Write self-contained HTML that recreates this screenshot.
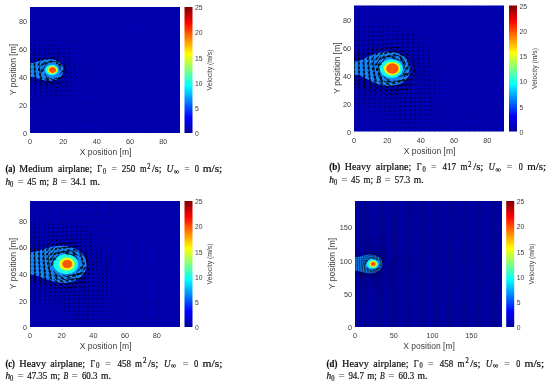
<!DOCTYPE html>
<html><head><meta charset="utf-8"><title>Figure</title>
<style>
html,body{margin:0;padding:0;background:#fff}
svg{display:block;font-family:"Liberation Sans",sans-serif}
.cap text{font-family:"Liberation Serif",serif}
.cap .b{font-weight:bold}
.cap .i{font-style:italic}
.cap .eq{fill:#444;stroke:none}
.cap .sub,.cap .sup{font-size:7.4px}
</style></head><body>
<svg width="550" height="385" viewBox="0 0 550 385">
<rect width="550" height="385" fill="#fff"/>
<defs><linearGradient id="jet" x1="0" y1="1" x2="0" y2="0">
<stop offset="0" stop-color="#00009c"/>
<stop offset="0.125" stop-color="#0000ff"/>
<stop offset="0.25" stop-color="#0080ff"/>
<stop offset="0.375" stop-color="#00ffff"/>
<stop offset="0.5" stop-color="#80ff80"/>
<stop offset="0.625" stop-color="#ffff00"/>
<stop offset="0.75" stop-color="#ff8000"/>
<stop offset="0.875" stop-color="#ff0000"/>
<stop offset="1" stop-color="#800000"/>
</linearGradient>
<clipPath id="cpa"><rect x="30" y="7" width="150" height="126"/></clipPath>
<clipPath id="cpb"><rect x="354" y="5.5" width="150" height="126"/></clipPath>
<clipPath id="cpc"><rect x="30" y="201" width="150" height="126"/></clipPath>
<clipPath id="cpd"><rect x="355" y="201" width="147" height="126"/></clipPath>
</defs>
<g clip-path="url(#cpa)"><g>
<rect x="25" y="2" width="160" height="136" fill="#0000b0"/>
<path d="M45.4 80.5L45.8 80.6L46.2 80.6L46.7 80.7L47.1 80.7L47.5 80.7L47.9 80.8L48.3 80.8L48.8 80.8L49.2 80.8L49.6 80.8L50 80.8L50.4 80.8L50.8 80.8L51.2 80.7L51.7 80.7L52.1 80.6L52.5 80.6L52.9 80.5L53.3 80.4L53.8 80.3L54.2 80.2L54.5 80.2L55 80L55.4 79.9L55.8 79.7L56.2 79.6L56.5 79.5L57.1 79.2L57.5 79L57.9 78.8L58.3 78.5L58.8 78.3L59.1 78.1L59.5 77.7L60 77.3L60.4 77L60.7 76.7L61.1 76.3L61.2 76.1L61.6 75.6L61.9 75.2L62.1 75L62.3 74.6L62.5 74.2L62.7 73.8L62.9 73.5L63 73.2L63.1 72.8L63.2 72.5L63.3 72.1L63.4 71.8L63.4 71.4L63.5 71.1L63.5 70.7L63.5 70.3L63.5 70L63.5 69.7L63.5 69.3L63.5 69L63.4 68.6L63.3 68.3L63.2 67.9L63.1 67.5L63 67.2L62.9 66.9L62.7 66.5L62.6 66.2L62.4 65.8L62.2 65.5L62 65.1L61.7 64.8L61.5 64.4L61.2 64.2L60.8 63.7L60.5 63.4L60.1 63L59.7 62.7L59.3 62.3L58.8 62L58.3 61.7L57.9 61.4L57.6 61.2L57.1 61L56.7 60.8L56.2 60.6L55.8 60.4L55.4 60.3L55 60.1L54.6 60L54.2 59.9L53.8 59.8L53.3 59.7L52.9 59.6L52.5 59.5L52.1 59.5L51.7 59.4L51.2 59.4L50.8 59.3L50.4 59.3L50 59.3L49.6 59.2L49.2 59.2L48.8 59.2L48.3 59.3L47.9 59.3L47.5 59.3L47.1 59.3L46.7 59.4L46.2 59.4L45.8 59.5L45.5 59.5L45 59.6L44.6 59.6L44.2 59.7L43.8 59.8L43.3 59.9L42.9 60L42.5 60.1L42.1 60.2L41.7 60.3L41.2 60.4L40.8 60.5L40.4 60.6L40 60.8L39.6 60.9L39.2 61L38.8 61.2L38.4 61.2L37.9 61.4L37.5 61.6L37.1 61.7L36.7 61.8L36.2 61.9L35.8 62.1L35.4 62.2L35 62.3L34.6 62.4L34.2 62.5L33.8 62.6L33.3 62.7L32.9 62.8L32.5 62.9L32.1 62.9L31.7 63L31.2 63L30.8 63L30.4 63L30 63L30 63.4L30 64.1L30 64.8L30 65.1L30 65.8L30 66.5L30 66.9L30 67.5L30 67.9L30 68.6L30 69.3L30 70L30 70.7L30 71.1L30 71.8L30 72.5L30 72.8L30 73.5L30 74.2L30 74.6L30 75.2L30 76L30 76.3L30 76.9L30.4 76.8L30.8 76.8L31.2 76.9L31.7 76.9L32.1 76.9L32.5 77L32.9 77.1L33.3 77.1L33.8 77.2L34.2 77.3L34.6 77.4L35 77.6L35.4 77.7L35.8 77.8L36.2 77.9L36.6 78.1L37.1 78.2L37.5 78.3L37.9 78.5L38.3 78.6L38.7 78.8L39.2 78.9L39.6 79L40 79.2L40.4 79.3L40.8 79.4L41.2 79.5L41.7 79.7L42.1 79.8L42.5 79.9L42.9 80L43.3 80.1L43.6 80.2L44.2 80.3L44.6 80.4L45 80.4L45.4 80.5Z" fill="#1484fa" fill-rule="evenodd"/>
<path d="M50.7 75.2L51.2 75.3L51.7 75.4L52.1 75.4L52.5 75.3L52.9 75.3L53.3 75.2L53.8 75.2L54.2 75.1L54.6 74.9L55 74.8L55.4 74.6L55.8 74.4L56.1 74.2L56.6 73.8L57 73.5L57.3 73.2L57.5 72.9L57.8 72.5L58 72.1L58.2 71.8L58.3 71.4L58.4 71.1L58.5 70.7L58.5 70.3L58.5 70L58.5 69.7L58.5 69.3L58.4 69L58.3 68.6L58.2 68.2L58 67.9L57.8 67.6L57.6 67.2L57.3 66.9L57.1 66.7L56.7 66.3L56.2 66L56 65.8L55.4 65.5L55 65.3L54.6 65.1L54.2 65L53.8 64.9L53.3 64.8L52.9 64.7L52.5 64.7L52.1 64.7L51.7 64.7L51.2 64.7L50.9 64.8L50.4 64.8L50 64.9L49.6 65L49.2 65.2L48.8 65.3L48.5 65.5L47.9 65.8L47.5 66L47.1 66.4L46.7 66.7L46.3 67.2L46 67.5L45.8 67.8L45.6 68.2L45.5 68.6L45.4 69L45.3 69.3L45.2 69.7L45.2 70L45.2 70.3L45.3 70.7L45.4 71.1L45.5 71.4L45.6 71.8L45.8 72.1L46 72.5L46.2 72.8L46.5 73.2L46.9 73.5L47.1 73.7L47.3 73.8L47.8 74.2L48.3 74.5L48.8 74.7L49.2 74.9L49.6 75L50 75.1L50.4 75.2Z" fill="#14faeb" fill-rule="evenodd"/>
<path d="M50.9 73.8L51.2 73.9L51.7 74L52.1 74L52.5 74L52.9 74L53.3 74L53.8 73.9L54.2 73.8L54.6 73.6L55 73.4L55.4 73.2L55.8 72.8L56.2 72.5L56.5 72.1L56.8 71.8L56.9 71.4L57.1 71.1L57.2 70.7L57.2 70.3L57.2 70L57.2 69.7L57.2 69.3L57.1 69L56.9 68.6L56.7 68.2L56.5 67.9L56.2 67.6L55.8 67.2L55.4 66.9L55 66.6L54.7 66.5L54.2 66.3L53.8 66.2L53.3 66.1L52.9 66L52.5 66L52.1 66L51.7 66L51.2 66.1L50.9 66.2L50.4 66.3L50 66.5L49.6 66.7L49.3 66.9L48.8 67.2L48.4 67.5L48.1 67.9L47.9 68.2L47.7 68.6L47.6 69L47.5 69.3L47.4 69.7L47.4 70L47.4 70.3L47.5 70.7L47.6 71.1L47.7 71.4L47.9 71.8L48.1 72.1L48.3 72.4L48.8 72.8L49.2 73.1L49.6 73.4L49.9 73.5L50.4 73.7L50.8 73.8Z" fill="#ebfa14" fill-rule="evenodd"/>
<path d="M51.7 72.8L52.1 72.9L52.5 72.9L52.9 72.9L53.3 72.8L53.8 72.7L54.2 72.6L54.4 72.5L55 72.1L55.3 71.8L55.6 71.4L55.8 71.1L56 70.7L56 70.3L56.1 70L56 69.7L55.9 69.3L55.8 69L55.6 68.6L55.4 68.4L55 67.9L54.6 67.6L54.2 67.4L53.8 67.3L53.4 67.2L52.9 67.1L52.5 67.1L52.1 67.1L51.8 67.2L51.2 67.3L50.8 67.5L50.4 67.7L50.2 67.9L50 68.1L49.8 68.2L49.6 68.5L49.3 69L49.2 69.3L49.1 69.7L49.1 70L49.1 70.3L49.2 70.7L49.3 71.1L49.5 71.4L49.8 71.8L50 71.9L50.4 72.3L50.7 72.5L51.2 72.7L51.7 72.8Z" fill="#ff5500" fill-rule="evenodd"/>
<path d="M30 133l-.01 0M35 133l.1 0M40 133l.2 0M45 133l.3 0M50 133l.38 0M55 133l.45 0M60 133l.51 0M65 133l.55 0M70 133l.57 0M75 133l.59 0M80 133l.59 0M85 133l.58 0M90 133l.56 0M95 133l.54 0M100 133l.51 0M105 133l.48 0M110 133l.45 0M115 133l.43 0M120 133l.4 0M125 133l.37 0M130 133l.34 0M135 133l.32 0M140 133l.29 0M145 133l.27 0M150 133l.25 0M155 133l.23 0M160 133l.21 0M165 133l.2 0M170 133l.18 0M175 133l.17 0M180 133l.16 0M30 128.8l-.01 .09M35 128.8l.1 .09M40 128.8l.21 .09M45 128.8l.3 .08M50 128.8l.39 .07M55 128.8l.46 .05M60 128.8l.52 .04M65 128.8l.56 .03M70 128.8l.58 .02M75 128.8l.59 0M80 128.8l.59 0M85 128.8l.58 -.01M90 128.8l.56 -.02M95 128.8l.54 -.02M100 128.8l.51 -.02M105 128.8l.48 -.02M110 128.8l.46 -.02M115 128.8l.43 -.02M120 128.8l.4 -.02M125 128.8l.37 -.02M130 128.8l.34 -.02M135 128.8l.32 -.02M140 128.8l.29 -.02M145 128.8l.27 -.02M150 128.8l.25 -.02M155 128.8l.23 -.02M160 128.8l.21 -.01M165 128.8l.2 -.01M170 128.8l.18 -.01M175 128.8l.17 -.01M180 128.8l.16 -.01M30 124.6l-.01 .19M35 124.6l.11 .18M40 124.6l.22 .17M45 124.6l.32 .16M50 124.6l.41 .13M55 124.6l.48 .11M60 124.6l.54 .08M65 124.6l.58 .05M70 124.6l.6 .03M75 124.6l.61 .01M80 124.6l.61 -.01M85 124.6l.59 -.02M90 124.6l.57 -.04M95 124.6l.55 -.04M100 124.6l.52 -.05M105 124.6l.49 -.05M110 124.6l.46 -.05M115 124.6l.42 -.05M120 124.6l.39 -.05M125 124.6l.37 -.05M130 124.6l.34 -.04M135 124.6l.31 -.04M140 124.6l.29 -.04M145 124.6l.27 -.04M150 124.6l.25 -.03M155 124.6l.23 -.03M160 124.6l.21 -.03M165 124.6l.2 -.03M170 124.6l.18 -.02M175 124.6l.17 -.02M180 124.6l.16 -.02M30 120.4l-.01 .29M35 120.4l.12 .29M40 120.4l.24 .27M45 120.4l.35 .24M50 120.4l.45 .2M55 120.4l.53 .16M60 120.4l.58 .12M65 120.4l.62 .08M70 120.4l.64 .04M75 120.4l.64 .01M80 120.4l.63 -.02M85 120.4l.61 -.04M90 120.4l.58 -.06M95 120.4l.55 -.07M100 120.4l.52 -.07M105 120.4l.49 -.08M110 120.4l.45 -.08M115 120.4l.42 -.08M120 120.4l.39 -.07M125 120.4l.36 -.07M130 120.4l.33 -.07M135 120.4l.31 -.06M140 120.4l.29 -.06M145 120.4l.26 -.05M150 120.4l.24 -.05M155 120.4l.23 -.04M160 120.4l.21 -.04M165 120.4l.19 -.04M170 120.4l.18 -.03M175 120.4l.17 -.03M180 120.4l.15 -.03M30 116.2l-.01 .41M35 116.2l.13 .4M40 116.2l.27 .37M45 116.2l.4 .33M50 116.2l.51 .28M55 116.2l.59 .22M60 116.2l.64 .16M65 116.2l.68 .1M70 116.2l.69 .05M75 116.2l.68 0M80 116.2l.66 -.04M85 116.2l.64 -.06M90 116.2l.6 -.08M95 116.2l.57 -.1M100 116.2l.53 -.1M105 116.2l.49 -.11M110 116.2l.45 -.11M115 116.2l.42 -.1M120 116.2l.39 -.1M125 116.2l.36 -.09M130 116.2l.33 -.09M135 116.2l.3 -.08M140 116.2l.28 -.08M145 116.2l.26 -.07M150 116.2l.24 -.06M155 116.2l.22 -.06M160 116.2l.2 -.05M165 116.2l.19 -.05M170 116.2l.17 -.05M175 116.2l.16 -.04M180 116.2l.15 -.04M30 112l-.02 .54M35 112l.16 .53M40 112l.32 .5M45 112l.47 .44M50 112l.59 .36M55 112l.67 .28M60 112l.73 .19M65 112l.76 .11M70 112l.76 .04M75 112l.74 -.02M80 112l.71 -.06M85 112l.67 -.1M90 112l.62 -.12M95 112l.58 -.13M100 112l.53 -.14M105 112l.49 -.14M110 112l.45 -.14M115 112l.41 -.13M120 112l.38 -.13M125 112l.35 -.12M130 112l.32 -.11M135 112l.29 -.1M140 112l.27 -.1M145 112l.25 -.09M150 112l.23 -.08M155 112l.21 -.07M160 112l.2 -.07M165 112l.18 -.06M170 112l.17 -.06M175 112l.16 -.05M180 112l.15 -.05M30 107.8l-.02 .71M35 107.8l.19 .69M40 107.8l.39 .64M45 107.8l.56 .56M50 107.8l.7 .46M55 107.8l.79 .34M60 107.8l.85 .23M65 107.8l.86 .12M70 107.8l.85 .03M75 107.8l.81 -.05M80 107.8l.76 -.1M85 107.8l.7 -.14M90 107.8l.64 -.16M95 107.8l.59 -.17M100 107.8l.54 -.18M105 107.8l.49 -.18M110 107.8l.44 -.17M115 107.8l.4 -.16M120 107.8l.37 -.15M125 107.8l.34 -.14M130 107.8l.31 -.13M135 107.8l.28 -.12M140 107.8l.26 -.11M145 107.8l.24 -.1M150 107.8l.22 -.1M155 107.8l.2 -.09M160 107.8l.19 -.08M165 107.8l.18 -.07M170 107.8l.16 -.07M175 107.8l.15 -.06M180 107.8l.14 -.06M30 103.6l-.03 .91M35 103.6l.24 .88M40 103.6l.48 .82M45 103.6l.69 .7M50 103.6l.86 .56M55 103.6l.96 .4M60 103.6l1 .25M65 103.6l1 .11M70 103.6l.95 -.01M75 103.6l.89 -.09M80 103.6l.81 -.16M85 103.6l.74 -.19M90 103.6l.66 -.21M95 103.6l.59 -.22M100 103.6l.53 -.22M105 103.6l.48 -.22M110 103.6l.43 -.21M115 103.6l.39 -.19M120 103.6l.36 -.18M125 103.6l.32 -.17M130 103.6l.3 -.16M135 103.6l.27 -.14M140 103.6l.25 -.13M145 103.6l.23 -.12M150 103.6l.21 -.11M155 103.6l.19 -.1M160 103.6l.18 -.09M165 103.6l.17 -.08M170 103.6l.16 -.08M175 103.6l.14 -.07M180 103.6l.13 -.06M30 99.4l-.03 1.16M35 99.4l.3 1.13M40 99.4l.61 1.03M45 99.4l.88 .88M50 99.4l1.07 .68M55 99.4l1.18 .46M60 99.4l1.21 .25M65 99.4l1.17 .07M70 99.4l1.08 -.07M75 99.4l.98 -.17M80 99.4l.87 -.23M85 99.4l.77 -.27M90 99.4l.67 -.28M95 99.4l.59 -.28M100 99.4l.53 -.27M105 99.4l.47 -.26M110 99.4l.42 -.24M115 99.4l.37 -.23M120 99.4l.34 -.21M125 99.4l.31 -.19M130 99.4l.28 -.18M135 99.4l.26 -.16M140 99.4l.23 -.15M145 99.4l.22 -.14M150 99.4l.2 -.12M155 99.4l.18 -.11M160 99.4l.17 -.1M165 99.4l.16 -.09M170 99.4l.15 -.09M175 99.4l.14 -.08M180 99.4l.13 -.07M30 95.2l-.04 1.48M35 95.2l.38 1.44M65 95.2l1.39 -.01M70 95.2l1.24 -.18M75 95.2l1.07 -.28M80 95.2l.92 -.34M85 95.2l.79 -.36M90 95.2l.68 -.36M95 95.2l.58 -.35M100 95.2l.51 -.33M105 95.2l.45 -.31M110 95.2l.39 -.28M115 95.2l.35 -.26M120 95.2l.32 -.24M125 95.2l.28 -.22M130 95.2l.26 -.2M135 95.2l.24 -.18M140 95.2l.22 -.16M145 95.2l.2 -.15M150 95.2l.18 -.14M155 95.2l.17 -.12M160 95.2l.16 -.11M165 95.2l.15 -.1M170 95.2l.14 -.09M175 95.2l.13 -.09M180 95.2l.12 -.08M70 91l1.4 -.35M75 91l1.16 -.44M80 91l.95 -.48M85 91l.79 -.47M90 91l.66 -.45M95 91l.55 -.42M100 91l.47 -.39M105 91l.41 -.35M110 91l.36 -.32M115 91l.32 -.29M120 91l.29 -.27M125 91l.26 -.24M130 91l.24 -.22M135 91l.21 -.2M140 91l.2 -.18M145 91l.18 -.16M150 91l.17 -.15M155 91l.16 -.13M160 91l.15 -.12M165 91l.14 -.11M170 91l.13 -.1M175 91l.12 -.09M180 91l.11 -.09M75 86.8l1.2 -.66M80 86.8l.94 -.65M85 86.8l.75 -.6M90 86.8l.61 -.55M95 86.8l.5 -.5M100 86.8l.43 -.45M105 86.8l.37 -.4M110 86.8l.32 -.36M115 86.8l.28 -.32M120 86.8l.25 -.29M125 86.8l.23 -.26M130 86.8l.21 -.24M135 86.8l.19 -.21M140 86.8l.18 -.19M145 86.8l.16 -.17M150 86.8l.15 -.16M155 86.8l.14 -.14M160 86.8l.13 -.13M165 86.8l.12 -.12M170 86.8l.11 -.11M175 86.8l.11 -.1M180 86.8l.1 -.09M75 82.6l1.15 -.94M80 82.6l.86 -.84M85 82.6l.66 -.74M90 82.6l.52 -.65M95 82.6l.43 -.57M100 82.6l.36 -.5M105 82.6l.31 -.44M110 82.6l.27 -.39M115 82.6l.24 -.35M120 82.6l.21 -.31M125 82.6l.19 -.28M130 82.6l.18 -.25M135 82.6l.16 -.22M140 82.6l.15 -.2M145 82.6l.14 -.18M150 82.6l.13 -.17M155 82.6l.12 -.15M160 82.6l.12 -.14M165 82.6l.11 -.13M170 82.6l.1 -.11M175 82.6l.1 -.1M180 82.6l.09 -.1M80 78.4l.68 -1.04M85 78.4l.51 -.87M90 78.4l.4 -.73M95 78.4l.33 -.63M100 78.4l.28 -.54M105 78.4l.24 -.47M110 78.4l.21 -.42M115 78.4l.19 -.37M120 78.4l.17 -.33M125 78.4l.16 -.29M130 78.4l.15 -.26M135 78.4l.14 -.23M140 78.4l.13 -.21M145 78.4l.12 -.19M150 78.4l.11 -.17M155 78.4l.11 -.16M160 78.4l.1 -.14M165 78.4l.1 -.13M170 78.4l.09 -.12M175 78.4l.09 -.11M180 78.4l.08 -.1M80 74.2l.41 -1.19M85 74.2l.31 -.96M90 74.2l.25 -.79M95 74.2l.21 -.67M100 74.2l.18 -.57M105 74.2l.16 -.49M110 74.2l.15 -.43M115 74.2l.13 -.38M120 74.2l.12 -.34M125 74.2l.12 -.3M130 74.2l.11 -.27M135 74.2l.11 -.24M140 74.2l.1 -.22M145 74.2l.1 -.2M150 74.2l.09 -.18M155 74.2l.09 -.16M160 74.2l.08 -.15M165 74.2l.08 -.13M170 74.2l.08 -.12M175 74.2l.07 -.11M180 74.2l.07 -.1M80 70l.06 -1.24M85 70l.07 -.99M90 70l.07 -.81M95 70l.07 -.68M100 70l.07 -.58M105 70l.08 -.5M110 70l.08 -.44M115 70l.08 -.38M120 70l.08 -.34M125 70l.08 -.3M130 70l.08 -.27M135 70l.08 -.24M140 70l.07 -.22M145 70l.07 -.2M150 70l.07 -.18M155 70l.07 -.16M160 70l.07 -.15M165 70l.07 -.14M170 70l.06 -.12M175 70l.06 -.11M180 70l.06 -.11M80 65.8l-.28 -1.18M85 65.8l-.17 -.95M90 65.8l-.11 -.79M95 65.8l-.06 -.66M100 65.8l-.03 -.57M105 65.8l-.01 -.49M110 65.8l.01 -.43M115 65.8l.02 -.38M120 65.8l.03 -.34M125 65.8l.04 -.3M130 65.8l.04 -.27M135 65.8l.05 -.24M140 65.8l.05 -.22M145 65.8l.05 -.2M150 65.8l.05 -.18M155 65.8l.05 -.16M160 65.8l.05 -.15M165 65.8l.05 -.14M170 65.8l.05 -.13M175 65.8l.05 -.12M180 65.8l.05 -.11M75 61.6l-.84 -1.24M80 61.6l-.56 -1.02M85 61.6l-.38 -.86M90 61.6l-.26 -.72M95 61.6l-.18 -.62M100 61.6l-.13 -.54M105 61.6l-.09 -.47M110 61.6l-.06 -.41M115 61.6l-.03 -.37M120 61.6l-.02 -.33M125 61.6l0 -.29M130 61.6l.01 -.26M135 61.6l.02 -.24M140 61.6l.02 -.22M145 61.6l.03 -.2M150 61.6l.03 -.18M155 61.6l.03 -.16M160 61.6l.04 -.15M165 61.6l.04 -.14M170 61.6l.04 -.13M175 61.6l.04 -.12M180 61.6l.04 -.11M75 57.4l-1.03 -.92M80 57.4l-.73 -.82M85 57.4l-.52 -.72M90 57.4l-.38 -.63M95 57.4l-.28 -.56M100 57.4l-.21 -.49M105 57.4l-.15 -.43M110 57.4l-.11 -.39M115 57.4l-.08 -.35M120 57.4l-.06 -.31M125 57.4l-.04 -.28M130 57.4l-.02 -.25M135 57.4l-.01 -.23M140 57.4l0 -.21M145 57.4l.01 -.19M150 57.4l.01 -.17M155 57.4l.02 -.16M160 57.4l.02 -.15M165 57.4l.02 -.14M170 57.4l.03 -.12M175 57.4l.03 -.11M180 57.4l.03 -.11M75 53.2l-1.07 -.63M80 53.2l-.8 -.62M85 53.2l-.61 -.58M90 53.2l-.46 -.53M95 53.2l-.35 -.48M100 53.2l-.27 -.43M105 53.2l-.21 -.39M110 53.2l-.16 -.35M115 53.2l-.12 -.32M120 53.2l-.09 -.29M125 53.2l-.07 -.26M130 53.2l-.05 -.24M135 53.2l-.04 -.22M140 53.2l-.02 -.2M145 53.2l-.01 -.18M150 53.2l-.01 -.17M155 53.2l0 -.16M160 53.2l.01 -.14M165 53.2l.01 -.13M170 53.2l.01 -.12M175 53.2l.02 -.11M180 53.2l.02 -.1M70 49l-1.27 -.31M75 49l-1.02 -.4M80 49l-.81 -.44M85 49l-.64 -.44M90 49l-.5 -.43M95 49l-.4 -.4M100 49l-.31 -.37M105 49l-.25 -.35M110 49l-.2 -.32M115 49l-.16 -.29M120 49l-.12 -.27M125 49l-.1 -.25M130 49l-.08 -.23M135 49l-.06 -.21M140 49l-.04 -.19M145 49l-.03 -.18M150 49l-.02 -.16M155 49l-.01 -.15M160 49l-.01 -.14M165 49l0 -.13M170 49l0 -.12M175 49l.01 -.11M180 49l.01 -.1M60 44.8l-1.38 .29M65 44.8l-1.27 .05M70 44.8l-1.11 -.13M75 44.8l-.93 -.24M80 44.8l-.77 -.3M85 44.8l-.63 -.33M90 44.8l-.51 -.33M95 44.8l-.42 -.33M100 44.8l-.34 -.31M105 44.8l-.28 -.3M110 44.8l-.22 -.28M115 44.8l-.18 -.26M120 44.8l-.15 -.24M125 44.8l-.12 -.22M130 44.8l-.1 -.21M135 44.8l-.08 -.19M140 44.8l-.06 -.18M145 44.8l-.05 -.17M150 44.8l-.04 -.15M155 44.8l-.03 -.14M160 44.8l-.02 -.13M165 44.8l-.01 -.12M170 44.8l-.01 -.12M175 44.8l0 -.11M180 44.8l0 -.1M30 40.6l.03 1.26M35 40.6l-.28 1.23M40 40.6l-.57 1.13M45 40.6l-.82 .97M50 40.6l-.99 .77M55 40.6l-1.09 .55M60 40.6l-1.1 .33M65 40.6l-1.04 .14M70 40.6l-.95 -.01M75 40.6l-.83 -.12M80 40.6l-.71 -.19M85 40.6l-.6 -.23M90 40.6l-.51 -.25M95 40.6l-.42 -.26M100 40.6l-.35 -.26M105 40.6l-.29 -.25M110 40.6l-.24 -.24M115 40.6l-.2 -.23M120 40.6l-.17 -.22M125 40.6l-.14 -.2M130 40.6l-.11 -.19M135 40.6l-.09 -.18M140 40.6l-.08 -.17M145 40.6l-.06 -.16M150 40.6l-.05 -.15M155 40.6l-.04 -.14M160 40.6l-.03 -.13M165 40.6l-.02 -.12M170 40.6l-.02 -.11M175 40.6l-.01 -.1M180 40.6l-.01 -.1M30 36.4l.02 1.02M35 36.4l-.22 1M40 36.4l-.44 .93M45 36.4l-.63 .82M50 36.4l-.77 .67M55 36.4l-.86 .5M60 36.4l-.88 .34M65 36.4l-.86 .19M70 36.4l-.81 .06M75 36.4l-.73 -.03M80 36.4l-.65 -.1M85 36.4l-.56 -.15M90 36.4l-.48 -.18M95 36.4l-.41 -.2M100 36.4l-.35 -.2M105 36.4l-.3 -.21M110 36.4l-.25 -.2M115 36.4l-.21 -.2M120 36.4l-.18 -.19M125 36.4l-.15 -.18M130 36.4l-.13 -.17M135 36.4l-.11 -.16M140 36.4l-.09 -.15M145 36.4l-.07 -.14M150 36.4l-.06 -.14M155 36.4l-.05 -.13M160 36.4l-.04 -.12M165 36.4l-.03 -.11M170 36.4l-.02 -.11M175 36.4l-.02 -.1M180 36.4l-.01 -.09M30 32.2l.02 .84M35 32.2l-.17 .83M40 32.2l-.34 .78M45 32.2l-.49 .69M50 32.2l-.61 .58M55 32.2l-.68 .46M60 32.2l-.72 .33M65 32.2l-.71 .21M70 32.2l-.69 .11M75 32.2l-.64 .02M80 32.2l-.58 -.04M85 32.2l-.52 -.09M90 32.2l-.45 -.12M95 32.2l-.4 -.15M100 32.2l-.34 -.16M105 32.2l-.3 -.17M110 32.2l-.25 -.17M115 32.2l-.22 -.17M120 32.2l-.19 -.16M125 32.2l-.16 -.16M130 32.2l-.14 -.15M135 32.2l-.11 -.15M140 32.2l-.1 -.14M145 32.2l-.08 -.13M150 32.2l-.07 -.13M155 32.2l-.06 -.12M160 32.2l-.05 -.11M165 32.2l-.04 -.11M170 32.2l-.03 -.1M175 32.2l-.03 -.09M180 32.2l-.02 -.09M30 28l.01 .7M35 28l-.13 .69M40 28l-.27 .65M45 28l-.39 .59M50 28l-.48 .51M55 28l-.55 .41M60 28l-.59 .31M65 28l-.6 .22M70 28l-.58 .14M75 28l-.55 .06M80 28l-.51 0M85 28l-.47 -.04M90 28l-.42 -.08M95 28l-.37 -.1M100 28l-.33 -.12M105 28l-.29 -.13M110 28l-.25 -.14M115 28l-.22 -.14M120 28l-.19 -.14M125 28l-.16 -.14M130 28l-.14 -.13M135 28l-.12 -.13M140 28l-.1 -.13M145 28l-.09 -.12M150 28l-.08 -.12M155 28l-.06 -.11M160 28l-.06 -.1M165 28l-.05 -.1M170 28l-.04 -.09M175 28l-.03 -.09M180 28l-.03 -.08M30 23.8l.01 .59M35 23.8l-.1 .58M40 23.8l-.21 .55M45 23.8l-.31 .51M50 23.8l-.39 .44M55 23.8l-.45 .37M60 23.8l-.48 .29M65 23.8l-.5 .22M70 23.8l-.5 .15M75 23.8l-.48 .09M80 23.8l-.45 .03M85 23.8l-.42 -.01M90 23.8l-.38 -.04M95 23.8l-.35 -.07M100 23.8l-.31 -.09M105 23.8l-.28 -.1M110 23.8l-.24 -.11M115 23.8l-.22 -.12M120 23.8l-.19 -.12M125 23.8l-.17 -.12M130 23.8l-.14 -.12M135 23.8l-.13 -.12M140 23.8l-.11 -.11M145 23.8l-.09 -.11M150 23.8l-.08 -.11M155 23.8l-.07 -.1M160 23.8l-.06 -.1M165 23.8l-.05 -.09M170 23.8l-.04 -.09M175 23.8l-.04 -.08M180 23.8l-.03 -.08M30 19.6l.01 .5M35 19.6l-.08 .5M40 19.6l-.17 .48M45 19.6l-.25 .44M50 19.6l-.32 .39M55 19.6l-.37 .33M60 19.6l-.4 .27M65 19.6l-.42 .21M70 19.6l-.42 .15M75 19.6l-.42 .1M80 19.6l-.4 .06M85 19.6l-.38 .02M90 19.6l-.35 -.02M95 19.6l-.32 -.04M100 19.6l-.29 -.06M105 19.6l-.26 -.08M110 19.6l-.23 -.09M115 19.6l-.21 -.09M120 19.6l-.19 -.1M125 19.6l-.16 -.1M130 19.6l-.15 -.1M135 19.6l-.13 -.1M140 19.6l-.11 -.1M145 19.6l-.1 -.1M150 19.6l-.09 -.1M155 19.6l-.08 -.09M160 19.6l-.07 -.09M165 19.6l-.06 -.09M170 19.6l-.05 -.08M175 19.6l-.04 -.08M180 19.6l-.04 -.07M30 15.4l.01 .43M35 15.4l-.07 .43M40 15.4l-.14 .41M45 15.4l-.21 .38M50 15.4l-.26 .34M55 15.4l-.31 .3M60 15.4l-.34 .25M65 15.4l-.36 .2M70 15.4l-.36 .15M75 15.4l-.36 .11M80 15.4l-.35 .07M85 15.4l-.34 .03M90 15.4l-.32 0M95 15.4l-.29 -.02M100 15.4l-.27 -.04M105 15.4l-.25 -.05M110 15.4l-.22 -.07M115 15.4l-.2 -.07M120 15.4l-.18 -.08M125 15.4l-.16 -.08M130 15.4l-.14 -.09M135 15.4l-.13 -.09M140 15.4l-.11 -.09M145 15.4l-.1 -.09M150 15.4l-.09 -.09M155 15.4l-.08 -.08M160 15.4l-.07 -.08M165 15.4l-.06 -.08M170 15.4l-.05 -.08M175 15.4l-.05 -.07M180 15.4l-.04 -.07M30 11.2l.01 .38M35 11.2l-.06 .37M40 11.2l-.12 .36M45 11.2l-.17 .33M50 11.2l-.22 .3M55 11.2l-.26 .27M60 11.2l-.28 .23M65 11.2l-.3 .19M70 11.2l-.31 .15M75 11.2l-.31 .11M80 11.2l-.31 .08M85 11.2l-.3 .05M90 11.2l-.28 .02M95 11.2l-.27 0M100 11.2l-.25 -.02M105 11.2l-.23 -.04M110 11.2l-.21 -.05M115 11.2l-.19 -.06M120 11.2l-.17 -.07M125 11.2l-.16 -.07M130 11.2l-.14 -.07M135 11.2l-.13 -.08M140 11.2l-.11 -.08M145 11.2l-.1 -.08M150 11.2l-.09 -.08M155 11.2l-.08 -.08M160 11.2l-.07 -.07M165 11.2l-.06 -.07M170 11.2l-.06 -.07M175 11.2l-.05 -.07M180 11.2l-.04 -.07M30 7l.01 .33M35 7l-.05 .32M40 7l-.1 .31M45 7l-.14 .3M50 7l-.18 .27M55 7l-.22 .24M60 7l-.24 .21M65 7l-.26 .18M70 7l-.27 .15M75 7l-.27 .11M80 7l-.27 .08M85 7l-.27 .06M90 7l-.26 .03M95 7l-.24 .01M100 7l-.23 -.01M105 7l-.21 -.02M110 7l-.2 -.03M115 7l-.18 -.04M120 7l-.17 -.05M125 7l-.15 -.06M130 7l-.14 -.06M135 7l-.12 -.06M140 7l-.11 -.07M145 7l-.1 -.07M150 7l-.09 -.07M155 7l-.08 -.07M160 7l-.07 -.07M165 7l-.06 -.07M170 7l-.06 -.06M175 7l-.05 -.06M180 7l-.05 -.06" fill="none" stroke="#000" stroke-opacity="0.8" stroke-width="0.4" stroke-linecap="round"/>
<path d="M40 95.2L40.8 96.5L40.3 96.2M40.8 96.5L40.7 95.9M45 95.2L46.1 96.3L45.6 96.1M46.1 96.3L45.9 95.7M50 95.2L51.4 96L50.8 96M51.4 96L51 95.5M55 95.2L56.5 95.7L55.9 95.8M56.5 95.7L56.1 95.3M60 95.2L61.5 95.4L60.9 95.6M61.5 95.4L61 95.1M30 91L29.9 92.9L29.7 92.2M29.9 92.9L30.3 92.2M35 91L35.5 92.8L35 92.3M35.5 92.8L35.6 92.1M40 91L41 92.7L40.4 92.3M41 92.7L40.9 91.9M45 91L46.5 92.4L45.7 92.1M46.5 92.4L46.2 91.7M50 91L51.8 92L51 91.9M51.8 92L51.3 91.4M55 91L56.9 91.5L56.2 91.7M56.9 91.5L56.3 91M60 91L61.9 91.1L61.2 91.4M61.9 91.1L61.2 90.8M65 91L66.6 90.8L66.1 91.2M66.6 90.8L66 90.6M30 86.8L29.9 89.2L29.6 88.4M29.9 89.2L30.3 88.4M35 86.8L35.6 89.2L35 88.4M35.6 89.2L35.8 88.2M40 86.8L41.3 89L40.5 88.4M41.3 89L41.2 88M45 86.8L47 88.6L46 88.3M47 88.6L46.6 87.7M50 86.8L52.5 88L51.4 88M52.5 88L51.8 87.2M55 86.8L57.6 87.3L56.6 87.6M57.6 87.3L56.8 86.7M60 86.8L62.4 86.7L61.5 87.1M62.4 86.7L61.5 86.4M65 86.8L67 86.4L66.3 86.8M67 86.4L66.2 86.2M70 86.8L71.5 86.2L71.1 86.6M71.5 86.2L70.9 86.2M30 82.6L29.9 85.6L29.5 84.6M29.9 85.6L30.4 84.6M35 82.6L35.7 85.6L35 84.7M35.7 85.6L36 84.4M60 82.6L63 82.1L62.1 82.7M63 82.1L61.9 81.8M65 82.6L67.2 81.7L66.6 82.4M67.2 81.7L66.3 81.6M70 82.6L71.6 81.6L71.2 82.2M71.6 81.6L70.9 81.7M65 78.4L67.3 76.7L66.8 77.6M67.3 76.7L66.2 76.9M70 78.4L71.4 76.9L71.2 77.7M71.4 76.9L70.7 77.2M75 78.4L76 77.1L75.8 77.7M76 77.1L75.4 77.4M70 74.2L70.9 72.2L70.9 73M70.9 72.2L70.3 72.7M75 74.2L75.6 72.7L75.6 73.3M75.6 72.7L75.1 73.1M70 70L70.1 67.8L70.4 68.6M70.1 67.8L69.7 68.5M75 70L75.1 68.4L75.3 69M75.1 68.4L74.8 68.9M70 65.8L69.2 63.8L69.8 64.4M69.2 63.8L69.1 64.6M75 65.8L74.5 64.3L74.9 64.7M74.5 64.3L74.5 64.9M65 61.6L62.8 59.9L63.8 60.1M62.8 59.9L63.3 60.8M70 61.6L68.7 60.1L69.4 60.4M68.7 60.1L68.9 60.8M30 57.4L30.1 60.5L29.6 59.4M30.1 60.5L30.5 59.4M35 57.4L34.3 60.4L34.1 59.3M34.3 60.4L35 59.5M60 57.4L57 56.9L58.2 56.6M57 56.9L58 57.6M65 57.4L62.9 56.5L63.8 56.5M62.9 56.5L63.5 57.2M70 57.4L68.5 56.4L69.2 56.5M68.5 56.4L68.9 57M30 53.2L30.1 55.7L29.6 54.8M30.1 55.7L30.4 54.8M35 53.2L34.4 55.6L34.2 54.7M34.4 55.6L35 54.9M40 53.2L38.7 55.4L38.8 54.4M38.7 55.4L39.5 54.9M45 53.2L43.1 55.1L43.4 54.1M43.1 55.1L44 54.7M50 53.2L47.6 54.5L48.2 53.6M47.6 54.5L48.6 54.4M55 53.2L52.5 53.8L53.3 53.2M52.5 53.8L53.5 54M60 53.2L57.7 53.2L58.5 52.8M57.7 53.2L58.5 53.5M65 53.2L63.2 52.8L63.9 52.6M63.2 52.8L63.7 53.2M70 53.2L68.6 52.6L69.2 52.6M68.6 52.6L69 53.1M30 49L30.1 51L29.7 50.3M30.1 51L30.3 50.3M35 49L34.5 50.9L34.4 50.2M34.5 50.9L35 50.3M40 49L39 50.7L39.1 50M39 50.7L39.6 50.3M45 49L43.6 50.5L43.8 49.7M43.6 50.5L44.3 50.2M50 49L48.3 50.1L48.7 49.4M48.3 50.1L49 50M55 49L53.1 49.6L53.7 49.1M53.1 49.6L53.9 49.7M60 49L58.2 49.2L58.8 48.8M58.2 49.2L58.9 49.4M65 49L63.5 48.9L64 48.7M63.5 48.9L64 49.2M30 44.8L30 46.4L29.8 45.8M30 46.4L30.3 45.8M35 44.8L34.6 46.3L34.5 45.7M34.6 46.3L35 45.8M40 44.8L39.2 46.2L39.3 45.6M39.2 46.2L39.7 45.8M45 44.8L43.9 46L44.1 45.4M43.9 46L44.5 45.7M50 44.8L48.7 45.7L49 45.2M48.7 45.7L49.3 45.6M55 44.8L53.6 45.4L54 45M53.6 45.4L54.2 45.4" fill="none" stroke="#000" stroke-opacity="0.85" stroke-width="0.45" stroke-linecap="round"/>
<path d="M40 82.6L41.6 85.5L40.6 84.7M41.6 85.5L41.5 84.2M45 82.6L47.6 85.1L46.3 84.6M47.6 85.1L47.1 83.8M50 82.6L53.5 84.2L52 84.2M53.5 84.2L52.5 83.1M55 82.6L58.6 83L57.3 83.4M58.6 83L57.4 82.3M30 78.4L29.9 82.1L29.4 80.8M29.9 82.1L30.5 80.8M35 78.4L35.7 82.1L34.9 80.9M35.7 82.1L36.1 80.7M40 78.4L41.8 82.2L40.5 81.2M41.8 82.2L41.8 80.6M45 78.4L48.4 82.1L46.6 81.3M48.4 82.1L47.8 80.2M50 78.4L55.3 80.8L53.1 80.8M55.3 80.8L53.9 79.1M55 78.4L60.6 78.3L58.6 79.2M60.6 78.3L58.6 77.4M60 78.4L63.8 76.8L62.7 78M63.8 76.8L62.2 76.8M30 74.2L29.9 78.5L29.3 77M29.9 78.5L30.6 77M35 74.2L35.5 78.6L34.6 77.1M35.5 78.6L36 77M40 74.2L41.3 79.1L40.1 77.6M41.3 79.1L41.7 77.2M45 74.2L48.3 80.1L46.2 78.6M48.3 80.1L48.1 77.5M60 74.2L63.9 70.3L63.2 72.3M63.9 70.3L61.9 71M65 74.2L66.7 71.4L66.6 72.7M66.7 71.4L65.7 72.1M30 70L30 74.5L29.3 72.9M30 74.5L30.7 72.9M35 70L35 74.7L34.3 73M35 74.7L35.8 73M40 70L40 75.5L39.1 73.6M40 75.5L40.9 73.6M60 70L60 63.8L61 66M60 63.8L59 66M65 70L65 66.6L65.6 67.8M65 66.6L64.5 67.8M30 65.8L30 70.1L29.3 68.6M30 70.1L30.7 68.6M35 65.8L34.5 70.2L34 68.6M34.5 70.2L35.4 68.7M40 65.8L38.7 70.7L38.4 68.8M38.7 70.7L39.9 69.2M45 65.8L41.7 71.7L41.9 69.1M41.7 71.7L43.8 70.2M60 65.8L56.2 61.9L58.1 62.7M56.2 61.9L56.9 63.9M65 65.8L63.4 63L64.4 63.7M63.4 63L63.5 64.3M30 61.6L30.1 65.3L29.5 64M30.1 65.3L30.6 64M35 61.6L34.3 65.4L33.9 63.9M34.3 65.4L35.1 64.2M40 61.6L38.3 65.5L38.3 63.8M38.3 65.5L39.5 64.4M45 61.6L41.7 65.3L42.2 63.5M41.7 65.3L43.4 64.5M50 61.6L44.7 64L46.2 62.3M44.7 64L47 64M55 61.6L49.5 61.5L51.4 60.7M49.5 61.5L51.4 62.4M60 61.6L56.2 60.1L57.8 60M56.2 60.1L57.3 61.2M40 57.4L38.4 60.3L38.5 59M38.4 60.3L39.4 59.5M45 57.4L42.4 59.9L42.9 58.6M42.4 59.9L43.7 59.4M50 57.4L46.6 59L47.5 57.9M46.6 59L48 59M55 57.4L51.4 57.8L52.6 57.1M51.4 57.8L52.8 58.2" fill="none" stroke="#000" stroke-opacity="1" stroke-width="0.85" stroke-linecap="round"/>
</g></g>
<rect x="184.5" y="7" width="8" height="126" fill="url(#jet)"/>
<g font-size="6.8" fill="#3c3c3c">
<text x="195.1" y="136.2">0</text>
<text x="195.1" y="111">5</text>
<text x="195.1" y="85.8">10</text>
<text x="195.1" y="60.6">15</text>
<text x="195.1" y="35.4">20</text>
<text x="195.1" y="10.2">25</text>
<text transform="translate(212 70) rotate(-90)" text-anchor="middle">Velocity (m/s)</text>
</g>
<g font-size="7.3" fill="#3c3c3c">
<text x="30" y="144.1" text-anchor="middle">0</text>
<text x="27" y="136.2" text-anchor="end">0</text>
<text x="63.3" y="144.1" text-anchor="middle">20</text>
<text x="27" y="108.2" text-anchor="end">20</text>
<text x="96.7" y="144.1" text-anchor="middle">40</text>
<text x="27" y="80.2" text-anchor="end">40</text>
<text x="130" y="144.1" text-anchor="middle">60</text>
<text x="27" y="52.2" text-anchor="end">60</text>
<text x="163.3" y="144.1" text-anchor="middle">80</text>
<text x="27" y="24.2" text-anchor="end">80</text>
</g>
<g font-size="8.5" fill="#3c3c3c" text-anchor="middle">
<text x="105.6" y="155.3">X position [m]</text>
<text transform="translate(15.5 69.5) rotate(-90)">Y position [m]</text>
</g>
<g clip-path="url(#cpb)"><g>
<rect x="349" y="0.5" width="160" height="136" fill="#0000b0"/>
<path d="M388.5 86L389 86L389.4 86L389.8 86L390.2 86L390.7 86L391.1 86L391.5 85.9L391.9 85.9L392.3 85.9L392.8 85.8L393.2 85.8L393.6 85.7L393.9 85.7L394.4 85.6L394.8 85.5L395.2 85.4L395.7 85.3L396.1 85.2L396.5 85.1L396.9 85L397.3 84.9L397.8 84.7L398.1 84.6L398.6 84.4L399 84.3L399.4 84.1L399.8 83.9L400.2 83.7L400.6 83.6L401.1 83.3L401.3 83.2L401.9 82.9L402.3 82.6L402.8 82.4L403.1 82.2L403.6 81.8L404 81.5L404.4 81.2L404.8 80.8L405.2 80.4L405.7 80.1L406 79.7L406.4 79.3L406.7 79L406.9 78.7L407.2 78.3L407.5 78L407.8 77.6L408 77.2L408.2 77L408.4 76.6L408.6 76.3L408.8 75.8L409 75.5L409.2 75.2L409.3 74.8L409.5 74.5L409.6 74.1L409.7 73.8L409.8 73.4L409.9 73.1L410 72.7L410.1 72.3L410.2 72L410.3 71.7L410.3 71.3L410.4 71L410.4 70.6L410.4 70.2L410.5 69.9L410.5 69.6L410.5 69.2L410.5 68.8L410.5 68.5L410.4 68.2L410.4 67.8L410.4 67.5L410.3 67.1L410.3 66.8L410.2 66.4L410.1 66L410 65.7L409.9 65.4L409.8 65L409.7 64.7L409.6 64.3L409.5 64L409.3 63.6L409.2 63.2L409 62.9L408.8 62.6L408.7 62.2L408.5 61.9L408.2 61.5L408 61.2L407.8 60.8L407.5 60.5L407.3 60.2L407 59.8L406.7 59.4L406.5 59.2L406.1 58.7L405.8 58.4L405.4 58L405 57.7L404.6 57.3L404.4 57.1L404.2 57L404 56.8L403.8 56.6L403.3 56.2L402.8 55.9L402.3 55.6L401.9 55.3L401.7 55.2L401.1 54.9L400.7 54.6L400.4 54.5L399.8 54.2L399.4 54L399 53.8L398.6 53.7L398.2 53.5L397.8 53.3L397.3 53.2L397.1 53.1L396.5 52.9L396.1 52.8L395.7 52.7L395.2 52.6L394.8 52.5L394.4 52.4L394 52.3L393.6 52.2L393.2 52.1L392.8 52.1L392.3 52L391.9 51.9L391.5 51.9L391.1 51.8L390.7 51.8L390.2 51.7L389.9 51.7L389.4 51.7L389 51.7L388.6 51.6L388.2 51.6L387.8 51.6L387.3 51.6L386.9 51.6L386.5 51.6L386.1 51.7L385.7 51.7L385.2 51.7L384.8 51.7L384.4 51.8L384 51.8L383.6 51.9L383.2 51.9L382.8 52L382.3 52L381.9 52.1L381.5 52.2L381.1 52.2L380.7 52.3L380.3 52.4L379.8 52.5L379.4 52.6L379 52.7L378.6 52.8L378.2 52.9L377.8 53L377.4 53.1L376.9 53.2L376.5 53.4L376.2 53.5L375.7 53.6L375.2 53.8L374.8 53.9L374.4 54L374.1 54.2L373.6 54.3L373.2 54.5L372.8 54.7L372.3 54.8L371.9 55L371.5 55.2L371.1 55.3L370.7 55.5L370.2 55.7L369.8 55.9L369.4 56.1L369 56.2L368.6 56.5L368.3 56.6L367.8 56.8L367.3 57L366.9 57.2L366.5 57.4L366.1 57.6L365.7 57.8L365.3 58L364.8 58.3L364.4 58.5L364 58.7L363.6 58.9L363.2 59.1L362.8 59.2L362.4 59.4L361.9 59.6L361.6 59.8L361.1 60L360.8 60.1L360.2 60.3L359.9 60.5L359.4 60.6L359 60.8L358.6 60.9L358.2 61L357.8 61.1L357.3 61.2L356.9 61.3L356.5 61.3L356.1 61.4L355.7 61.4L355.2 61.4L354.8 61.4L354.4 61.4L354 61.3L354 61.9L354 62.6L354 63.2L354 63.6L354 64.3L354 65L354 65.4L354 66L354 66.4L354 67.1L354 67.8L354 68.5L354 69.2L354 69.6L354 70.2L354 71L354 71.3L354 72L354 72.7L354 73.1L354 73.8L354 74.5L354.4 74.7L354.8 74.7L355.2 74.7L355.7 74.7L356.1 74.7L356.5 74.7L356.9 74.8L357.3 74.9L357.8 75L358.2 75.1L358.6 75.2L359 75.3L359.4 75.5L359.8 75.6L360.2 75.8L360.7 76L361.1 76.2L361.5 76.3L361.9 76.5L362.3 76.7L362.6 76.9L363.2 77.2L363.6 77.4L364 77.6L364.4 77.8L364.7 78L365.2 78.3L365.7 78.5L366 78.7L366.5 78.9L366.9 79.1L367.3 79.3L367.8 79.6L368.2 79.8L368.6 80L369 80.2L369.3 80.4L369.8 80.7L370.2 80.9L370.7 81.1L371.1 81.3L371.5 81.5L371.9 81.7L372.2 81.8L372.8 82L373 82.2L373.6 82.4L374 82.6L374.4 82.8L374.8 82.9L375.2 83.1L375.5 83.2L376.1 83.4L376.5 83.6L376.9 83.7L377.3 83.9L377.8 84L378.2 84.1L378.5 84.2L379 84.4L379.4 84.5L379.7 84.6L380.2 84.8L380.7 84.9L381 85L381.5 85.1L381.9 85.2L382.3 85.3L382.8 85.3L383.2 85.4L383.6 85.5L384 85.6L384.4 85.6L384.8 85.7L385.2 85.7L385.7 85.8L386.1 85.8L386.5 85.9L386.9 85.9L387.3 85.9L387.8 86L388.2 86L388.5 86Z" fill="#1484fa" fill-rule="evenodd"/>
<path d="M389.4 77.6L389.8 77.7L390.2 77.7L390.7 77.7L391.1 77.8L391.5 77.8L391.9 77.8L392.3 77.8L392.8 77.7L393.2 77.7L393.6 77.6L394 77.6L394.4 77.5L394.8 77.4L395.2 77.3L395.7 77.2L396.1 77L396.4 76.9L396.9 76.7L397.2 76.6L397.8 76.3L398.2 76L398.4 75.8L399 75.5L399.4 75.2L399.8 74.8L400.2 74.4L400.5 74.1L400.8 73.8L401.1 73.4L401.3 73.1L401.5 72.8L401.8 72.3L401.9 72L402.1 71.7L402.2 71.3L402.3 71L402.4 70.6L402.5 70.2L402.6 69.9L402.6 69.6L402.7 69.2L402.7 68.8L402.7 68.5L402.7 68.2L402.6 67.8L402.6 67.5L402.5 67.1L402.4 66.8L402.3 66.4L402.2 66L402.1 65.7L401.9 65.4L401.8 65L401.6 64.7L401.3 64.3L401.1 64L400.8 63.6L400.7 63.4L400.2 62.9L399.8 62.6L399.4 62.2L399 61.9L398.6 61.6L398.2 61.3L397.9 61.2L397.3 60.8L396.9 60.6L396.5 60.5L396.1 60.3L395.7 60.1L395.2 60L394.8 59.9L394.4 59.8L394 59.7L393.6 59.6L393.2 59.6L392.8 59.5L392.3 59.5L391.9 59.5L391.5 59.5L391.1 59.5L390.7 59.5L390.2 59.5L389.8 59.6L389.4 59.6L389 59.7L388.6 59.8L388.2 59.8L387.8 60L387.3 60.1L386.9 60.2L386.5 60.4L386.1 60.5L385.7 60.7L385.2 60.9L384.8 61.1L384.4 61.4L384 61.7L383.7 61.9L383.3 62.2L382.8 62.6L382.5 62.9L382.1 63.2L381.9 63.5L381.6 64L381.3 64.3L381.1 64.6L380.9 65L380.7 65.4L380.5 65.7L380.4 66L380.3 66.4L380.2 66.8L380.1 67.1L380 67.5L380 67.8L380 68.2L380 68.5L380 68.8L380 69.2L380 69.6L380.1 69.9L380.2 70.2L380.2 70.6L380.4 71L380.5 71.3L380.7 71.7L380.8 72L381 72.3L381.2 72.7L381.5 73.1L381.7 73.4L381.9 73.6L382.3 74.1L382.7 74.5L383.1 74.8L383.5 75.2L384 75.5L384.4 75.8L384.8 76L385.2 76.2L385.7 76.4L386.1 76.6L386.5 76.8L386.9 77L387.3 77.1L387.8 77.2L388.2 77.4L388.6 77.5L389 77.5L389.4 77.6Z" fill="#14faeb" fill-rule="evenodd"/>
<path d="M390.5 75.2L391.1 75.2L391.5 75.3L391.9 75.3L392.3 75.3L392.8 75.3L393.2 75.2L393.6 75.2L394 75.1L394.4 75L394.8 74.9L395.1 74.8L395.7 74.6L396 74.5L396.5 74.2L396.9 74L397.3 73.8L397.7 73.4L398.1 73.1L398.5 72.7L398.8 72.3L399 72.1L399.3 71.7L399.5 71.3L399.7 71L399.8 70.6L399.9 70.2L400 69.9L400.1 69.6L400.2 69.2L400.2 68.8L400.2 68.5L400.2 68.2L400.1 67.8L400.1 67.5L400 67.1L399.9 66.8L399.8 66.4L399.6 66L399.4 65.7L399.2 65.4L399 65.1L398.7 64.7L398.3 64.3L398 64L397.8 63.8L397.5 63.6L397 63.2L396.5 62.9L396.1 62.7L395.7 62.6L395.2 62.4L394.8 62.3L394.4 62.1L394 62L393.6 62L393.2 61.9L392.8 61.9L392.3 61.9L391.9 61.9L391.5 61.9L391.1 61.9L390.7 61.9L390.2 62L389.8 62.1L389.4 62.2L389 62.3L388.6 62.5L388.2 62.7L387.8 62.9L387.3 63.1L387 63.2L386.5 63.6L386.1 64L385.7 64.3L385.4 64.7L385.1 65L384.9 65.4L384.6 65.7L384.5 66L384.3 66.4L384.2 66.8L384.1 67.1L384 67.5L383.9 67.8L383.9 68.2L383.9 68.5L383.9 68.8L383.9 69.2L384 69.6L384 69.9L384.1 70.2L384.3 70.6L384.4 71L384.6 71.3L384.8 71.7L385 72L385.2 72.3L385.6 72.7L386 73.1L386.4 73.4L386.9 73.8L387.3 74L387.8 74.3L388.2 74.5L388.6 74.6L389 74.8L389.4 74.9L389.8 75L390.2 75.1Z" fill="#ebfa14" fill-rule="evenodd"/>
<path d="M390.3 73.4L390.7 73.5L391.1 73.6L391.5 73.6L391.9 73.7L392.3 73.7L392.8 73.7L393.2 73.7L393.6 73.6L394 73.5L394.4 73.4L394.8 73.3L395.2 73.1L395.7 72.9L396 72.7L396.5 72.4L396.9 72L397.3 71.7L397.6 71.3L397.8 71.1L398 70.6L398.2 70.3L398.3 69.9L398.4 69.6L398.5 69.2L398.5 68.8L398.5 68.5L398.5 68.2L398.5 67.8L398.4 67.5L398.3 67.1L398.2 66.8L398 66.4L397.8 66L397.5 65.7L397.3 65.5L396.9 65.1L396.5 64.7L396.1 64.4L395.7 64.2L395.2 64L394.8 63.8L394.4 63.7L394.1 63.6L393.6 63.5L393.2 63.4L392.8 63.4L392.3 63.4L391.9 63.4L391.5 63.4L391.1 63.5L390.7 63.6L390.2 63.7L389.8 63.8L389.5 64L389 64.2L388.6 64.4L388.3 64.7L387.8 65L387.5 65.4L387.1 65.7L386.9 66L386.7 66.4L386.5 66.8L386.4 67.1L386.3 67.5L386.2 67.8L386.1 68.2L386.1 68.5L386.1 68.8L386.2 69.2L386.2 69.6L386.3 69.9L386.5 70.2L386.6 70.6L386.9 71L387.1 71.3L387.3 71.6L387.8 72L388.2 72.3L388.6 72.6L389 72.9L389.4 73.1L389.8 73.3L390.2 73.4Z" fill="#ff5500" fill-rule="evenodd"/>
<path d="M354 131.5l-.06 0M359 131.5l.17 0M364 131.5l.4 0M369 131.5l.61 0M374 131.5l.81 0M379 131.5l.99 0M384 131.5l1.15 0M389 131.5l1.28 0M394 131.5l1.37 0M399 131.5l1.44 0M404 131.5l1.48 0M409 131.5l1.49 0M414 131.5l1.48 0M419 131.5l1.45 0M424 131.5l1.4 0M429 131.5l1.35 0M434 131.5l1.28 0M439 131.5l1.21 0M444 131.5l1.14 0M449 131.5l1.06 0M454 131.5l.99 0M459 131.5l.92 0M464 131.5l.86 0M469 131.5l.8 0M474 131.5l.74 0M479 131.5l.68 0M484 131.5l.63 0M489 131.5l.59 0M494 131.5l.54 0M499 131.5l.5 0M504 131.5l.47 0M354 127.3l-.06 .19M359 127.3l.17 .19M364 127.3l.4 .19M369 127.3l.62 .18M374 127.3l.82 .16M379 127.3l1.01 .14M384 127.3l1.16 .12M389 127.3l1.29 .09M394 127.3l1.39 .07M399 127.3l1.46 .04M404 127.3l1.49 .02M414 127.3l1.49 -.02M419 127.3l1.46 -.03M424 127.3l1.41 -.04M429 127.3l1.35 -.05M434 127.3l1.28 -.06M439 127.3l1.21 -.06M444 127.3l1.14 -.06M449 127.3l1.06 -.06M454 127.3l.99 -.06M459 127.3l.92 -.06M464 127.3l.86 -.05M469 127.3l.79 -.05M474 127.3l.74 -.05M479 127.3l.68 -.04M484 127.3l.63 -.04M489 127.3l.58 -.04M494 127.3l.54 -.03M499 127.3l.5 -.03M504 127.3l.47 -.03M354 123.1l-.06 .39M359 123.1l.18 .39M364 123.1l.42 .38M369 123.1l.65 .36M374 123.1l.86 .33M379 123.1l1.04 .29M384 123.1l1.21 .24M389 123.1l1.34 .19M394 123.1l1.43 .14M419 123.1l1.48 -.07M424 123.1l1.43 -.09M429 123.1l1.36 -.11M434 123.1l1.29 -.12M439 123.1l1.21 -.12M444 123.1l1.14 -.12M449 123.1l1.06 -.12M454 123.1l.99 -.12M459 123.1l.92 -.11M464 123.1l.85 -.11M469 123.1l.79 -.1M474 123.1l.73 -.09M479 123.1l.68 -.09M484 123.1l.63 -.08M489 123.1l.58 -.07M494 123.1l.54 -.07M499 123.1l.5 -.06M504 123.1l.46 -.06M354 118.9l-.06 .6M359 118.9l.19 .6M364 118.9l.45 .58M369 118.9l.69 .55M374 118.9l.91 .5M379 118.9l1.11 .44M384 118.9l1.28 .37M389 118.9l1.41 .29M424 118.9l1.46 -.15M429 118.9l1.38 -.17M434 118.9l1.3 -.18M439 118.9l1.22 -.19M444 118.9l1.14 -.19M449 118.9l1.06 -.19M454 118.9l.98 -.18M459 118.9l.91 -.17M464 118.9l.84 -.16M469 118.9l.78 -.15M474 118.9l.72 -.14M479 118.9l.67 -.13M484 118.9l.62 -.12M489 118.9l.57 -.11M494 118.9l.53 -.1M499 118.9l.49 -.09M504 118.9l.45 -.09M354 114.7l-.07 .83M359 114.7l.21 .82M364 114.7l.48 .8M369 114.7l.74 .75M374 114.7l.99 .68M379 114.7l1.2 .6M384 114.7l1.39 .5M429 114.7l1.4 -.24M434 114.7l1.31 -.26M439 114.7l1.22 -.26M444 114.7l1.13 -.26M449 114.7l1.05 -.25M454 114.7l.97 -.24M459 114.7l.9 -.23M464 114.7l.83 -.22M469 114.7l.76 -.2M474 114.7l.7 -.19M479 114.7l.65 -.17M484 114.7l.6 -.16M489 114.7l.56 -.15M494 114.7l.52 -.14M499 114.7l.48 -.13M504 114.7l.44 -.11M354 110.5l-.08 1.07M359 110.5l.23 1.07M364 110.5l.53 1.03M369 110.5l.82 .97M374 110.5l1.09 .89M429 110.5l1.43 -.32M434 110.5l1.33 -.34M439 110.5l1.22 -.34M444 110.5l1.13 -.34M449 110.5l1.04 -.33M454 110.5l.95 -.31M459 110.5l.88 -.29M464 110.5l.81 -.27M469 110.5l.74 -.25M474 110.5l.68 -.24M479 110.5l.63 -.22M484 110.5l.58 -.2M489 110.5l.54 -.18M494 110.5l.5 -.17M499 110.5l.46 -.15M504 110.5l.43 -.14M354 106.3l-.09 1.35M359 106.3l.26 1.34M364 106.3l.59 1.3M434 106.3l1.33 -.43M439 106.3l1.22 -.43M444 106.3l1.11 -.42M449 106.3l1.02 -.4M454 106.3l.93 -.38M459 106.3l.85 -.35M464 106.3l.78 -.33M469 106.3l.72 -.31M474 106.3l.66 -.28M479 106.3l.61 -.26M484 106.3l.56 -.24M489 106.3l.52 -.22M494 106.3l.48 -.2M499 106.3l.45 -.18M504 106.3l.41 -.17M434 102.1l1.33 -.54M439 102.1l1.2 -.53M444 102.1l1.09 -.51M449 102.1l.99 -.48M454 102.1l.9 -.45M459 102.1l.82 -.42M464 102.1l.75 -.39M469 102.1l.69 -.36M474 102.1l.63 -.33M479 102.1l.58 -.3M484 102.1l.54 -.27M489 102.1l.5 -.25M494 102.1l.46 -.23M499 102.1l.43 -.21M504 102.1l.4 -.19M434 97.9l1.32 -.66M439 97.9l1.17 -.64M444 97.9l1.05 -.6M449 97.9l.94 -.56M454 97.9l.85 -.52M459 97.9l.78 -.48M464 97.9l.71 -.44M469 97.9l.65 -.4M474 97.9l.59 -.37M479 97.9l.55 -.34M484 97.9l.5 -.31M489 97.9l.47 -.28M494 97.9l.43 -.26M499 97.9l.4 -.24M504 97.9l.37 -.22M439 93.7l1.12 -.75M444 93.7l1 -.7M449 93.7l.89 -.64M454 93.7l.8 -.59M459 93.7l.72 -.54M464 93.7l.66 -.49M469 93.7l.6 -.45M474 93.7l.55 -.41M479 93.7l.51 -.37M484 93.7l.47 -.34M489 93.7l.43 -.31M494 93.7l.4 -.28M499 93.7l.38 -.26M504 93.7l.35 -.24M439 89.5l1.05 -.87M444 89.5l.92 -.79M449 89.5l.82 -.72M454 89.5l.73 -.66M459 89.5l.66 -.6M464 89.5l.6 -.54M469 89.5l.55 -.49M474 89.5l.5 -.45M479 89.5l.46 -.41M484 89.5l.43 -.37M489 89.5l.4 -.34M494 89.5l.37 -.31M499 89.5l.35 -.28M504 89.5l.32 -.26M439 85.3l.94 -.99M444 85.3l.82 -.89M449 85.3l.72 -.8M454 85.3l.65 -.72M459 85.3l.59 -.65M464 85.3l.53 -.59M469 85.3l.49 -.53M474 85.3l.45 -.48M479 85.3l.42 -.44M484 85.3l.39 -.4M489 85.3l.36 -.36M494 85.3l.34 -.33M499 85.3l.32 -.3M504 85.3l.3 -.27M439 81.1l.8 -1.09M444 81.1l.7 -.97M449 81.1l.62 -.86M454 81.1l.55 -.77M459 81.1l.5 -.69M464 81.1l.46 -.62M469 81.1l.42 -.56M474 81.1l.39 -.51M479 81.1l.36 -.46M484 81.1l.34 -.42M489 81.1l.32 -.38M494 81.1l.3 -.35M499 81.1l.28 -.31M504 81.1l.27 -.29M439 76.9l.62 -1.18M444 76.9l.55 -1.04M449 76.9l.49 -.92M454 76.9l.44 -.81M459 76.9l.41 -.73M464 76.9l.38 -.65M469 76.9l.35 -.59M474 76.9l.33 -.53M479 76.9l.31 -.48M484 76.9l.29 -.43M489 76.9l.28 -.39M494 76.9l.26 -.36M499 76.9l.25 -.33M504 76.9l.23 -.3M439 72.7l.42 -1.24M444 72.7l.38 -1.08M449 72.7l.35 -.95M454 72.7l.33 -.84M459 72.7l.31 -.75M464 72.7l.29 -.67M469 72.7l.28 -.6M474 72.7l.26 -.54M479 72.7l.25 -.49M484 72.7l.24 -.44M489 72.7l.23 -.4M494 72.7l.22 -.37M499 72.7l.21 -.34M504 72.7l.2 -.31M434 68.5l.21 -1.46M439 68.5l.21 -1.26M444 68.5l.21 -1.09M449 68.5l.21 -.96M454 68.5l.21 -.85M459 68.5l.21 -.76M464 68.5l.21 -.68M469 68.5l.2 -.61M474 68.5l.2 -.55M479 68.5l.19 -.5M484 68.5l.19 -.45M489 68.5l.19 -.41M494 68.5l.18 -.37M499 68.5l.18 -.34M504 68.5l.17 -.31M434 64.3l-.06 -1.43M439 64.3l-.01 -1.24M444 64.3l.04 -1.08M449 64.3l.07 -.95M454 64.3l.09 -.84M459 64.3l.11 -.75M464 64.3l.12 -.67M469 64.3l.13 -.61M474 64.3l.13 -.55M479 64.3l.14 -.5M484 64.3l.14 -.45M489 64.3l.14 -.41M494 64.3l.14 -.38M499 64.3l.14 -.35M504 64.3l.14 -.32M434 60.1l-.31 -1.35M439 60.1l-.2 -1.18M444 60.1l-.12 -1.03M449 60.1l-.07 -.92M454 60.1l-.02 -.82M459 60.1l.01 -.73M464 60.1l.03 -.66M469 60.1l.05 -.6M474 60.1l.07 -.54M479 60.1l.08 -.49M484 60.1l.09 -.45M489 60.1l.1 -.41M494 60.1l.1 -.38M499 60.1l.1 -.34M504 60.1l.11 -.32M434 55.9l-.51 -1.22M439 55.9l-.37 -1.09M444 55.9l-.27 -.97M449 55.9l-.19 -.87M454 55.9l-.13 -.78M459 55.9l-.08 -.7M464 55.9l-.04 -.64M469 55.9l-.01 -.58M474 55.9l.01 -.53M479 55.9l.03 -.48M484 55.9l.04 -.44M489 55.9l.05 -.4M494 55.9l.06 -.37M499 55.9l.07 -.34M504 55.9l.08 -.31M429 51.7l-.87 -1.19M434 51.7l-.66 -1.08M439 51.7l-.5 -.98M444 51.7l-.38 -.89M449 51.7l-.29 -.8M454 51.7l-.22 -.73M459 51.7l-.16 -.66M464 51.7l-.11 -.61M469 51.7l-.08 -.55M474 51.7l-.05 -.51M479 51.7l-.02 -.46M484 51.7l0 -.43M489 51.7l.01 -.39M494 51.7l.03 -.36M499 51.7l.04 -.33M504 51.7l.05 -.31M429 47.5l-.97 -.99M434 47.5l-.76 -.93M439 47.5l-.6 -.86M444 47.5l-.47 -.79M449 47.5l-.37 -.73M454 47.5l-.29 -.67M459 47.5l-.23 -.62M464 47.5l-.17 -.57M469 47.5l-.13 -.52M474 47.5l-.1 -.48M479 47.5l-.07 -.44M484 47.5l-.04 -.41M489 47.5l-.02 -.38M494 47.5l-.01 -.35M499 47.5l.01 -.33M504 47.5l.02 -.3M424 43.3l-1.24 -.8M429 43.3l-1.01 -.8M434 43.3l-.82 -.78M439 43.3l-.67 -.74M444 43.3l-.54 -.7M449 43.3l-.44 -.65M454 43.3l-.35 -.61M459 43.3l-.28 -.57M464 43.3l-.22 -.53M469 43.3l-.18 -.49M474 43.3l-.14 -.45M479 43.3l-.11 -.42M484 43.3l-.08 -.39M489 43.3l-.06 -.36M494 43.3l-.04 -.34M499 43.3l-.02 -.31M504 43.3l-.01 -.29M424 39.1l-1.21 -.61M429 39.1l-1.01 -.64M434 39.1l-.84 -.64M439 39.1l-.7 -.63M444 39.1l-.58 -.6M449 39.1l-.48 -.57M454 39.1l-.4 -.54M459 39.1l-.33 -.51M464 39.1l-.27 -.48M469 39.1l-.22 -.45M474 39.1l-.18 -.42M479 39.1l-.14 -.4M484 39.1l-.11 -.37M489 39.1l-.09 -.35M494 39.1l-.06 -.32M499 39.1l-.05 -.3M504 39.1l-.03 -.28M419 34.9l-1.32 -.37M424 34.9l-1.15 -.45M429 34.9l-.98 -.49M434 34.9l-.84 -.52M439 34.9l-.71 -.52M444 34.9l-.6 -.51M449 34.9l-.51 -.5M454 34.9l-.43 -.48M459 34.9l-.36 -.46M464 34.9l-.3 -.44M469 34.9l-.25 -.41M474 34.9l-.21 -.39M479 34.9l-.17 -.37M484 34.9l-.14 -.35M489 34.9l-.11 -.33M494 34.9l-.09 -.31M499 34.9l-.07 -.29M504 34.9l-.05 -.27M409 30.7l-1.46 .01M414 30.7l-1.34 -.13M419 30.7l-1.21 -.24M424 30.7l-1.07 -.32M429 30.7l-.94 -.38M434 30.7l-.82 -.41M439 30.7l-.71 -.43M444 30.7l-.61 -.43M449 30.7l-.52 -.43M454 30.7l-.44 -.42M459 30.7l-.38 -.41M464 30.7l-.32 -.39M469 30.7l-.27 -.37M474 30.7l-.23 -.36M479 30.7l-.19 -.34M484 30.7l-.16 -.32M489 30.7l-.13 -.3M494 30.7l-.11 -.29M499 30.7l-.09 -.27M504 30.7l-.07 -.26M354 26.5l.06 1.48M359 26.5l-.18 1.47M364 26.5l-.42 1.43M394 26.5l-1.35 .6M399 26.5l-1.37 .42M404 26.5l-1.34 .24M409 26.5l-1.28 .09M414 26.5l-1.2 -.04M419 26.5l-1.1 -.14M424 26.5l-.99 -.22M429 26.5l-.88 -.28M434 26.5l-.78 -.32M439 26.5l-.69 -.34M444 26.5l-.6 -.36M449 26.5l-.52 -.36M454 26.5l-.45 -.36M459 26.5l-.39 -.36M464 26.5l-.34 -.35M469 26.5l-.29 -.34M474 26.5l-.25 -.32M479 26.5l-.21 -.31M484 26.5l-.18 -.3M489 26.5l-.15 -.28M494 26.5l-.13 -.27M499 26.5l-.11 -.26M504 26.5l-.09 -.24M354 22.3l.05 1.29M359 22.3l-.15 1.29M364 22.3l-.35 1.25M369 22.3l-.54 1.19M374 22.3l-.72 1.1M379 22.3l-.87 .99M384 22.3l-1 .86M389 22.3l-1.09 .72M394 22.3l-1.15 .57M399 22.3l-1.17 .42M404 22.3l-1.16 .27M409 22.3l-1.13 .14M414 22.3l-1.07 .03M419 22.3l-.99 -.07M424 22.3l-.91 -.14M429 22.3l-.83 -.2M434 22.3l-.74 -.24M439 22.3l-.66 -.27M444 22.3l-.59 -.29M449 22.3l-.52 -.3M454 22.3l-.45 -.31M459 22.3l-.4 -.31M464 22.3l-.35 -.31M469 22.3l-.3 -.3M474 22.3l-.26 -.29M479 22.3l-.23 -.28M484 22.3l-.19 -.27M489 22.3l-.17 -.26M494 22.3l-.14 -.25M499 22.3l-.12 -.24M504 22.3l-.1 -.23M354 18.1l.04 1.13M359 18.1l-.13 1.13M364 18.1l-.3 1.1M369 18.1l-.46 1.05M374 18.1l-.61 .98M379 18.1l-.74 .88M384 18.1l-.85 .78M389 18.1l-.93 .66M394 18.1l-.99 .53M399 18.1l-1.01 .41M404 18.1l-1.01 .29M409 18.1l-.99 .18M414 18.1l-.95 .08M419 18.1l-.9 -.01M424 18.1l-.83 -.08M429 18.1l-.77 -.13M434 18.1l-.7 -.18M439 18.1l-.63 -.21M444 18.1l-.56 -.24M449 18.1l-.5 -.25M454 18.1l-.45 -.26M459 18.1l-.4 -.27M464 18.1l-.35 -.27M469 18.1l-.31 -.27M474 18.1l-.27 -.26M479 18.1l-.24 -.25M484 18.1l-.21 -.25M489 18.1l-.18 -.24M494 18.1l-.16 -.23M499 18.1l-.13 -.22M504 18.1l-.12 -.21M354 13.9l.04 1M359 13.9l-.11 .99M364 13.9l-.26 .97M369 13.9l-.39 .93M374 13.9l-.52 .87M379 13.9l-.63 .79M384 13.9l-.73 .7M389 13.9l-.8 .6M394 13.9l-.85 .5M399 13.9l-.88 .39M404 13.9l-.89 .29M409 13.9l-.87 .2M414 13.9l-.85 .11M419 13.9l-.81 .04M424 13.9l-.76 -.03M429 13.9l-.71 -.08M434 13.9l-.65 -.13M439 13.9l-.59 -.16M444 13.9l-.54 -.19M449 13.9l-.49 -.21M454 13.9l-.44 -.22M459 13.9l-.39 -.23M464 13.9l-.35 -.23M469 13.9l-.31 -.23M474 13.9l-.27 -.23M479 13.9l-.24 -.23M484 13.9l-.21 -.22M489 13.9l-.19 -.22M494 13.9l-.16 -.21M499 13.9l-.14 -.2M504 13.9l-.13 -.2M354 9.7l.03 .88M359 9.7l-.1 .88M364 9.7l-.22 .86M369 9.7l-.34 .82M374 9.7l-.45 .77M379 9.7l-.54 .71M384 9.7l-.62 .63M389 9.7l-.69 .55M394 9.7l-.74 .47M399 9.7l-.77 .38M404 9.7l-.78 .29M409 9.7l-.77 .21M414 9.7l-.76 .14M419 9.7l-.73 .07M424 9.7l-.69 .01M429 9.7l-.65 -.04M434 9.7l-.6 -.08M439 9.7l-.56 -.12M444 9.7l-.51 -.15M449 9.7l-.47 -.17M454 9.7l-.42 -.18M459 9.7l-.38 -.19M464 9.7l-.34 -.2M469 9.7l-.31 -.2M474 9.7l-.28 -.2M479 9.7l-.25 -.2M484 9.7l-.22 -.2M489 9.7l-.19 -.2M494 9.7l-.17 -.19M499 9.7l-.15 -.19M504 9.7l-.13 -.18M354 5.5l.03 .79M359 5.5l-.08 .78M364 5.5l-.19 .76M369 5.5l-.29 .73M374 5.5l-.38 .69M379 5.5l-.47 .64M384 5.5l-.54 .58M389 5.5l-.6 .51M394 5.5l-.64 .44M399 5.5l-.67 .36M404 5.5l-.68 .29M409 5.5l-.68 .22M414 5.5l-.68 .15M419 5.5l-.66 .09M424 5.5l-.63 .04M429 5.5l-.6 -.01M434 5.5l-.56 -.05M439 5.5l-.52 -.08M444 5.5l-.48 -.11M449 5.5l-.44 -.13M454 5.5l-.41 -.15M459 5.5l-.37 -.16M464 5.5l-.34 -.17M469 5.5l-.3 -.18M474 5.5l-.27 -.18M479 5.5l-.25 -.18M484 5.5l-.22 -.18M489 5.5l-.2 -.18M494 5.5l-.18 -.18M499 5.5l-.16 -.17M504 5.5l-.14 -.17" fill="none" stroke="#000" stroke-opacity="0.8" stroke-width="0.4" stroke-linecap="round"/>
<path d="M409 127.3L410.5 127.3L410 127.5M410.5 127.3L410 127.1M399 123.1L400.5 123.2L400 123.4M400.5 123.2L400 122.9M404 123.1L405.5 123.1L405 123.4M405.5 123.1L405 122.9M409 123.1L410.5 123.1L410 123.3M410.5 123.1L410 122.9M414 123.1L415.5 123.1L415 123.3M415.5 123.1L415 122.8M394 118.9L395.5 119.1L395 119.3M395.5 119.1L395 118.8M399 118.9L400.6 119L400 119.2M400.6 119L400 118.7M404 118.9L405.6 119L405 119.2M405.6 119L405.1 118.7M409 118.9L410.6 118.9L410 119.1M410.6 118.9L410 118.6M414 118.9L415.6 118.8L415 119.1M415.6 118.8L415 118.6M419 118.9L420.5 118.8L420 119.1M420.5 118.8L420 118.6M389 114.7L390.5 115.1L389.9 115.2M390.5 115.1L390.1 114.7M394 114.7L395.6 115L395 115.1M395.6 115L395.1 114.6M399 114.7L400.7 114.9L400.1 115.1M400.7 114.9L400.1 114.5M404 114.7L405.7 114.8L405.1 115M405.7 114.8L405.1 114.5M409 114.7L410.7 114.7L410.1 114.9M410.7 114.7L410.1 114.4M414 114.7L415.6 114.6L415.1 114.9M415.6 114.6L415 114.4M419 114.7L420.6 114.5L420 114.8M420.6 114.5L420 114.3M424 114.7L425.5 114.5L425 114.8M425.5 114.5L424.9 114.3M379 110.5L380.3 111.3L379.7 111.2M380.3 111.3L380 110.8M384 110.5L385.5 111.1L384.9 111.2M385.5 111.1L385.1 110.7M389 110.5L390.7 111L390 111.1M390.7 111L390.2 110.6M394 110.5L395.8 110.8L395.1 111M395.8 110.8L395.2 110.4M399 110.5L400.8 110.7L400.2 110.9M400.8 110.7L400.2 110.3M404 110.5L405.8 110.5L405.2 110.8M405.8 110.5L405.2 110.2M409 110.5L410.8 110.4L410.2 110.7M410.8 110.4L410.2 110.2M414 110.5L415.7 110.3L415.2 110.7M415.7 110.3L415.1 110.1M419 110.5L420.6 110.3L420.1 110.6M420.6 110.3L420 110.1M424 110.5L425.5 110.2L425 110.6M425.5 110.2L425 110.1M369 106.3L369.9 107.5L369.4 107.2M369.9 107.5L369.8 106.9M374 106.3L375.2 107.4L374.6 107.2M375.2 107.4L375 106.8M379 106.3L380.5 107.3L379.8 107.2M380.5 107.3L380.1 106.7M384 106.3L385.7 107.1L385 107.1M385.7 107.1L385.3 106.5M389 106.3L390.9 106.9L390.1 107M390.9 106.9L390.3 106.4M394 106.3L396 106.7L395.2 106.9M396 106.7L395.4 106.2M399 106.3L401 106.5L400.3 106.8M401 106.5L400.4 106.1M404 106.3L406 106.3L405.3 106.6M406 106.3L405.3 106M409 106.3L410.9 106.2L410.3 106.5M410.9 106.2L410.2 105.9M414 106.3L415.8 106L415.2 106.4M415.8 106L415.2 105.8M419 106.3L420.7 106L420.2 106.4M420.7 106L420.1 105.8M424 106.3L425.6 105.9L425.1 106.3M425.6 105.9L425 105.8M429 106.3L430.5 105.9L430 106.3M430.5 105.9L429.9 105.8M354 102.1L353.9 103.8L353.7 103.2M353.9 103.8L354.2 103.2M359 102.1L359.3 103.7L358.9 103.2M359.3 103.7L359.4 103.1M364 102.1L364.7 103.7L364.2 103.2M364.7 103.7L364.7 103M369 102.1L370 103.6L369.4 103.2M370 103.6L369.9 102.9M374 102.1L375.4 103.5L374.7 103.2M375.4 103.5L375.1 102.8M379 102.1L380.7 103.3L379.9 103.2M380.7 103.3L380.3 102.6M384 102.1L386 103.1L385.1 103.1M386 103.1L385.4 102.4M389 102.1L391.2 102.8L390.3 102.9M391.2 102.8L390.5 102.2M394 102.1L396.3 102.6L395.4 102.8M396.3 102.6L395.6 102M399 102.1L401.3 102.3L400.5 102.6M401.3 102.3L400.5 101.9M404 102.1L406.2 102.1L405.5 102.4M406.2 102.1L405.5 101.7M409 102.1L411.1 101.9L410.4 102.3M411.1 101.9L410.3 101.6M414 102.1L416 101.7L415.3 102.2M416 101.7L415.2 101.5M419 102.1L420.8 101.6L420.2 102.1M420.8 101.6L420.1 101.5M424 102.1L425.6 101.6L425.1 102M425.6 101.6L425 101.5M429 102.1L430.5 101.6L430 102M430.5 101.6L429.9 101.5M354 97.9L353.9 99.9L353.6 99.2M353.9 99.9L354.2 99.2M359 97.9L359.3 99.9L358.9 99.2M359.3 99.9L359.5 99.1M364 97.9L364.7 99.8L364.2 99.3M364.7 99.8L364.8 99M369 97.9L370.2 99.7L369.5 99.3M370.2 99.7L370.1 98.9M374 97.9L375.6 99.6L374.8 99.3M375.6 99.6L375.3 98.7M379 97.9L381 99.4L380 99.2M381 99.4L380.5 98.5M384 97.9L386.3 99.1L385.3 99.1M386.3 99.1L385.7 98.3M389 97.9L391.5 98.8L390.5 98.9M391.5 98.8L390.8 98.1M394 97.9L396.7 98.4L395.6 98.7M396.7 98.4L395.8 97.8M399 97.9L401.6 98.1L400.7 98.4M401.6 98.1L400.7 97.6M404 97.9L406.5 97.8L405.7 98.2M406.5 97.8L405.6 97.4M409 97.9L411.3 97.5L410.6 98M411.3 97.5L410.5 97.3M414 97.9L416.1 97.4L415.5 97.9M416.1 97.4L415.3 97.2M419 97.9L420.9 97.3L420.3 97.8M420.9 97.3L420.1 97.2M424 97.9L425.7 97.2L425.2 97.7M425.7 97.2L425 97.2M429 97.9L430.5 97.2L430.1 97.7M430.5 97.2L429.9 97.2M354 93.7L353.9 96.1L353.5 95.2M353.9 96.1L354.3 95.3M359 93.7L359.3 96.1L358.9 95.3M359.3 96.1L359.6 95.2M364 93.7L364.8 96L364.2 95.3M364.8 96L364.9 95.1M369 93.7L370.3 95.9L369.5 95.4M370.3 95.9L370.2 94.9M374 93.7L375.8 95.8L374.8 95.3M375.8 95.8L375.5 94.8M379 93.7L381.3 95.5L380.2 95.3M381.3 95.5L380.8 94.5M384 93.7L386.7 95.2L385.5 95.1M386.7 95.2L386 94.2M399 93.7L402.1 93.8L401 94.2M402.1 93.8L401 93.2M404 93.7L406.9 93.4L405.9 94M406.9 93.4L405.8 93M409 93.7L411.6 93.1L410.8 93.7M411.6 93.1L410.6 92.9M414 93.7L416.3 92.9L415.6 93.6M416.3 92.9L415.3 92.8M419 93.7L421 92.9L420.4 93.5M421 92.9L420.1 92.8M424 93.7L425.7 92.8L425.2 93.4M425.7 92.8L425 92.9M429 93.7L430.5 92.9L430.1 93.4M430.5 92.9L429.8 92.9M434 93.7L435.3 92.9L435 93.4M435.3 92.9L434.7 93M354 89.5L353.9 92.3L353.5 91.3M353.9 92.3L354.4 91.3M359 89.5L359.4 92.3L358.8 91.4M359.4 92.3L359.7 91.2M364 89.5L364.9 92.2L364.1 91.4M364.9 92.2L365 91.1M369 89.5L370.4 92.2L369.5 91.5M370.4 92.2L370.4 91M409 89.5L411.8 88.6L411 89.4M411.8 88.6L410.7 88.4M414 89.5L416.4 88.4L415.7 89.2M416.4 88.4L415.4 88.4M419 89.5L421 88.4L420.5 89.1M421 88.4L420.1 88.5M424 89.5L425.7 88.4L425.3 89.1M425.7 88.4L424.9 88.5M429 89.5L430.4 88.5L430.1 89.1M430.4 88.5L429.8 88.6M434 89.5L435.2 88.6L434.9 89.1M435.2 88.6L434.6 88.7M354 85.3L353.9 88.5L353.4 87.4M353.9 88.5L354.4 87.4M414 85.3L416.4 83.8L415.8 84.7M416.4 83.8L415.3 83.9M419 85.3L420.9 83.9L420.5 84.7M420.9 83.9L420 84.1M424 85.3L425.6 84L425.2 84.7M425.6 84L424.8 84.2M429 85.3L430.3 84.1L430 84.7M430.3 84.1L429.6 84.3M434 85.3L435.1 84.2L434.9 84.8M435.1 84.2L434.5 84.4M414 81.1L416.3 79.1L415.8 80.2M416.3 79.1L415.2 79.4M419 81.1L420.8 79.3L420.4 80.2M420.8 79.3L419.9 79.6M424 81.1L425.4 79.5L425.2 80.3M425.4 79.5L424.6 79.8M429 81.1L430.1 79.7L430 80.4M430.1 79.7L429.5 80M434 81.1L434.9 79.9L434.8 80.4M434.9 79.9L434.4 80.1M419 76.9L420.4 74.7L420.3 75.7M420.4 74.7L419.6 75.3M424 76.9L425.1 75.1L425 75.9M425.1 75.1L424.4 75.5M429 76.9L429.9 75.3L429.8 76M429.9 75.3L429.3 75.7M434 76.9L434.7 75.5L434.7 76.1M434.7 75.5L434.3 75.9M419 72.7L419.9 70.2L420 71.2M419.9 70.2L419.2 71M424 72.7L424.7 70.7L424.8 71.5M424.7 70.7L424.1 71.3M429 72.7L429.6 71L429.6 71.7M429.6 71L429.1 71.5M434 72.7L434.5 71.3L434.5 71.8M434.5 71.3L434.1 71.7M419 68.5L419.2 65.9L419.5 66.9M419.2 65.9L418.7 66.8M424 68.5L424.2 66.4L424.5 67.2M424.2 66.4L423.8 67.1M429 68.5L429.2 66.8L429.4 67.4M429.2 66.8L428.9 67.3M419 64.3L418.5 61.8L419.1 62.6M418.5 61.8L418.3 62.8M424 64.3L423.7 62.3L424.1 63M423.7 62.3L423.5 63M429 64.3L428.9 62.6L429.2 63.2M428.9 62.6L428.6 63.2M414 60.1L412.4 57.5L413.4 58.2M412.4 57.5L412.6 58.7M419 60.1L418 57.9L418.7 58.5M418 57.9L418 58.9M424 60.1L423.3 58.3L423.8 58.8M423.3 58.3L423.3 59M429 60.1L428.5 58.5L429 59M428.5 58.5L428.5 59.2M414 55.9L412.1 53.9L413.1 54.3M412.1 53.9L412.4 54.9M419 55.9L417.6 54.1L418.4 54.5M417.6 54.1L417.8 55M424 55.9L423 54.3L423.6 54.7M423 54.3L423.1 55M429 55.9L428.3 54.5L428.8 54.9M428.3 54.5L428.3 55.1M409 51.7L406.3 50.3L407.5 50.4M406.3 50.3L407 51.3M414 51.7L412 50.3L412.9 50.4M412 50.3L412.4 51.1M419 51.7L417.5 50.3L418.2 50.6M417.5 50.3L417.8 51M424 51.7L422.8 50.4L423.5 50.7M422.8 50.4L423 51M354 47.5L354.1 50.4L353.6 49.4M354.1 50.4L354.5 49.4M359 47.5L358.7 50.4L358.3 49.4M358.7 50.4L359.3 49.5M364 47.5L363.2 50.4L363 49.3M363.2 50.4L363.9 49.5M369 47.5L367.7 50.3L367.7 49.1M367.7 50.3L368.6 49.6M404 47.5L401.1 47L402.2 46.7M401.1 47L402 47.6M409 47.5L406.6 46.7L407.5 46.6M406.6 46.7L407.3 47.3M414 47.5L412 46.5L412.9 46.5M412 46.5L412.6 47.2M419 47.5L417.4 46.5L418.2 46.6M417.4 46.5L417.8 47.1M424 47.5L422.8 46.5L423.4 46.6M422.8 46.5L423 47M354 43.3L354.1 45.9L353.7 45M354.1 45.9L354.5 45M359 43.3L358.7 45.9L358.4 44.9M358.7 45.9L359.2 45M364 43.3L363.3 45.8L363.1 44.8M363.3 45.8L363.9 45.1M369 43.3L367.8 45.7L367.8 44.7M367.8 45.7L368.6 45.1M374 43.3L372.4 45.6L372.6 44.5M372.4 45.6L373.3 45M379 43.3L376.9 45.3L377.3 44.3M376.9 45.3L378 44.9M384 43.3L381.5 45L382.1 44M381.5 45L382.7 44.8M389 43.3L386.3 44.5L387 43.6M386.3 44.5L387.4 44.5M394 43.3L391.2 44L392 43.3M391.2 44L392.3 44.2M399 43.3L396.3 43.5L397.2 43M396.3 43.5L397.3 43.9M404 43.3L401.5 43.1L402.4 42.8M401.5 43.1L402.3 43.6M409 43.3L406.8 42.8L407.7 42.6M406.8 42.8L407.5 43.3M414 43.3L412.2 42.6L412.9 42.6M412.2 42.6L412.7 43.2M419 43.3L417.5 42.5L418.1 42.6M417.5 42.5L417.9 43M354 39.1L354.1 41.3L353.7 40.6M354.1 41.3L354.4 40.5M359 39.1L358.7 41.3L358.5 40.5M358.7 41.3L359.2 40.6M364 39.1L363.3 41.3L363.2 40.4M363.3 41.3L363.9 40.6M369 39.1L368 41.2L368 40.3M368 41.2L368.7 40.6M374 39.1L372.6 41L372.8 40.1M372.6 41L373.4 40.6M379 39.1L377.3 40.8L377.6 39.9M377.3 40.8L378.1 40.5M384 39.1L382 40.5L382.5 39.7M382 40.5L382.9 40.3M389 39.1L386.8 40.2L387.4 39.4M386.8 40.2L387.7 40.1M394 39.1L391.7 39.8L392.4 39.2M391.7 39.8L392.6 39.9M399 39.1L396.7 39.4L397.5 38.9M396.7 39.4L397.6 39.7M404 39.1L401.9 39.1L402.6 38.8M401.9 39.1L402.6 39.4M409 39.1L407.1 38.8L407.8 38.6M407.1 38.8L407.7 39.2M414 39.1L412.3 38.7L413 38.6M412.3 38.7L412.8 39.1M419 39.1L417.6 38.6L418.2 38.5M417.6 38.6L418 39M354 34.9L354.1 36.9L353.7 36.2M354.1 36.9L354.4 36.2M359 34.9L358.8 36.8L358.5 36.1M358.8 36.8L359.2 36.2M364 34.9L363.4 36.8L363.3 36M363.4 36.8L363.9 36.2M369 34.9L368.1 36.7L368.1 35.9M368.1 36.7L368.7 36.2M374 34.9L372.8 36.6L373 35.8M372.8 36.6L373.5 36.2M379 34.9L377.5 36.4L377.8 35.6M377.5 36.4L378.3 36.1M384 34.9L382.3 36.1L382.7 35.4M382.3 36.1L383.1 36M389 34.9L387.2 35.9L387.7 35.2M387.2 35.9L388 35.8M394 34.9L392.1 35.6L392.7 35M392.1 35.6L392.9 35.6M399 34.9L397.1 35.3L397.7 34.8M397.1 35.3L397.8 35.4M404 34.9L402.2 35L402.8 34.7M402.2 35L402.8 35.3M409 34.9L407.3 34.8L407.9 34.6M407.3 34.8L407.9 35.1M414 34.9L412.5 34.6L413.1 34.5M412.5 34.6L413 35M354 30.7L354.1 32.4L353.8 31.8M354.1 32.4L354.3 31.8M359 30.7L358.8 32.4L358.6 31.8M358.8 32.4L359.1 31.8M364 30.7L363.5 32.3L363.4 31.7M363.5 32.3L363.9 31.8M369 30.7L368.2 32.3L368.3 31.6M368.2 32.3L368.8 31.8M374 30.7L373 32.1L373.1 31.5M373 32.1L373.6 31.8M379 30.7L377.8 32L378 31.3M377.8 32L378.4 31.7M384 30.7L382.6 31.8L382.9 31.2M382.6 31.8L383.3 31.6M389 30.7L387.5 31.6L387.9 31M387.5 31.6L388.1 31.5M394 30.7L392.4 31.3L392.9 30.9M392.4 31.3L393.1 31.4M399 30.7L397.4 31.1L397.9 30.7M397.4 31.1L398 31.2M404 30.7L402.4 30.9L403 30.6M402.4 30.9L403 31.1M369 26.5L368.4 27.9L368.4 27.3M368.4 27.9L368.8 27.5M374 26.5L373.1 27.8L373.2 27.2M373.1 27.8L373.6 27.5M379 26.5L378 27.6L378.1 27.1M378 27.6L378.5 27.4M384 26.5L382.8 27.5L383.1 26.9M382.8 27.5L383.4 27.3M389 26.5L387.7 27.3L388 26.8M387.7 27.3L388.3 27.2" fill="none" stroke="#000" stroke-opacity="0.85" stroke-width="0.45" stroke-linecap="round"/>
<path d="M389 93.7L392 94.7L390.8 94.9M392 94.7L391.1 93.9M394 93.7L397.2 94.2L396 94.6M397.2 94.2L396.1 93.5M374 89.5L376 92L374.9 91.5M376 92L375.7 90.8M379 89.5L381.7 91.8L380.4 91.4M381.7 91.8L381.1 90.6M384 89.5L387.3 91.4L385.8 91.2M387.3 91.4L386.4 90.2M389 89.5L392.7 90.8L391.2 90.9M392.7 90.8L391.6 89.7M394 89.5L397.9 90L396.4 90.5M397.9 90L396.6 89.2M399 89.5L402.7 89.4L401.4 90M402.7 89.4L401.4 88.8M404 89.5L407.3 88.9L406.3 89.6M407.3 88.9L406.1 88.6M359 85.3L359.4 88.5L358.7 87.4M359.4 88.5L359.8 87.3M364 85.3L364.9 88.5L364.1 87.5M364.9 88.5L365.1 87.2M369 85.3L370.5 88.5L369.5 87.6M370.5 88.5L370.5 87.1M374 85.3L376.2 88.4L375 87.7M376.2 88.4L376 87M379 85.3L382.1 88.2L380.5 87.7M382.1 88.2L381.5 86.7M384 85.3L388 87.7L386.2 87.5M388 87.7L387 86.2M389 85.3L393.7 86.9L391.8 87.1M393.7 86.9L392.3 85.6M394 85.3L398.9 85.8L397.1 86.4M398.9 85.8L397.3 84.8M399 85.3L403.5 84.8L402 85.7M403.5 84.8L401.9 84.3M404 85.3L407.8 84.2L406.7 85.2M407.8 84.2L406.3 84M409 85.3L412.1 83.9L411.2 84.9M412.1 83.9L410.8 83.9M354 81.1L353.9 84.7L353.4 83.4M353.9 84.7L354.5 83.5M359 81.1L359.3 84.7L358.6 83.5M359.3 84.7L359.8 83.4M364 81.1L364.8 84.8L364 83.6M364.8 84.8L365.1 83.4M369 81.1L370.5 84.9L369.3 83.8M370.5 84.9L370.6 83.3M374 81.1L376.3 85L374.9 84M376.3 85L376.1 83.3M379 81.1L382.4 84.9L380.6 84.1M382.4 84.9L381.8 83M384 81.1L388.9 84.5L386.6 84.1M388.9 84.5L387.7 82.5M389 81.1L395.2 83.3L392.7 83.5M395.2 83.3L393.4 81.5M394 81.1L400.6 81.4L398.3 82.4M400.6 81.4L398.4 80.3M399 81.1L404.7 79.8L402.9 81.2M404.7 79.8L402.5 79.4M404 81.1L408.3 79.1L407.1 80.5M408.3 79.1L406.5 79.1M409 81.1L412.2 79L411.4 80.2M412.2 79L410.7 79.2M354 76.9L353.9 80.8L353.3 79.4M353.9 80.8L354.6 79.5M359 76.9L359.3 80.9L358.5 79.5M359.3 80.9L359.8 79.4M364 76.9L364.7 81L363.8 79.7M364.7 81L365.1 79.5M369 76.9L370.2 81.3L369.1 79.9M370.2 81.3L370.5 79.5M374 76.9L376 81.6L374.6 80.3M376 81.6L376.1 79.6M379 76.9L382.4 82L380.4 80.8M382.4 82L382 79.7M384 76.9L389.6 82.1L386.8 81.2M389.6 82.1L388.5 79.4M399 76.9L406.3 73.9L404.2 76.1M406.3 73.9L403.3 73.8M404 76.9L408.5 73.4L407.5 75.4M408.5 73.4L406.4 73.9M409 76.9L411.9 73.8L411.4 75.4M411.9 73.8L410.4 74.4M414 76.9L415.9 74.3L415.7 75.5M415.9 74.3L414.8 74.9M354 72.7L353.9 76.9L353.3 75.4M353.9 76.9L354.6 75.4M359 72.7L359.2 76.9L358.4 75.5M359.2 76.9L359.8 75.4M364 72.7L364.4 77.1L363.6 75.6M364.4 77.1L365 75.5M369 72.7L369.7 77.5L368.7 75.9M369.7 77.5L370.2 75.7M374 72.7L375.3 78.2L373.9 76.5M375.3 78.2L375.7 76.1M379 72.7L381.3 79.3L379.5 77.4M381.3 79.3L381.6 76.6M404 72.7L407.5 67.1L407.1 69.6M407.5 67.1L405.4 68.5M409 72.7L410.9 68.6L410.9 70.4M410.9 68.6L409.6 69.8M414 72.7L415.2 69.6L415.3 70.9M415.2 69.6L414.3 70.5M354 68.5L354 72.8L353.3 71.3M354 72.8L354.7 71.3M359 68.5L359 72.8L358.3 71.3M359 72.8L359.7 71.3M364 68.5L364 73L363.3 71.5M364 73L364.7 71.4M369 68.5L369.1 73.5L368.2 71.7M369.1 73.5L369.8 71.7M374 68.5L374.1 74.3L373.1 72.3M374.1 74.3L375 72.3M379 68.5L379.1 75.8L377.9 73.3M379.1 75.8L380.2 73.3M404 68.5L404.2 61.7L405.2 64.1M404.2 61.7L403 64.1M409 68.5L409.2 64L409.8 65.6M409.2 64L408.4 65.5M414 68.5L414.2 65.2L414.6 66.4M414.2 65.2L413.6 66.3M354 64.3L354 68.5L353.4 67M354 68.5L354.7 67M359 64.3L358.9 68.6L358.2 67M358.9 68.6L359.6 67.1M364 64.3L363.7 68.7L363.1 67.1M363.7 68.7L364.5 67.2M369 64.3L368.4 69.1L367.8 67.3M368.4 69.1L369.4 67.5M374 64.3L372.9 69.8L372.4 67.7M372.9 69.8L374.2 68.1M379 64.3L376.8 70.9L376.5 68.3M376.8 70.9L378.7 68.9M404 64.3L400.9 58.8L402.9 60.2M400.9 58.8L401.1 61.2M409 64.3L407.5 60.3L408.7 61.4M407.5 60.3L407.4 61.9M414 64.3L413.2 61.2L413.9 62.2M413.2 61.2L413 62.4M354 60.1L354.1 64.1L353.4 62.7M354.1 64.1L354.7 62.7M359 60.1L358.8 64.1L358.2 62.7M358.8 64.1L359.5 62.8M364 60.1L363.4 64.3L362.9 62.7M363.4 64.3L364.3 62.9M369 60.1L367.9 64.5L367.6 62.8M367.9 64.5L369 63.1M374 60.1L372.1 64.9L372 62.9M372.1 64.9L373.5 63.5M379 60.1L375.8 65.3L376.1 63M375.8 65.3L377.8 64M384 60.1L378.6 65.4L379.6 62.7M378.6 65.4L381.3 64.4M399 60.1L392 57.1L394.9 57M392 57.1L394 59.3M404 60.1L399.8 56.7L401.8 57.2M399.8 56.7L400.7 58.5M409 60.1L406.5 57L407.9 57.7M406.5 57L406.9 58.5M354 55.9L354.1 59.6L353.5 58.3M354.1 59.6L354.7 58.3M359 55.9L358.7 59.6L358.2 58.3M358.7 59.6L359.4 58.4M364 55.9L363.2 59.7L362.9 58.2M363.2 59.7L364.1 58.5M369 55.9L367.6 59.8L367.5 58.2M367.6 59.8L368.7 58.6M374 55.9L371.9 59.9L372 58.1M371.9 59.9L373.2 58.8M379 55.9L375.8 59.8L376.3 57.9M375.8 59.8L377.5 59M384 55.9L379.4 59.4L380.4 57.4M379.4 59.4L381.5 58.9M389 55.9L383 58.2L384.7 56.4M383 58.2L385.5 58.3M394 55.9L387.6 56.3L389.8 55.2M387.6 56.3L389.9 57.2M399 55.9L393.6 54.7L395.7 54.3M393.6 54.7L395.3 56M404 55.9L400 54L401.7 54M400 54L401.1 55.3M409 55.9L406.2 53.8L407.5 54.1M406.2 53.8L406.8 55M354 51.7L354.1 55L353.5 53.9M354.1 55L354.6 53.8M359 51.7L358.7 55L358.2 53.8M358.7 55L359.3 53.9M364 51.7L363.2 55L362.9 53.7M363.2 55L364 54M369 51.7L367.6 55L367.6 53.6M367.6 55L368.6 54.1M374 51.7L371.9 55L372.1 53.5M371.9 55L373.2 54.2M379 51.7L376.1 54.7L376.6 53.2M376.1 54.7L377.6 54.1M384 51.7L380.2 54.2L381.2 52.8M380.2 54.2L382 54M389 51.7L384.6 53.4L385.8 52.1M384.6 53.4L386.4 53.5M394 51.7L389.4 52.3L390.9 51.3M389.4 52.3L391.1 52.8M399 51.7L394.8 51.3L396.3 50.8M394.8 51.3L396.2 52.1M404 51.7L400.5 50.6L401.9 50.5M400.5 50.6L401.6 51.6M374 47.5L372.1 50.2L372.3 49M372.1 50.2L373.2 49.6M379 47.5L376.5 49.9L377 48.7M376.5 49.9L377.8 49.5M384 47.5L381 49.5L381.7 48.3M381 49.5L382.3 49.3M389 47.5L385.6 48.9L386.5 47.8M385.6 48.9L387 48.9M394 47.5L390.4 48.2L391.6 47.4M390.4 48.2L391.8 48.5M399 47.5L395.6 47.5L396.8 47M395.6 47.5L396.8 48" fill="none" stroke="#000" stroke-opacity="1" stroke-width="0.85" stroke-linecap="round"/>
</g></g>
<rect x="509" y="5.5" width="8" height="126" fill="url(#jet)"/>
<g font-size="6.8" fill="#3c3c3c">
<text x="519.6" y="134.7">0</text>
<text x="519.6" y="109.5">5</text>
<text x="519.6" y="84.3">10</text>
<text x="519.6" y="59.1">15</text>
<text x="519.6" y="33.9">20</text>
<text x="519.6" y="8.7">25</text>
<text transform="translate(536.5 68.5) rotate(-90)" text-anchor="middle">Velocity (m/s)</text>
</g>
<g font-size="7.3" fill="#3c3c3c">
<text x="354" y="142.6" text-anchor="middle">0</text>
<text x="351" y="134.7" text-anchor="end">0</text>
<text x="387.3" y="142.6" text-anchor="middle">20</text>
<text x="351" y="106.7" text-anchor="end">20</text>
<text x="420.7" y="142.6" text-anchor="middle">40</text>
<text x="351" y="78.7" text-anchor="end">40</text>
<text x="454" y="142.6" text-anchor="middle">60</text>
<text x="351" y="50.7" text-anchor="end">60</text>
<text x="487.3" y="142.6" text-anchor="middle">80</text>
<text x="351" y="22.7" text-anchor="end">80</text>
</g>
<g font-size="8.5" fill="#3c3c3c" text-anchor="middle">
<text x="429.6" y="153.8">X position [m]</text>
<text transform="translate(339.5 68) rotate(-90)">Y position [m]</text>
</g>
<g clip-path="url(#cpc)"><g>
<rect x="25" y="196" width="160" height="136" fill="#0000b0"/>
<path d="M59.5 282.7L60.2 282.7L60.6 282.8L61 282.8L61.3 282.8L61.7 282.9L62.1 282.9L62.5 282.9L62.9 282.9L63.3 282.9L63.7 282.9L64.1 282.9L64.5 282.9L64.9 282.9L65.3 282.9L65.7 282.9L66.1 282.8L66.5 282.8L66.9 282.8L67.3 282.7L67.7 282.7L68.1 282.6L68.5 282.6L68.9 282.5L69.3 282.4L69.7 282.4L70.1 282.3L70.5 282.2L70.9 282.1L71.3 282L71.7 281.9L72.1 281.8L72.5 281.7L72.9 281.5L73.3 281.4L73.7 281.3L74 281.1L74.3 281L74.8 280.8L75.1 280.7L75.6 280.4L76 280.2L76.4 280L76.8 279.8L77.1 279.7L77.6 279.4L78 279.1L78.2 279L78.7 278.7L79.2 278.3L79.6 278L80 277.7L80.4 277.4L80.8 277.1L81.2 276.7L81.6 276.3L81.9 276L82.2 275.7L82.4 275.5L82.8 275L83 274.7L83.3 274.3L83.5 274L83.8 273.7L84 273.4L84.2 273L84.4 272.7L84.6 272.3L84.8 272L84.9 271.7L85.1 271.3L85.2 271L85.4 270.7L85.5 270.3L85.6 270L85.8 269.7L85.9 269.3L86 269L86.1 268.7L86.1 268.3L86.2 268L86.3 267.7L86.3 267.3L86.4 267L86.4 266.7L86.5 266.3L86.5 266L86.5 265.7L86.5 265L86.5 264.3L86.5 263.7L86.5 263.3L86.4 263L86.4 262.7L86.3 262.3L86.3 262L86.2 261.7L86.1 261.3L86 261L86 260.7L85.9 260.3L85.8 260L85.6 259.7L85.5 259.3L85.4 259L85.2 258.7L85.1 258.3L84.9 258L84.8 257.7L84.6 257.3L84.4 257L84.2 256.7L84 256.3L83.8 256L83.6 255.7L83.3 255.3L83.2 255.1L82.8 254.7L82.5 254.3L82.4 254.1L82 253.7L81.6 253.3L81.3 253L81 252.7L80.6 252.3L80.4 252.1L80 251.8L79.6 251.5L79.2 251.2L79 251L78.5 250.7L78 250.3L77.6 250.1L77.2 249.8L77 249.7L76.4 249.4L76 249.1L75.8 249L75.2 248.7L74.8 248.6L74.4 248.4L74 248.2L73.7 248L73.3 247.9L72.9 247.7L72.5 247.6L72.1 247.4L71.8 247.3L71.3 247.2L70.9 247.1L70.5 246.9L70.1 246.8L69.7 246.7L69.4 246.7L68.9 246.5L68.5 246.5L68.1 246.4L67.7 246.3L67.3 246.2L66.9 246.2L66.5 246.1L66.1 246.1L65.7 246L65.3 246L64.9 245.9L64.5 245.9L64.1 245.9L63.7 245.8L63.3 245.8L62.9 245.8L62.5 245.8L62.1 245.8L61.7 245.8L61.3 245.8L61 245.8L60.6 245.8L60.2 245.8L59.8 245.8L59.4 245.8L59 245.8L58.6 245.9L58.2 245.9L57.8 245.9L57.4 246L57.1 246L56.6 246.1L56.2 246.1L55.8 246.2L55.4 246.2L55 246.3L54.6 246.3L54.2 246.4L53.8 246.5L53.4 246.5L53 246.6L52.6 246.7L52.2 246.8L51.8 246.9L51.4 246.9L51 247L50.6 247.1L50.2 247.2L49.8 247.3L49.4 247.4L49 247.5L48.7 247.6L48.3 247.7L47.9 247.9L47.5 248L47.1 248.1L46.7 248.2L46.3 248.3L45.9 248.4L45.5 248.6L45.2 248.7L44.7 248.8L44.3 248.9L43.9 249.1L43.5 249.2L43.1 249.3L42.7 249.5L42.3 249.6L41.9 249.7L41.5 249.8L41.1 250L40.7 250.1L40.3 250.2L40 250.3L39.5 250.5L39.1 250.6L38.7 250.7L38.3 250.8L37.9 251L37.5 251.1L37.1 251.2L36.7 251.3L36.3 251.4L36 251.5L35.6 251.6L35.2 251.7L34.8 251.8L34.4 251.8L34 251.9L33.6 252L33.2 252L32.8 252.1L32.4 252.1L32 252.2L31.6 252.2L31.2 252.2L30.8 252.2L30.4 252.3L30 252.3L30 252.7L30 253.3L30 254L30 254.7L30 255.3L30 256L30 256.7L30 257.3L30 258L30 258.7L30 259.3L30 260L30 260.7L30 261.3L30 262L30 262.7L30 263.3L30 264L30 264.7L30 265.3L30 266L30 266.7L30 267.3L30 268L30 268.7L30 269.3L30 270L30 270.7L30 271.3L30 272L30 272.7L30 273.3L30 274L30 274.6L30.4 274.6L30.8 274.6L31.2 274.7L31.6 274.7L32 274.7L32.4 274.8L32.8 274.8L33.2 274.9L33.6 275L34 275L34.4 275.1L34.8 275.2L35.2 275.3L35.6 275.4L36 275.5L36.3 275.6L36.7 275.7L37.1 275.9L37.5 276L37.9 276.1L38.3 276.2L38.7 276.4L39.1 276.5L39.5 276.7L39.9 276.8L40.3 277L40.7 277.1L41.1 277.3L41.5 277.4L41.9 277.6L42.2 277.7L42.7 277.9L43.1 278L43.5 278.2L43.9 278.3L44.3 278.5L44.7 278.6L45.1 278.8L45.5 278.9L45.9 279.1L46.3 279.2L46.6 279.3L47.1 279.5L47.5 279.7L47.9 279.8L48.3 279.9L48.7 280.1L49 280.2L49.4 280.3L49.8 280.5L50.2 280.6L50.6 280.7L51 280.8L51.4 281L51.8 281.1L52.2 281.2L52.6 281.3L53 281.4L53.4 281.5L53.8 281.6L54.2 281.7L54.6 281.8L55 281.9L55.4 282L55.8 282.1L56.2 282.1L56.6 282.2L57 282.3L57.4 282.4L57.8 282.4L58.2 282.5L58.6 282.5L59 282.6L59.4 282.7Z" fill="#1484fa" fill-rule="evenodd"/>
<path d="M63.1 273.7L63.7 273.8L64.1 273.8L64.5 273.9L64.9 273.9L65.3 274L65.7 274L66.1 274L66.5 274L66.9 274L67.3 273.9L67.7 273.9L68.1 273.9L68.5 273.8L68.9 273.7L69.2 273.7L69.7 273.6L70.1 273.5L70.5 273.3L70.9 273.2L71.3 273.1L71.7 272.9L72.1 272.7L72.5 272.5L72.9 272.3L73.3 272.1L73.7 271.9L73.9 271.7L74.4 271.3L74.8 271L75.2 270.7L75.5 270.3L75.8 270L76 269.8L76.4 269.3L76.6 269L76.8 268.7L77 268.3L77.2 268L77.4 267.7L77.5 267.3L77.6 267.1L77.8 266.7L77.9 266.3L77.9 266L78 265.7L78.1 265.3L78.1 265L78.1 264.7L78.1 264L78.1 263.3L78 263L78 262.7L77.9 262.3L77.8 262L77.7 261.7L77.6 261.4L77.5 261L77.3 260.7L77.2 260.3L77 260L76.8 259.7L76.6 259.3L76.3 259L76.1 258.7L75.8 258.3L75.5 258L75.2 257.8L74.8 257.4L74.4 257.1L74 256.8L73.7 256.5L73.4 256.3L72.9 256L72.5 255.8L72.2 255.7L71.7 255.4L71.4 255.3L70.9 255.1L70.5 255L70.1 254.9L69.7 254.8L69.3 254.7L68.9 254.6L68.5 254.5L68.1 254.4L67.7 254.4L67.3 254.4L66.9 254.3L66.5 254.3L66.1 254.3L65.7 254.3L65.3 254.3L64.9 254.3L64.5 254.4L64.1 254.4L63.7 254.5L63.3 254.5L62.9 254.6L62.6 254.7L62.1 254.8L61.7 254.9L61.4 255L61 255.1L60.6 255.3L60.2 255.4L59.8 255.6L59.4 255.8L59 256L58.6 256.2L58.2 256.5L57.9 256.7L57.4 257L57 257.3L56.6 257.7L56.2 258L55.9 258.3L55.6 258.7L55.4 258.9L55.1 259.3L54.9 259.7L54.7 260L54.5 260.3L54.3 260.7L54.1 261L54 261.3L53.9 261.7L53.8 262L53.7 262.3L53.6 262.7L53.6 263L53.5 263.3L53.5 263.7L53.5 264.3L53.5 264.7L53.6 265L53.6 265.3L53.7 265.7L53.8 266L53.9 266.3L54 266.7L54.1 267L54.3 267.3L54.4 267.7L54.6 268L54.8 268.3L55 268.6L55.3 269L55.5 269.3L55.8 269.6L56.1 270L56.5 270.3L56.8 270.7L57.2 271L57.7 271.3L58.2 271.7L58.6 271.9L59 272.1L59.3 272.3L59.8 272.6L60 272.7L60.6 272.9L60.8 273L61.3 273.2L61.7 273.3L62.1 273.4L62.5 273.5L62.9 273.6Z" fill="#14faeb" fill-rule="evenodd"/>
<path d="M64.9 270.3L65.3 270.4L65.7 270.5L66.1 270.5L66.5 270.6L66.9 270.6L67.3 270.6L67.7 270.5L68.1 270.5L68.5 270.4L68.9 270.3L69.3 270.3L69.7 270.1L70.1 270L70.5 269.8L70.9 269.7L71.3 269.5L71.7 269.2L72 269L72.4 268.7L72.8 268.3L73.1 268L73.4 267.7L73.7 267.4L73.9 267L74 266.7L74.2 266.3L74.4 266L74.5 265.7L74.6 265.3L74.6 265L74.7 264.7L74.7 264.3L74.7 263.7L74.7 263.3L74.6 263L74.5 262.7L74.4 262.4L74.3 262L74.2 261.7L74 261.3L73.8 261L73.6 260.7L73.3 260.3L73 260L72.6 259.7L72.2 259.3L71.8 259L71.3 258.7L70.9 258.5L70.5 258.3L70.1 258.1L69.7 258L69.3 257.9L68.9 257.8L68.5 257.7L68.2 257.7L67.7 257.6L67.3 257.6L66.9 257.6L66.5 257.6L66.1 257.6L65.7 257.6L65.3 257.7L64.9 257.8L64.5 257.9L64.1 258L63.7 258.1L63.3 258.2L62.9 258.4L62.5 258.6L62.1 258.8L61.9 259L61.4 259.3L61 259.7L60.7 260L60.4 260.3L60.2 260.6L59.9 261L59.7 261.3L59.5 261.7L59.4 262L59.2 262.3L59.1 262.7L59 263L59 263.3L59 263.7L59 264.3L59 264.7L59 265L59.1 265.3L59.2 265.7L59.3 266L59.5 266.3L59.6 266.7L59.8 266.9L60 267.3L60.3 267.7L60.6 268L60.9 268.3L61.3 268.7L61.7 269L62.1 269.3L62.5 269.5L62.9 269.7L63.3 269.9L63.7 270L64.1 270.1L64.5 270.3L64.9 270.3Z" fill="#ebfa14" fill-rule="evenodd"/>
<path d="M65.9 268L66.5 268.1L66.9 268.1L67.3 268.2L67.7 268.1L68.1 268.1L68.5 268L68.9 267.9L69.3 267.8L69.6 267.7L70.1 267.4L70.5 267.2L70.7 267L70.9 266.8L71.1 266.7L71.3 266.4L71.6 266L71.8 265.7L71.9 265.3L72.1 265L72.1 264.7L72.2 264.3L72.2 263.7L72.1 263.3L72 263L71.9 262.7L71.8 262.3L71.6 262L71.3 261.7L71 261.3L70.6 261L70.1 260.7L69.7 260.4L69.3 260.3L68.9 260.1L68.5 260L68.1 260L67.7 259.9L67.3 259.9L66.9 259.9L66.5 259.9L66.2 260L65.7 260.1L65.3 260.2L65 260.3L64.5 260.6L64.1 260.8L63.9 261L63.5 261.3L63.2 261.7L62.9 262L62.7 262.3L62.6 262.7L62.4 263L62.4 263.3L62.3 263.7L62.3 264L62.4 264.7L62.4 265L62.5 265.3L62.7 265.7L62.9 266L63.1 266.3L63.3 266.5L63.7 266.9L64.1 267.2L64.5 267.5L64.9 267.7L65.3 267.8L65.7 267.9Z" fill="#ff5500" fill-rule="evenodd"/>
<path d="M30 327l0 0M34.8 327l.22 0M39.5 327l.43 0M44.3 327l.63 0M49 327l.82 0M53.8 327l.99 0M58.5 327l1.13 0M63.3 327l1.25 0M68 327l1.35 0M72.8 327l1.42 0M77.5 327l1.46 0M82.3 327l1.48 0M87 327l1.48 0M91.8 327l1.45 0M96.5 327l1.42 0M101.3 327l1.37 0M106 327l1.31 0M110.8 327l1.24 0M115.5 327l1.18 0M120.3 327l1.11 0M125 327l1.04 0M129.8 327l.97 0M134.5 327l.91 0M139.3 327l.84 0M144 327l.79 0M148.8 327l.73 0M153.5 327l.68 0M158.3 327l.63 0M163.1 327l.59 0M167.8 327l.55 0M172.6 327l.51 0M177.3 327l.47 0M30 323l0 .18M34.8 323l.22 .18M39.5 323l.43 .18M44.3 323l.64 .16M49 323l.83 .15M53.8 323l1 .13M58.5 323l1.15 .11M63.3 323l1.27 .09M68 323l1.36 .07M72.8 323l1.43 .05M77.5 323l1.47 .02M82.3 323l1.49 .01M87 323l1.49 -.01M91.8 323l1.46 -.03M96.5 323l1.42 -.04M101.3 323l1.37 -.05M106 323l1.31 -.05M110.8 323l1.24 -.06M115.5 323l1.18 -.06M120.3 323l1.11 -.06M125 323l1.04 -.06M129.8 323l.97 -.06M134.5 323l.9 -.05M139.3 323l.84 -.05M144 323l.78 -.05M148.8 323l.73 -.04M153.5 323l.68 -.04M158.3 323l.63 -.04M163.1 323l.59 -.04M167.8 323l.55 -.03M172.6 323l.51 -.03M177.3 323l.47 -.03M30 319l0 .37M34.8 319l.23 .37M39.5 319l.45 .35M44.3 319l.66 .33M49 319l.86 .3M53.8 319l1.03 .27M58.5 319l1.18 .23M63.3 319l1.31 .18M68 319l1.4 .14M72.8 319l1.47 .09M91.8 319l1.48 -.06M96.5 319l1.44 -.08M101.3 319l1.38 -.1M106 319l1.32 -.11M110.8 319l1.25 -.11M115.5 319l1.18 -.12M120.3 319l1.11 -.12M125 319l1.03 -.12M129.8 319l.97 -.11M134.5 319l.9 -.11M139.3 319l.84 -.1M144 319l.78 -.1M148.8 319l.72 -.09M153.5 319l.67 -.08M158.3 319l.63 -.08M163.1 319l.58 -.07M167.8 319l.54 -.07M172.6 319l.5 -.06M177.3 319l.47 -.06M30 315l0 .57M34.8 315l.24 .56M39.5 315l.47 .54M44.3 315l.7 .51M49 315l.9 .47M53.8 315l1.09 .41M58.5 315l1.25 .35M63.3 315l1.38 .28M68 315l1.48 .21M96.5 315l1.47 -.12M101.3 315l1.4 -.15M106 315l1.33 -.17M110.8 315l1.26 -.18M115.5 315l1.18 -.18M120.3 315l1.1 -.18M125 315l1.03 -.18M129.8 315l.96 -.17M134.5 315l.89 -.16M139.3 315l.83 -.15M144 315l.77 -.14M148.8 315l.71 -.13M153.5 315l.66 -.12M158.3 315l.62 -.12M163.1 315l.57 -.11M167.8 315l.53 -.1M172.6 315l.5 -.09M177.3 315l.46 -.08M30 311l0 .78M34.8 311l.26 .77M39.5 311l.51 .74M44.3 311l.75 .7M49 311l.97 .64M53.8 311l1.17 .56M58.5 311l1.34 .47M101.3 311l1.43 -.21M106 311l1.35 -.23M110.8 311l1.26 -.24M115.5 311l1.18 -.25M120.3 311l1.1 -.24M125 311l1.02 -.24M129.8 311l.95 -.23M134.5 311l.88 -.22M139.3 311l.82 -.2M144 311l.76 -.19M148.8 311l.7 -.18M153.5 311l.65 -.17M158.3 311l.6 -.15M163.1 311l.56 -.14M167.8 311l.52 -.13M172.6 311l.49 -.12M177.3 311l.45 -.11M30 307l0 1M34.8 307l.28 .99M39.5 307l.56 .96M44.3 307l.82 .9M49 307l1.07 .82M53.8 307l1.29 .72M101.3 307l1.46 -.29M106 307l1.37 -.31M110.8 307l1.27 -.32M115.5 307l1.18 -.32M120.3 307l1.09 -.31M125 307l1.01 -.3M129.8 307l.93 -.29M134.5 307l.86 -.27M139.3 307l.8 -.26M144 307l.74 -.24M148.8 307l.68 -.22M153.5 307l.63 -.21M158.3 307l.59 -.19M163.1 307l.55 -.18M167.8 307l.51 -.16M172.6 307l.47 -.15M177.3 307l.44 -.14M30 303.1l0 1.25M34.8 303.1l.31 1.24M39.5 303.1l.62 1.2M44.3 303.1l.91 1.13M106 303.1l1.38 -.4M110.8 303.1l1.28 -.4M115.5 303.1l1.17 -.4M120.3 303.1l1.08 -.39M125 303.1l.99 -.37M129.8 303.1l.91 -.35M134.5 303.1l.84 -.33M139.3 303.1l.78 -.31M144 303.1l.72 -.29M148.8 303.1l.66 -.27M153.5 303.1l.61 -.25M158.3 303.1l.57 -.23M163.1 303.1l.53 -.21M167.8 303.1l.49 -.19M172.6 303.1l.46 -.18M177.3 303.1l.43 -.16M106 299.1l1.4 -.5M110.8 299.1l1.27 -.5M115.5 299.1l1.16 -.48M120.3 299.1l1.06 -.47M125 299.1l.97 -.44M129.8 299.1l.88 -.41M134.5 299.1l.81 -.39M139.3 299.1l.75 -.36M144 299.1l.69 -.33M148.8 299.1l.64 -.31M153.5 299.1l.59 -.28M158.3 299.1l.54 -.26M163.1 299.1l.51 -.24M167.8 299.1l.47 -.22M172.6 299.1l.44 -.2M177.3 299.1l.41 -.19M110.8 295.1l1.26 -.6M115.5 295.1l1.13 -.58M120.3 295.1l1.03 -.55M125 295.1l.93 -.51M129.8 295.1l.85 -.48M134.5 295.1l.78 -.45M139.3 295.1l.71 -.41M144 295.1l.65 -.38M148.8 295.1l.6 -.35M153.5 295.1l.56 -.32M158.3 295.1l.52 -.3M163.1 295.1l.48 -.27M167.8 295.1l.45 -.25M172.6 295.1l.42 -.23M177.3 295.1l.39 -.21M110.8 291.1l1.23 -.72M115.5 291.1l1.09 -.68M120.3 291.1l.98 -.63M125 291.1l.88 -.59M129.8 291.1l.8 -.54M134.5 291.1l.73 -.5M139.3 291.1l.67 -.46M144 291.1l.61 -.42M148.8 291.1l.57 -.39M153.5 291.1l.52 -.36M158.3 291.1l.48 -.33M163.1 291.1l.45 -.3M167.8 291.1l.42 -.28M172.6 291.1l.39 -.25M177.3 291.1l.37 -.23M110.8 287.1l1.17 -.84M115.5 287.1l1.03 -.78M120.3 287.1l.92 -.72M125 287.1l.82 -.66M129.8 287.1l.74 -.61M134.5 287.1l.68 -.56M139.3 287.1l.62 -.51M144 287.1l.57 -.47M148.8 287.1l.52 -.43M153.5 287.1l.48 -.39M158.3 287.1l.45 -.36M163.1 287.1l.42 -.33M167.8 287.1l.39 -.3M172.6 287.1l.36 -.27M177.3 287.1l.34 -.25M110.8 283.1l1.08 -.97M115.5 283.1l.95 -.89M120.3 283.1l.84 -.81M125 283.1l.75 -.73M129.8 283.1l.67 -.67M134.5 283.1l.61 -.61M139.3 283.1l.56 -.55M144 283.1l.51 -.5M148.8 283.1l.48 -.46M153.5 283.1l.44 -.42M158.3 283.1l.41 -.38M163.1 283.1l.38 -.35M167.8 283.1l.36 -.32M172.6 283.1l.34 -.29M177.3 283.1l.31 -.27M110.8 279.1l.96 -1.1M115.5 279.1l.84 -.98M120.3 279.1l.74 -.89M125 279.1l.66 -.8M129.8 279.1l.59 -.72M134.5 279.1l.54 -.65M139.3 279.1l.49 -.59M144 279.1l.46 -.54M148.8 279.1l.42 -.49M153.5 279.1l.39 -.44M158.3 279.1l.37 -.4M163.1 279.1l.34 -.37M167.8 279.1l.32 -.34M172.6 279.1l.3 -.31M177.3 279.1l.29 -.28M110.8 275.1l.8 -1.21M115.5 275.1l.7 -1.07M120.3 275.1l.62 -.95M125 275.1l.55 -.85M129.8 275.1l.5 -.76M134.5 275.1l.46 -.69M139.3 275.1l.42 -.62M144 275.1l.39 -.56M148.8 275.1l.37 -.51M153.5 275.1l.34 -.46M158.3 275.1l.32 -.42M163.1 275.1l.3 -.39M167.8 275.1l.29 -.35M172.6 275.1l.27 -.32M177.3 275.1l.26 -.3M110.8 271.1l.61 -1.3M115.5 271.1l.53 -1.14M120.3 271.1l.48 -1M125 271.1l.44 -.89M129.8 271.1l.4 -.8M134.5 271.1l.37 -.72M139.3 271.1l.35 -.64M144 271.1l.33 -.58M148.8 271.1l.31 -.53M153.5 271.1l.29 -.48M158.3 271.1l.28 -.44M163.1 271.1l.26 -.4M167.8 271.1l.25 -.37M172.6 271.1l.24 -.34M177.3 271.1l.23 -.31M110.8 267.1l.39 -1.35M115.5 267.1l.35 -1.18M120.3 267.1l.33 -1.03M125 267.1l.31 -.92M129.8 267.1l.29 -.82M134.5 267.1l.28 -.73M139.3 267.1l.27 -.66M144 267.1l.26 -.6M148.8 267.1l.25 -.54M153.5 267.1l.24 -.49M158.3 267.1l.23 -.45M163.1 267.1l.22 -.41M167.8 267.1l.21 -.37M172.6 267.1l.2 -.34M177.3 267.1l.2 -.32M110.8 263.1l.15 -1.36M115.5 263.1l.17 -1.18M120.3 263.1l.17 -1.04M125 263.1l.18 -.92M129.8 263.1l.18 -.82M134.5 263.1l.19 -.74M139.3 263.1l.19 -.66M144 263.1l.18 -.6M148.8 263.1l.18 -.54M153.5 263.1l.18 -.5M158.3 263.1l.18 -.45M163.1 263.1l.18 -.41M167.8 263.1l.17 -.38M172.6 263.1l.17 -.35M177.3 263.1l.16 -.32M110.8 259.1l-.07 -1.33M115.5 259.1l-.02 -1.16M120.3 259.1l.02 -1.02M125 259.1l.05 -.91M129.8 259.1l.08 -.81M134.5 259.1l.09 -.73M139.3 259.1l.11 -.66M144 259.1l.11 -.6M148.8 259.1l.12 -.54M153.5 259.1l.13 -.5M158.3 259.1l.13 -.45M163.1 259.1l.13 -.41M167.8 259.1l.13 -.38M172.6 259.1l.13 -.35M177.3 259.1l.13 -.32M106 255.2l-.41 -1.43M110.8 255.2l-.28 -1.25M115.5 255.2l-.19 -1.11M120.3 255.2l-.12 -.98M125 255.2l-.07 -.88M129.8 255.2l-.03 -.79M134.5 255.2l0 -.71M139.3 255.2l.03 -.65M144 255.2l.05 -.59M148.8 255.2l.06 -.54M153.5 255.2l.07 -.49M158.3 255.2l.08 -.45M163.1 255.2l.09 -.41M167.8 255.2l.1 -.38M172.6 255.2l.1 -.35M177.3 255.2l.1 -.32M106 251.2l-.61 -1.29M110.8 251.2l-.45 -1.15M115.5 251.2l-.34 -1.03M120.3 251.2l-.25 -.92M125 251.2l-.18 -.83M129.8 251.2l-.12 -.75M134.5 251.2l-.08 -.68M139.3 251.2l-.04 -.62M144 251.2l-.02 -.57M148.8 251.2l.01 -.52M153.5 251.2l.02 -.48M158.3 251.2l.04 -.44M163.1 251.2l.05 -.4M167.8 251.2l.06 -.37M172.6 251.2l.07 -.35M177.3 251.2l.07 -.32M106 247.2l-.76 -1.13M110.8 247.2l-.59 -1.03M115.5 247.2l-.45 -.94M120.3 247.2l-.35 -.85M125 247.2l-.27 -.78M129.8 247.2l-.2 -.71M134.5 247.2l-.15 -.65M139.3 247.2l-.11 -.59M144 247.2l-.07 -.55M148.8 247.2l-.05 -.5M153.5 247.2l-.02 -.46M158.3 247.2l0 -.43M163.1 247.2l.01 -.39M167.8 247.2l.02 -.37M172.6 247.2l.03 -.34M177.3 247.2l.04 -.31M101.3 243.2l-1.08 -1.01M106 243.2l-.86 -.96M110.8 243.2l-.68 -.9M115.5 243.2l-.55 -.83M120.3 243.2l-.43 -.77M125 243.2l-.34 -.71M129.8 243.2l-.27 -.66M134.5 243.2l-.21 -.61M139.3 243.2l-.16 -.56M144 243.2l-.13 -.52M148.8 243.2l-.09 -.48M153.5 243.2l-.07 -.44M158.3 243.2l-.04 -.41M163.1 243.2l-.02 -.38M167.8 243.2l-.01 -.35M172.6 243.2l.01 -.33M177.3 243.2l.02 -.31M101.3 239.2l-1.11 -.82M106 239.2l-.91 -.8M110.8 239.2l-.74 -.77M115.5 239.2l-.61 -.73M120.3 239.2l-.5 -.69M125 239.2l-.4 -.64M129.8 239.2l-.33 -.6M134.5 239.2l-.27 -.56M139.3 239.2l-.21 -.52M144 239.2l-.17 -.49M148.8 239.2l-.13 -.45M153.5 239.2l-.1 -.42M158.3 239.2l-.08 -.39M163.1 239.2l-.06 -.37M167.8 239.2l-.04 -.34M172.6 239.2l-.02 -.32M177.3 239.2l-.01 -.3M96.5 235.2l-1.3 -.61M101.3 235.2l-1.1 -.64M106 235.2l-.92 -.65M110.8 235.2l-.77 -.65M115.5 235.2l-.65 -.63M120.3 235.2l-.54 -.6M125 235.2l-.45 -.57M129.8 235.2l-.37 -.54M134.5 235.2l-.31 -.51M139.3 235.2l-.25 -.48M144 235.2l-.21 -.45M148.8 235.2l-.17 -.42M153.5 235.2l-.14 -.4M158.3 235.2l-.11 -.37M163.1 235.2l-.08 -.35M167.8 235.2l-.06 -.33M172.6 235.2l-.05 -.31M177.3 235.2l-.03 -.29M91.8 231.2l-1.41 -.36M96.5 231.2l-1.23 -.45M101.3 231.2l-1.06 -.5M106 231.2l-.91 -.53M110.8 231.2l-.78 -.54M115.5 231.2l-.66 -.53M120.3 231.2l-.56 -.52M125 231.2l-.48 -.5M129.8 231.2l-.4 -.48M134.5 231.2l-.34 -.46M139.3 231.2l-.28 -.44M144 231.2l-.24 -.42M148.8 231.2l-.2 -.39M153.5 231.2l-.16 -.37M158.3 231.2l-.14 -.35M163.1 231.2l-.11 -.33M167.8 231.2l-.09 -.31M172.6 231.2l-.07 -.29M177.3 231.2l-.05 -.27M87 227.2l-1.42 -.11M91.8 227.2l-1.28 -.23M96.5 227.2l-1.15 -.32M101.3 227.2l-1.01 -.38M106 227.2l-.88 -.42M110.8 227.2l-.77 -.44M115.5 227.2l-.67 -.45M120.3 227.2l-.57 -.45M125 227.2l-.49 -.44M129.8 227.2l-.42 -.43M134.5 227.2l-.36 -.41M139.3 227.2l-.31 -.4M144 227.2l-.26 -.38M148.8 227.2l-.22 -.36M153.5 227.2l-.19 -.34M158.3 227.2l-.16 -.33M163.1 227.2l-.13 -.31M167.8 227.2l-.11 -.29M172.6 227.2l-.09 -.28M177.3 227.2l-.07 -.26M72.8 223.2l-1.42 .45M77.5 223.2l-1.4 .27M82.3 223.2l-1.34 .12M87 223.2l-1.26 -.02M91.8 223.2l-1.16 -.13M96.5 223.2l-1.06 -.21M101.3 223.2l-.95 -.28M106 223.2l-.84 -.32M110.8 223.2l-.75 -.35M115.5 223.2l-.66 -.37M120.3 223.2l-.57 -.38M125 223.2l-.5 -.38M129.8 223.2l-.43 -.37M134.5 223.2l-.38 -.37M139.3 223.2l-.33 -.36M144 223.2l-.28 -.34M148.8 223.2l-.24 -.33M153.5 223.2l-.21 -.32M158.3 223.2l-.18 -.3M163.1 223.2l-.15 -.29M167.8 223.2l-.13 -.27M172.6 223.2l-.11 -.26M177.3 223.2l-.09 -.25M30 219.2l0 1.34M34.8 219.2l-.2 1.33M39.5 219.2l-.4 1.29M44.3 219.2l-.59 1.23M49 219.2l-.76 1.14M53.8 219.2l-.92 1.03M58.5 219.2l-1.04 .89M63.3 219.2l-1.14 .75M68 219.2l-1.2 .6M72.8 219.2l-1.23 .44M77.5 219.2l-1.22 .3M82.3 219.2l-1.18 .16M87 219.2l-1.13 .05M91.8 219.2l-1.05 -.05M96.5 219.2l-.97 -.13M101.3 219.2l-.88 -.2M106 219.2l-.8 -.24M110.8 219.2l-.72 -.28M115.5 219.2l-.64 -.3M120.3 219.2l-.56 -.32M125 219.2l-.5 -.32M129.8 219.2l-.44 -.32M134.5 219.2l-.38 -.32M139.3 219.2l-.34 -.32M144 219.2l-.29 -.31M148.8 219.2l-.26 -.3M153.5 219.2l-.22 -.29M158.3 219.2l-.19 -.28M163.1 219.2l-.17 -.27M167.8 219.2l-.14 -.26M172.6 219.2l-.12 -.24M177.3 219.2l-.1 -.23M30 215.2l0 1.19M34.8 215.2l-.17 1.17M39.5 215.2l-.34 1.14M44.3 215.2l-.51 1.09M49 215.2l-.65 1.01M53.8 215.2l-.78 .92M58.5 215.2l-.89 .81M63.3 215.2l-.98 .69M68 215.2l-1.03 .56M72.8 215.2l-1.06 .43M77.5 215.2l-1.06 .31M82.3 215.2l-1.04 .2M87 215.2l-1 .09M91.8 215.2l-.95 .01M96.5 215.2l-.89 -.07M101.3 215.2l-.82 -.13M106 215.2l-.75 -.18M110.8 215.2l-.68 -.22M115.5 215.2l-.61 -.24M120.3 215.2l-.55 -.26M125 215.2l-.49 -.27M129.8 215.2l-.44 -.28M134.5 215.2l-.39 -.28M139.3 215.2l-.34 -.28M144 215.2l-.3 -.28M148.8 215.2l-.26 -.27M153.5 215.2l-.23 -.26M158.3 215.2l-.2 -.26M163.1 215.2l-.18 -.25M167.8 215.2l-.15 -.24M172.6 215.2l-.13 -.23M177.3 215.2l-.12 -.22M30 211.2l0 1.05M34.8 211.2l-.15 1.04M39.5 211.2l-.3 1.01M44.3 211.2l-.43 .96M49 211.2l-.56 .9M53.8 211.2l-.67 .82M58.5 211.2l-.77 .73M63.3 211.2l-.84 .63M68 211.2l-.89 .53M72.8 211.2l-.92 .42M77.5 211.2l-.93 .32M82.3 211.2l-.92 .22M87 211.2l-.9 .13M91.8 211.2l-.86 .05M96.5 211.2l-.81 -.02M101.3 211.2l-.76 -.08M106 211.2l-.7 -.13M110.8 211.2l-.64 -.16M115.5 211.2l-.58 -.19M120.3 211.2l-.53 -.21M125 211.2l-.48 -.23M129.8 211.2l-.43 -.24M134.5 211.2l-.38 -.24M139.3 211.2l-.34 -.25M144 211.2l-.3 -.25M148.8 211.2l-.27 -.24M153.5 211.2l-.24 -.24M158.3 211.2l-.21 -.23M163.1 211.2l-.19 -.23M167.8 211.2l-.16 -.22M172.6 211.2l-.14 -.21M177.3 211.2l-.13 -.2M30 207.3l0 .93M34.8 207.3l-.13 .92M39.5 207.3l-.25 .9M44.3 207.3l-.37 .86M49 207.3l-.48 .81M53.8 207.3l-.58 .74M58.5 207.3l-.66 .66M63.3 207.3l-.73 .58M68 207.3l-.78 .49M72.8 207.3l-.81 .4M77.5 207.3l-.82 .31M82.3 207.3l-.82 .23M87 207.3l-.8 .15M91.8 207.3l-.77 .08M96.5 207.3l-.74 .02M101.3 207.3l-.7 -.04M106 207.3l-.65 -.08M110.8 207.3l-.6 -.12M115.5 207.3l-.55 -.15M120.3 207.3l-.51 -.17M125 207.3l-.46 -.19M129.8 207.3l-.42 -.2M134.5 207.3l-.38 -.21M139.3 207.3l-.34 -.21M144 207.3l-.31 -.22M148.8 207.3l-.27 -.22M153.5 207.3l-.24 -.21M158.3 207.3l-.22 -.21M163.1 207.3l-.19 -.21M167.8 207.3l-.17 -.2M172.6 207.3l-.15 -.2M177.3 207.3l-.13 -.19M30 203.3l0 .83M34.8 203.3l-.11 .82M39.5 203.3l-.22 .8M44.3 203.3l-.32 .77M49 203.3l-.42 .73M53.8 203.3l-.5 .67M58.5 203.3l-.58 .61M63.3 203.3l-.63 .54M68 203.3l-.68 .46M72.8 203.3l-.71 .38M77.5 203.3l-.72 .31M82.3 203.3l-.73 .23M87 203.3l-.72 .17M91.8 203.3l-.7 .1M96.5 203.3l-.67 .05M101.3 203.3l-.64 0M106 203.3l-.6 -.05M110.8 203.3l-.56 -.08M115.5 203.3l-.52 -.11M120.3 203.3l-.48 -.13M125 203.3l-.44 -.15M129.8 203.3l-.4 -.17M134.5 203.3l-.37 -.18M139.3 203.3l-.33 -.18M144 203.3l-.3 -.19M148.8 203.3l-.27 -.19M153.5 203.3l-.25 -.19M158.3 203.3l-.22 -.19M163.1 203.3l-.2 -.19M167.8 203.3l-.18 -.18M172.6 203.3l-.16 -.18M177.3 203.3l-.14 -.18" fill="none" stroke="#000" stroke-opacity="0.8" stroke-width="0.4" stroke-linecap="round"/>
<path d="M77.5 319L79 319.1L78.5 319.3M79 319.1L78.5 318.8M82.3 319L83.8 319L83.3 319.3M83.8 319L83.3 318.8M87 319L88.5 319L88 319.2M88.5 319L88 318.8M72.8 315L74.3 315.2L73.7 315.4M74.3 315.2L73.8 314.9M77.5 315L79.1 315.1L78.5 315.3M79.1 315.1L78.6 314.8M82.3 315L83.9 315L83.3 315.3M83.9 315L83.3 314.8M87 315L88.6 315L88 315.2M88.6 315L88 314.7M91.8 315L93.3 314.9L92.8 315.2M93.3 314.9L92.7 314.7M63.3 311L64.7 311.4L64.2 311.5M64.7 311.4L64.3 311M68 311L69.6 311.3L69 311.5M69.6 311.3L69.1 311M72.8 311L74.4 311.2L73.8 311.4M74.4 311.2L73.9 310.9M77.5 311L79.2 311.1L78.6 311.4M79.2 311.1L78.6 310.8M82.3 311L83.9 311L83.4 311.3M83.9 311L83.3 310.8M87 311L88.7 311L88.1 311.2M88.7 311L88.1 310.7M91.8 311L93.4 310.9L92.8 311.2M93.4 310.9L92.8 310.7M96.5 311L98 310.9L97.5 311.2M98 310.9L97.5 310.7M58.5 307L60 307.6L59.4 307.7M60 307.6L59.6 307.2M63.3 307L64.9 307.5L64.2 307.6M64.9 307.5L64.4 307.1M68 307L69.7 307.4L69.1 307.5M69.7 307.4L69.2 307M72.8 307L74.5 307.2L73.9 307.5M74.5 307.2L74 306.9M77.5 307L79.3 307.1L78.7 307.4M79.3 307.1L78.7 306.8M82.3 307L84 307L83.4 307.3M84 307L83.4 306.7M87 307L88.7 306.9L88.2 307.2M88.7 306.9L88.1 306.7M91.8 307L93.4 306.8L92.9 307.2M93.4 306.8L92.8 306.7M96.5 307L98.1 306.8L97.6 307.1M98.1 306.8L97.5 306.6M49 303.1L50.2 304.1L49.6 303.9M50.2 304.1L49.9 303.5M53.8 303.1L55.2 304L54.5 303.9M55.2 304L54.8 303.4M58.5 303.1L60.2 303.8L59.5 303.8M60.2 303.8L59.7 303.3M63.3 303.1L65.1 303.6L64.3 303.7M65.1 303.6L64.5 303.1M68 303.1L69.9 303.5L69.2 303.6M69.9 303.5L69.3 303M72.8 303.1L74.7 303.3L74 303.5M74.7 303.3L74.1 302.9M77.5 303.1L79.5 303.1L78.8 303.4M79.5 303.1L78.8 302.8M82.3 303.1L84.2 303L83.5 303.3M84.2 303L83.5 302.7M87 303.1L88.8 302.9L88.2 303.2M88.8 302.9L88.2 302.6M91.8 303.1L93.5 302.8L92.9 303.1M93.5 302.8L92.9 302.6M96.5 303.1L98.1 302.7L97.6 303.1M98.1 302.7L97.5 302.6M101.3 303.1L102.8 302.7L102.3 303M102.8 302.7L102.2 302.6M30 299.1L30 300.6L29.8 300.1M30 300.6L30.2 300.1M34.8 299.1L35.1 300.6L34.7 300.1M35.1 300.6L35.2 300M39.5 299.1L40.2 300.5L39.7 300.1M40.2 300.5L40.2 299.9M44.3 299.1L45.3 300.4L44.7 300.1M45.3 300.4L45.1 299.8M49 299.1L50.3 300.3L49.7 300.1M50.3 300.3L50.1 299.7M53.8 299.1L55.4 300.2L54.6 300M55.4 300.2L55 299.5M58.5 299.1L60.4 300L59.6 300M60.4 300L59.9 299.4M63.3 299.1L65.3 299.8L64.5 299.8M65.3 299.8L64.7 299.2M68 299.1L70.2 299.5L69.3 299.7M70.2 299.5L69.5 299M72.8 299.1L75 299.3L74.1 299.6M75 299.3L74.2 298.9M77.5 299.1L79.7 299.1L78.9 299.4M79.7 299.1L78.9 298.7M82.3 299.1L84.3 298.9L83.6 299.3M84.3 298.9L83.6 298.6M87 299.1L89 298.8L88.3 299.2M89 298.8L88.2 298.6M91.8 299.1L93.6 298.7L93 299.1M93.6 298.7L92.9 298.5M96.5 299.1L98.2 298.6L97.7 299M98.2 298.6L97.5 298.5M101.3 299.1L102.8 298.6L102.4 299M102.8 298.6L102.2 298.5M30 295.1L30 296.9L29.7 296.3M30 296.9L30.3 296.3M34.8 295.1L35.1 296.9L34.7 296.3M35.1 296.9L35.3 296.2M39.5 295.1L40.3 296.8L39.7 296.3M40.3 296.8L40.3 296.1M44.3 295.1L45.4 296.7L44.7 296.3M45.4 296.7L45.3 296M49 295.1L50.5 296.6L49.7 296.3M50.5 296.6L50.2 295.8M53.8 295.1L55.6 296.4L54.7 296.2M55.6 296.4L55.2 295.7M58.5 295.1L60.6 296.2L59.7 296.1M60.6 296.2L60.1 295.4M63.3 295.1L65.6 295.9L64.7 296M65.6 295.9L64.9 295.2M68 295.1L70.5 295.6L69.5 295.8M70.5 295.6L69.7 295M72.8 295.1L75.3 295.3L74.3 295.6M75.3 295.3L74.4 294.8M77.5 295.1L79.9 295L79.1 295.4M79.9 295L79.1 294.7M82.3 295.1L84.6 294.8L83.8 295.3M84.6 294.8L83.7 294.5M87 295.1L89.1 294.7L88.5 295.1M89.1 294.7L88.3 294.5M91.8 295.1L93.7 294.5L93.1 295M93.7 294.5L92.9 294.4M96.5 295.1L98.3 294.5L97.7 295M98.3 294.5L97.6 294.4M101.3 295.1L102.8 294.5L102.4 294.9M102.8 294.5L102.2 294.4M106 295.1L107.4 294.5L107 294.9M107.4 294.5L106.8 294.4M30 291.1L30 293.3L29.7 292.5M30 293.3L30.3 292.5M34.8 291.1L35.2 293.2L34.7 292.5M35.2 293.2L35.4 292.4M39.5 291.1L40.4 293.2L39.7 292.6M40.4 293.2L40.4 292.3M44.3 291.1L45.5 293.1L44.8 292.6M45.5 293.1L45.4 292.2M49 291.1L50.7 292.9L49.8 292.6M50.7 292.9L50.4 292M53.8 291.1L55.9 292.7L54.9 292.5M55.9 292.7L55.4 291.8M58.5 291.1L61 292.4L59.9 292.4M61 292.4L60.3 291.6M63.3 291.1L66 292.1L64.9 292.2M66 292.1L65.2 291.3M68 291.1L70.9 291.7L69.8 291.9M70.9 291.7L70 291M72.8 291.1L75.6 291.3L74.6 291.7M75.6 291.3L74.7 290.7M77.5 291.1L80.3 290.9L79.3 291.4M80.3 290.9L79.3 290.5M82.3 291.1L84.8 290.7L84 291.2M84.8 290.7L83.8 290.4M87 291.1L89.3 290.5L88.6 291.1M89.3 290.5L88.4 290.3M91.8 291.1L93.8 290.4L93.2 290.9M93.8 290.4L93 290.3M96.5 291.1L98.3 290.3L97.8 290.9M98.3 290.3L97.6 290.3M101.3 291.1L102.8 290.3L102.4 290.8M102.8 290.3L102.2 290.3M106 291.1L107.4 290.3L107 290.8M107.4 290.3L106.8 290.4M30 287.1L30 289.6L29.6 288.7M30 289.6L30.4 288.7M34.8 287.1L35.2 289.6L34.6 288.8M35.2 289.6L35.5 288.7M39.5 287.1L40.4 289.6L39.7 288.9M40.4 289.6L40.5 288.6M44.3 287.1L45.7 289.5L44.8 288.9M45.7 289.5L45.6 288.4M49 287.1L51 289.4L49.9 288.9M51 289.4L50.6 288.2M53.8 287.1L56.2 289.1L55 288.8M56.2 289.1L55.7 288M77.5 287.1L80.7 286.7L79.6 287.4M80.7 286.7L79.5 286.3M82.3 287.1L85.1 286.4L84.2 287.1M85.1 286.4L84 286.2M87 287.1L89.5 286.2L88.7 286.9M89.5 286.2L88.5 286.1M91.8 287.1L93.9 286.1L93.3 286.8M93.9 286.1L93 286.1M96.5 287.1L98.3 286.1L97.8 286.7M98.3 286.1L97.5 286.2M101.3 287.1L102.8 286.1L102.4 286.7M102.8 286.1L102.1 286.2M106 287.1L107.4 286.2L107 286.7M107.4 286.2L106.8 286.3M30 283.1L30 286L29.5 285M30 286L30.5 285M34.8 283.1L35.2 286L34.6 285.1M35.2 286L35.5 284.9M39.5 283.1L40.5 286L39.7 285.1M40.5 286L40.6 284.8M87 283.1L89.6 281.9L88.9 282.7M89.6 281.9L88.5 281.9M91.8 283.1L93.9 281.8L93.4 282.6M93.9 281.8L93 281.9M96.5 283.1L98.3 281.9L97.9 282.6M98.3 281.9L97.5 282M101.3 283.1L102.8 282L102.4 282.6M102.8 282L102.1 282.1M106 283.1L107.3 282L107 282.6M107.3 282L106.7 282.2M87 279.1L89.6 277.4L89 278.4M89.6 277.4L88.5 277.6M91.8 279.1L93.8 277.5L93.4 278.4M93.8 277.5L92.9 277.7M96.5 279.1L98.2 277.6L97.8 278.4M98.2 277.6L97.4 277.9M101.3 279.1L102.6 277.7L102.4 278.4M102.6 277.7L101.9 278M106 279.1L107.2 277.9L107 278.5M107.2 277.9L106.6 278.1M91.8 275.1L93.6 273.1L93.3 274.1M93.6 273.1L92.6 273.5M96.5 275.1L98 273.3L97.7 274.2M98 273.3L97.2 273.7M101.3 275.1L102.4 273.5L102.3 274.3M102.4 273.5L101.8 273.9M106 275.1L107 273.7L106.9 274.4M107 273.7L106.4 274.1M91.8 271.1L93.2 268.7L93.1 269.8M93.2 268.7L92.3 269.3M96.5 271.1L97.6 269.1L97.6 270M97.6 269.1L96.9 269.6M101.3 271.1L102.1 269.4L102.1 270.1M102.1 269.4L101.6 269.9M106 271.1L106.7 269.6L106.7 270.3M106.7 269.6L106.3 270M91.8 267.1L92.6 264.4L92.7 265.5M92.6 264.4L91.8 265.2M96.5 267.1L97.1 264.9L97.3 265.8M97.1 264.9L96.6 265.6M101.3 267.1L101.8 265.3L101.9 266M101.8 265.3L101.3 265.8M106 267.1L106.5 265.6L106.6 266.2M106.5 265.6L106.1 266M91.8 263.1L91.8 260.3L92.2 261.3M91.8 260.3L91.3 261.3M96.5 263.1L96.6 260.9L96.9 261.7M96.6 260.9L96.2 261.7M101.3 263.1L101.4 261.3L101.7 261.9M101.4 261.3L101.1 261.9M106 263.1L106.2 261.6L106.4 262.1M106.2 261.6L105.9 262.1M91.8 259.1L91.1 256.5L91.7 257.3M91.1 256.5L90.9 257.6M96.5 259.1L96.1 257L96.6 257.7M96.1 257L95.9 257.8M101.3 259.1L101 257.3L101.4 257.9M101 257.3L100.8 258M106 259.1L105.9 257.6L106.2 258.1M105.9 257.6L105.7 258.2M91.8 255.2L90.5 252.9L91.3 253.5M90.5 252.9L90.6 253.9M96.5 255.2L95.7 253.2L96.3 253.8M95.7 253.2L95.7 254M101.3 255.2L100.7 253.5L101.2 254M100.7 253.5L100.6 254.2M87 251.2L84.8 249.2L85.9 249.5M84.8 249.2L85.3 250.2M91.8 251.2L90.2 249.3L91 249.7M90.2 249.3L90.5 250.2M96.5 251.2L95.4 249.5L96 249.9M95.4 249.5L95.5 250.3M101.3 251.2L100.4 249.7L101 250.1M100.4 249.7L100.5 250.4M82.3 247.2L79.4 245.9L80.6 245.9M79.4 245.9L80.2 246.8M87 247.2L84.8 245.8L85.8 245.9M84.8 245.8L85.3 246.6M91.8 247.2L90.1 245.8L90.9 246M90.1 245.8L90.4 246.5M96.5 247.2L95.2 245.8L95.9 246.1M95.2 245.8L95.5 246.5M101.3 247.2L100.3 245.9L100.8 246.2M100.3 245.9L100.4 246.5M30 243.2L30 246.1L29.5 245.1M30 246.1L30.5 245.1M34.8 243.2L34.3 246.1L34 245M34.3 246.1L34.9 245.1M39.5 243.2L38.6 246.1L38.5 244.9M38.6 246.1L39.4 245.2M44.3 243.2L42.9 246L42.9 244.8M42.9 246L43.8 245.2M77.5 243.2L74.5 242.7L75.6 242.4M74.5 242.7L75.5 243.4M82.3 243.2L79.7 242.4L80.7 242.3M79.7 242.4L80.5 243.1M87 243.2L84.9 242.2L85.8 242.2M84.9 242.2L85.5 242.9M91.8 243.2L90.1 242.1L90.8 242.2M90.1 242.1L90.5 242.8M96.5 243.2L95.2 242.1L95.8 242.3M95.2 242.1L95.5 242.7M30 239.2L30 241.8L29.6 240.9M30 241.8L30.4 240.9M34.8 239.2L34.4 241.8L34.1 240.8M34.4 241.8L34.9 240.9M39.5 239.2L38.7 241.7L38.6 240.7M38.7 241.7L39.4 241M44.3 239.2L43 241.6L43.1 240.6M43 241.6L43.8 241M49 239.2L47.3 241.5L47.6 240.4M47.3 241.5L48.3 240.9M53.8 239.2L51.7 241.2L52.1 240.2M51.7 241.2L52.7 240.8M58.5 239.2L56 240.9L56.6 239.9M56 240.9L57.2 240.7M63.3 239.2L60.5 240.4L61.3 239.6M60.5 240.4L61.7 240.4M68 239.2L65.1 239.9L66 239.2M65.1 239.9L66.3 240.1M72.8 239.2L70 239.5L70.9 238.9M70 239.5L71 239.8M77.5 239.2L74.9 239L75.9 238.7M74.9 239L75.8 239.5M82.3 239.2L80 238.7L80.9 238.5M80 238.7L80.7 239.3M87 239.2L85.1 238.5L85.9 238.5M85.1 238.5L85.6 239.1M91.8 239.2L90.1 238.4L90.8 238.4M90.1 238.4L90.6 239M96.5 239.2L95.2 238.4L95.8 238.4M95.2 238.4L95.5 238.9M30 235.2L30 237.5L29.6 236.7M30 237.5L30.4 236.7M34.8 235.2L34.4 237.5L34.2 236.6M34.4 237.5L34.9 236.7M39.5 235.2L38.8 237.4L38.7 236.5M38.8 237.4L39.4 236.7M44.3 235.2L43.2 237.3L43.2 236.4M43.2 237.3L43.9 236.7M49 235.2L47.6 237.1L47.8 236.2M47.6 237.1L48.4 236.7M53.8 235.2L52 236.9L52.3 236M52 236.9L52.9 236.6M58.5 235.2L56.5 236.6L56.9 235.8M56.5 236.6L57.4 236.5M63.3 235.2L61 236.3L61.6 235.5M61 236.3L62 236.3M68 235.2L65.7 235.9L66.4 235.3M65.7 235.9L66.6 236M72.8 235.2L70.4 235.6L71.2 235.1M70.4 235.6L71.3 235.8M77.5 235.2L75.3 235.2L76.1 234.9M75.3 235.2L76.1 235.6M82.3 235.2L80.3 235L81 234.7M80.3 235L80.9 235.4M87 235.2L85.3 234.8L85.9 234.6M85.3 234.8L85.8 235.2M91.8 235.2L90.2 234.7L90.9 234.6M90.2 234.7L90.7 235.1M30 231.2L30 233.2L29.7 232.5M30 233.2L30.3 232.5M34.8 231.2L34.4 233.2L34.2 232.4M34.4 233.2L34.9 232.5M39.5 231.2L38.9 233.1L38.8 232.3M38.9 233.1L39.4 232.6M44.3 231.2L43.3 233L43.4 232.2M43.3 233L43.9 232.5M49 231.2L47.8 232.9L47.9 232.1M47.8 232.9L48.5 232.5M53.8 231.2L52.3 232.7L52.5 231.9M52.3 232.7L53 232.4M58.5 231.2L56.8 232.5L57.2 231.7M56.8 232.5L57.6 232.3M63.3 231.2L61.4 232.2L61.9 231.5M61.4 232.2L62.2 232.1M68 231.2L66.1 231.9L66.6 231.3M66.1 231.9L66.9 232M72.8 231.2L70.8 231.6L71.4 231.2M70.8 231.6L71.6 231.8M77.5 231.2L75.6 231.4L76.3 231M75.6 231.4L76.3 231.6M82.3 231.2L80.5 231.1L81.1 230.9M80.5 231.1L81.1 231.4M87 231.2L85.4 231L86 230.8M85.4 231L86 231.3M30 227.2L30 229L29.7 228.3M30 229L30.3 228.3M34.8 227.2L34.5 228.9L34.3 228.3M34.5 228.9L34.8 228.4M39.5 227.2L39 228.9L38.9 228.2M39 228.9L39.4 228.4M44.3 227.2L43.4 228.8L43.5 228.1M43.4 228.8L44 228.4M49 227.2L48 228.7L48.1 228M48 228.7L48.6 228.3M53.8 227.2L52.5 228.5L52.7 227.9M52.5 228.5L53.1 228.3M58.5 227.2L57.1 228.3L57.4 227.7M57.1 228.3L57.7 228.2M63.3 227.2L61.7 228.1L62.1 227.5M61.7 228.1L62.4 228M68 227.2L66.4 227.9L66.8 227.4M66.4 227.9L67 227.9M72.8 227.2L71.1 227.7L71.6 227.2M71.1 227.7L71.8 227.8M77.5 227.2L75.9 227.4L76.4 227.1M75.9 227.4L76.5 227.6M82.3 227.2L80.7 227.3L81.3 227M80.7 227.3L81.3 227.5M30 223.2L30 224.7L29.8 224.2M30 224.7L30.2 224.2M34.8 223.2L34.5 224.7L34.4 224.2M34.5 224.7L34.8 224.2M39.5 223.2L39 224.7L39 224.1M39 224.7L39.4 224.2M44.3 223.2L43.6 224.6L43.6 224M43.6 224.6L44 224.2M49 223.2L48.1 224.5L48.2 223.9M48.1 224.5L48.6 224.2M53.8 223.2L52.7 224.4L52.9 223.8M52.7 224.4L53.2 224.1M58.5 223.2L57.3 224.2L57.6 223.7M57.3 224.2L57.9 224.1M63.3 223.2L61.9 224L62.3 223.5M61.9 224L62.5 224M68 223.2L66.6 223.9L67 223.4M66.6 223.9L67.2 223.9" fill="none" stroke="#000" stroke-opacity="0.85" stroke-width="0.45" stroke-linecap="round"/>
<path d="M58.5 287.1L61.5 288.7L60.2 288.6M61.5 288.7L60.7 287.7M63.3 287.1L66.6 288.3L65.2 288.4M66.6 288.3L65.6 287.3M68 287.1L71.5 287.7L70.2 288M71.5 287.7L70.4 286.9M72.8 287.1L76.2 287.2L75 287.7M76.2 287.2L75 286.6M44.3 283.1L45.8 286L44.8 285.2M45.8 286L45.7 284.7M49 283.1L51.2 285.9L50 285.2M51.2 285.9L50.9 284.5M53.8 283.1L56.6 285.6L55.2 285.2M56.6 285.6L56 284.3M58.5 283.1L62 285.2L60.5 285M62 285.2L61.1 283.9M63.3 283.1L67.3 284.5L65.7 284.7M67.3 284.5L66.1 283.4M68 283.1L72.3 283.7L70.7 284.2M72.3 283.7L70.9 282.8M72.8 283.1L76.9 283L75.4 283.7M76.9 283L75.4 282.4M77.5 283.1L81.2 282.4L80 283.2M81.2 282.4L79.8 282.1M82.3 283.1L85.4 282L84.5 282.9M85.4 282L84.1 281.9M30 279.1L30 282.4L29.5 281.3M30 282.4L30.5 281.3M34.8 279.1L35.2 282.4L34.5 281.3M35.2 282.4L35.6 281.2M39.5 279.1L40.5 282.5L39.6 281.4M40.5 282.5L40.7 281.1M44.3 279.1L45.8 282.5L44.7 281.6M45.8 282.5L45.8 281.1M49 279.1L51.3 282.5L50 281.7M51.3 282.5L51 280.9M53.8 279.1L57 282.3L55.3 281.7M57 282.3L56.4 280.7M58.5 279.1L62.7 281.9L60.8 281.6M62.7 281.9L61.7 280.2M63.3 279.1L68.4 281L66.3 281.1M68.4 281L66.9 279.5M68 279.1L73.5 279.8L71.5 280.4M73.5 279.8L71.7 278.6M72.8 279.1L77.9 278.6L76.2 279.6M77.9 278.6L76 277.9M77.5 279.1L81.8 277.8L80.5 278.9M81.8 277.8L80.1 277.6M82.3 279.1L85.6 277.5L84.7 278.6M85.6 277.5L84.2 277.5M30 275.1L30 278.8L29.4 277.5M30 278.8L30.6 277.5M34.8 275.1L35.2 278.8L34.4 277.6M35.2 278.8L35.6 277.5M39.5 275.1L40.4 278.9L39.5 277.7M40.4 278.9L40.7 277.5M44.3 275.1L45.7 279.1L44.6 277.9M45.7 279.1L45.8 277.5M49 275.1L51.3 279.2L49.8 278.2M51.3 279.2L51.1 277.4M53.8 275.1L57.2 279.3L55.3 278.4M57.2 279.3L56.7 277.3M58.5 275.1L63.6 279L61.2 278.5M63.6 279L62.4 276.9M63.3 275.1L70.1 277.9L67.2 278M70.1 277.9L68.1 275.8M68 275.1L75.6 275.7L72.8 276.7M75.6 275.7L73 274.3M72.8 275.1L79.3 273.7L77.3 275.2M79.3 273.7L76.8 273.1M77.5 275.1L82.4 272.8L81 274.4M82.4 272.8L80.3 272.8M82.3 275.1L85.7 272.6L84.9 274.1M85.7 272.6L84.1 273M87 275.1L89.5 272.8L89 274M89.5 272.8L88.3 273.2M30 271.1L30 275.1L29.4 273.7M30 275.1L30.6 273.7M34.8 271.1L35.1 275.2L34.3 273.8M35.1 275.2L35.6 273.7M39.5 271.1L40.2 275.3L39.3 274M40.2 275.3L40.6 273.7M44.3 271.1L45.4 275.6L44.3 274.2M45.4 275.6L45.7 273.9M49 271.1L50.9 276.1L49.4 274.6M50.9 276.1L51 274M53.8 271.1L56.9 276.6L54.9 275.2M56.9 276.6L56.7 274.2M77.5 271.1L82.5 267L81.4 269.2M82.5 267L80.1 267.6M82.3 271.1L85.3 267.5L84.8 269.3M85.3 267.5L83.7 268.3M87 271.1L89 268.2L88.8 269.5M89 268.2L87.8 268.9M30 267.1L30 271.3L29.3 269.8M30 271.3L30.7 269.8M34.8 267.1L34.9 271.4L34.2 269.9M34.9 271.4L35.5 269.9M39.5 267.1L39.8 271.6L39 270.1M39.8 271.6L40.4 270M44.3 267.1L44.9 272L43.9 270.4M44.9 272L45.4 270.2M49 267.1L50 272.7L48.8 270.9M50 272.7L50.6 270.6M82.3 267.1L84 262.5L84.2 264.4M84 262.5L82.7 263.8M87 267.1L88.1 263.7L88.3 265M88.1 263.7L87.2 264.7M30 263.1L30 267.4L29.3 265.9M30 267.4L30.7 265.9M34.8 263.1L34.7 267.4L34 265.9M34.7 267.4L35.4 265.9M39.5 263.1L39.5 267.7L38.7 266.1M39.5 267.7L40.2 266.1M44.3 263.1L44.2 268.1L43.4 266.4M44.2 268.1L45 266.4M49 263.1L48.8 268.9L48 266.9M48.8 268.9L49.8 266.9M82.3 263.1L82 258.2L82.9 259.9M82 258.2L81.3 260M87 263.1L86.9 259.5L87.5 260.8M86.9 259.5L86.4 260.8M30 259.1L30 263.3L29.3 261.8M30 263.3L30.7 261.8M34.8 259.1L34.6 263.4L34 261.9M34.6 263.4L35.3 261.9M39.5 259.1L39.1 263.6L38.5 261.9M39.1 263.6L39.9 262.1M44.3 259.1L43.5 263.9L43 262.1M43.5 263.9L44.5 262.4M49 259.1L47.7 264.5L47.3 262.4M47.7 264.5L49 262.9M53.8 259.1L51.4 265.5L51.2 262.9M51.4 265.5L53.2 263.7M77.5 259.1L73.4 253.6L75.7 254.9M73.4 253.6L74 256.2M82.3 259.1L80.2 254.9L81.6 256.1M80.2 254.9L80.2 256.7M87 259.1L85.8 255.9L86.8 256.8M85.8 255.9L85.7 257.2M30 255.2L30 259.1L29.4 257.7M30 259.1L30.6 257.7M34.8 255.2L34.4 259.1L33.9 257.7M34.4 259.1L35.2 257.8M39.5 255.2L38.8 259.3L38.4 257.7M38.8 259.3L39.7 257.9M44.3 255.2L43.1 259.5L42.8 257.8M43.1 259.5L44.2 258.2M49 255.2L47.1 259.8L47 257.9M47.1 259.8L48.5 258.5M53.8 255.2L50.6 260.1L50.9 257.9M50.6 260.1L52.5 258.9M58.5 255.2L53.3 260.1L54.3 257.6M53.3 260.1L55.9 259.2M72.8 255.2L65.4 252.8L68.4 252.4M65.4 252.8L67.6 254.8M77.5 255.2L72.8 251.9L75 252.3M72.8 251.9L73.9 253.8M82.3 255.2L79.3 252.1L80.8 252.7M79.3 252.1L79.9 253.6M87 255.2L85.1 252.5L86.2 253.1M85.1 252.5L85.4 253.7M30 251.2L30 254.8L29.4 253.5M30 254.8L30.6 253.5M34.8 251.2L34.4 254.8L33.9 253.5M34.4 254.8L35.1 253.6M39.5 251.2L38.7 254.9L38.4 253.4M38.7 254.9L39.5 253.7M44.3 251.2L42.8 255L42.7 253.4M42.8 255L43.9 253.9M49 251.2L46.8 255.1L47 253.3M46.8 255.1L48.2 254M53.8 251.2L50.6 255L51.1 253.1M50.6 255L52.3 254.2M58.5 251.2L54 254.6L55.1 252.7M54 254.6L56.2 254.1M63.3 251.2L57.5 253.5L59.2 251.8M57.5 253.5L59.9 253.6M68 251.2L61.8 251.9L63.9 250.6M61.8 251.9L64.1 252.6M72.8 251.2L67.2 250.3L69.3 249.7M67.2 250.3L69 251.5M77.5 251.2L73.2 249.4L75 249.3M73.2 249.4L74.5 250.7M82.3 251.2L79.2 249.1L80.6 249.4M79.2 249.1L79.9 250.3M30 247.2L30 250.5L29.5 249.3M30 250.5L30.5 249.3M34.8 247.2L34.3 250.5L33.9 249.2M34.3 250.5L35 249.4M39.5 247.2L38.6 250.5L38.4 249.2M38.6 250.5L39.4 249.5M44.3 247.2L42.8 250.5L42.8 249.1M42.8 250.5L43.8 249.5M49 247.2L46.9 250.4L47.1 248.9M46.9 250.4L48.2 249.6M53.8 247.2L50.9 250.2L51.4 248.7M50.9 250.2L52.4 249.6M58.5 247.2L54.8 249.7L55.7 248.2M54.8 249.7L56.5 249.4M63.3 247.2L58.9 248.9L60.2 247.6M58.9 248.9L60.7 249M68 247.2L63.4 247.9L64.9 246.9M63.4 247.9L65.2 248.4M72.8 247.2L68.5 246.9L70 246.3M68.5 246.9L69.9 247.7M77.5 247.2L73.9 246.3L75.3 246M73.9 246.3L75 247.2M49 243.2L47.1 245.9L47.3 244.6M47.1 245.9L48.2 245.2M53.8 243.2L51.3 245.6L51.8 244.4M51.3 245.6L52.5 245.2M58.5 243.2L55.5 245.2L56.2 244M55.5 245.2L56.9 245M63.3 243.2L59.8 244.6L60.8 243.6M59.8 244.6L61.3 244.7M68 243.2L64.4 243.9L65.6 243.1M64.4 243.9L65.8 244.2M72.8 243.2L69.3 243.3L70.5 242.7M69.3 243.3L70.6 243.8" fill="none" stroke="#000" stroke-opacity="1" stroke-width="0.85" stroke-linecap="round"/>
</g></g>
<rect x="184.5" y="201" width="8" height="126" fill="url(#jet)"/>
<g font-size="6.8" fill="#3c3c3c">
<text x="195.1" y="330.2">0</text>
<text x="195.1" y="305">5</text>
<text x="195.1" y="279.8">10</text>
<text x="195.1" y="254.6">15</text>
<text x="195.1" y="229.4">20</text>
<text x="195.1" y="204.2">25</text>
<text transform="translate(212 264) rotate(-90)" text-anchor="middle">Velocity (m/s)</text>
</g>
<g font-size="7.3" fill="#3c3c3c">
<text x="30" y="338.1" text-anchor="middle">0</text>
<text x="27" y="330.2" text-anchor="end">0</text>
<text x="61.7" y="338.1" text-anchor="middle">20</text>
<text x="27" y="303.6" text-anchor="end">20</text>
<text x="93.4" y="338.1" text-anchor="middle">40</text>
<text x="27" y="277" text-anchor="end">40</text>
<text x="125" y="338.1" text-anchor="middle">60</text>
<text x="27" y="250.4" text-anchor="end">60</text>
<text x="156.7" y="338.1" text-anchor="middle">80</text>
<text x="27" y="223.8" text-anchor="end">80</text>
</g>
<g font-size="8.5" fill="#3c3c3c" text-anchor="middle">
<text x="105.6" y="349.3">X position [m]</text>
<text transform="translate(15.5 263.5) rotate(-90)">Y position [m]</text>
</g>
<g clip-path="url(#cpd)"><g>
<rect x="350" y="196" width="157" height="136" fill="#0000a2"/>
<path d="M369.1 273.4L369.6 273.4L370 273.4L370.3 273.4L370.7 273.4L371.1 273.4L371.5 273.4L371.9 273.3L372.3 273.3L372.7 273.2L373.1 273.2L373.4 273.1L373.8 273L374.2 272.9L374.6 272.8L375 272.7L375.4 272.6L375.8 272.5L376.2 272.3L376.6 272.1L376.9 272L377.3 271.8L377.7 271.6L377.9 271.4L378.2 271.2L378.5 271.1L378.7 270.9L378.9 270.7L379.1 270.6L379.3 270.4L379.5 270.2L379.9 269.9L380.1 269.7L380.2 269.5L380.4 269.3L380.6 269.1L380.8 268.8L381 268.6L381.2 268.2L381.4 267.9L381.6 267.6L381.7 267.2L381.9 266.9L382 266.6L382.1 266.2L382.2 265.9L382.3 265.6L382.3 265.2L382.4 264.9L382.4 264.6L382.4 264.1L382.4 263.6L382.4 263.3L382.3 262.9L382.3 262.6L382.2 262.3L382.1 261.9L382 261.6L381.9 261.3L381.8 260.9L381.6 260.6L381.4 260.3L381.2 259.9L381 259.6L380.8 259.3L380.6 259.1L380.4 258.8L380.2 258.6L380.1 258.4L379.9 258.2L379.7 258L379.5 257.8L379.3 257.7L379.1 257.5L378.8 257.3L378.5 257.1L378.3 256.9L378 256.8L377.8 256.6L377.5 256.4L377.2 256.3L376.9 256.1L376.6 256L376.2 255.8L375.8 255.6L375.4 255.5L375 255.4L374.7 255.3L374.4 255.2L374.1 255.1L373.6 255L373.3 254.9L372.9 254.8L372.5 254.8L372.1 254.7L371.7 254.7L371.3 254.7L370.9 254.6L370.5 254.6L370.1 254.6L369.8 254.6L369.4 254.6L369 254.6L368.6 254.6L368.2 254.7L367.8 254.7L367.4 254.7L367 254.8L366.7 254.8L366.3 254.9L365.9 255L365.5 255L365.1 255.1L364.7 255.2L364.3 255.3L363.9 255.4L363.5 255.5L363.2 255.6L362.8 255.7L362.4 255.8L362 255.9L361.6 256L361.2 256.1L360.8 256.2L360.5 256.3L360.2 256.3L359.9 256.4L359.5 256.5L359.1 256.6L358.7 256.7L358.3 256.8L357.9 256.9L357.5 257L357.1 257L356.7 257.1L356.4 257.1L356 257.1L355.6 257.2L355.2 257.2L355 257.4L355 257.9L355 258.4L355 258.9L355 259.4L355 259.9L355 260.4L355 260.9L355 261.4L355 261.9L355 262.4L355 262.9L355 263.4L355 263.9L355 264.4L355 264.9L355 265.4L355 265.9L355 266.4L355 266.9L355 267.4L355 267.9L355 268.4L355 268.9L355 269.4L355 269.9L355 270.4L355.2 270.7L355.6 270.7L356 270.8L356.4 270.8L356.7 270.8L357.1 270.9L357.5 271L357.9 271L358.3 271.1L358.7 271.2L359.1 271.3L359.5 271.4L359.9 271.5L360.2 271.6L360.4 271.6L360.8 271.7L361.2 271.9L361.6 272L362 272.1L362.4 272.2L362.8 272.3L363.2 272.4L363.5 272.5L363.9 272.6L364.3 272.7L364.7 272.8L365.1 272.9L365.5 272.9L365.9 273L366.2 273.1L366.7 273.1L367 273.2L367.4 273.3L367.8 273.3L368.2 273.3L368.6 273.4L369 273.4Z" fill="#1484fa" fill-rule="evenodd"/>
<path d="M371.3 268.7L371.7 268.8L372.1 268.8L372.5 268.8L372.9 268.8L373.3 268.8L373.6 268.8L374 268.7L374.4 268.6L374.8 268.5L375.2 268.3L375.6 268.2L376 267.9L376.3 267.7L376.5 267.6L376.7 267.4L376.9 267.2L377.1 267L377.3 266.8L377.5 266.6L377.7 266.3L377.9 266L378.1 265.6L378.2 265.2L378.3 264.9L378.4 264.6L378.4 264.2L378.4 263.8L378.4 263.4L378.3 263.1L378.2 262.8L378.1 262.4L377.9 262.1L377.7 261.8L377.5 261.5L377.4 261.3L377.1 261L376.9 260.8L376.7 260.6L376.6 260.5L376.2 260.3L376 260.1L375.7 259.9L375.4 259.8L375 259.6L374.6 259.5L374.2 259.4L373.8 259.3L373.4 259.2L373.1 259.2L372.7 259.2L372.3 259.2L371.9 259.2L371.5 259.2L371.1 259.3L370.7 259.4L370.3 259.5L370 259.6L369.7 259.8L369.4 259.9L369 260.1L368.8 260.2L368.5 260.4L368.3 260.6L368.1 260.8L367.9 260.9L367.6 261.2L367.4 261.4L367.2 261.7L367.1 261.9L366.9 262.3L366.8 262.6L366.7 262.9L366.6 263.3L366.5 263.6L366.5 263.9L366.5 264.4L366.6 264.7L366.6 265.1L366.7 265.4L366.9 265.7L367 266L367.2 266.2L367.4 266.6L367.6 266.8L367.8 267L368 267.2L368.2 267.4L368.5 267.6L368.7 267.7L369 267.9L369.3 268.1L369.6 268.2L370 268.4L370.3 268.5L370.7 268.6L371.1 268.7Z" fill="#14faeb" fill-rule="evenodd"/>
<path d="M371.8 267.1L372.3 267.2L372.7 267.2L373.1 267.2L373.4 267.2L373.8 267.2L374.2 267.1L374.6 266.9L375 266.8L375.3 266.6L375.6 266.4L375.8 266.2L376 266.1L376.2 265.8L376.4 265.6L376.6 265.2L376.7 264.9L376.8 264.6L376.8 264.2L376.8 263.8L376.8 263.4L376.7 263.1L376.6 262.8L376.4 262.4L376.2 262.2L376 262L375.8 261.8L375.6 261.6L375.3 261.4L375 261.3L374.7 261.1L374.2 260.9L373.8 260.8L373.4 260.8L373.1 260.8L372.7 260.8L372.3 260.8L371.9 260.9L371.5 261L371.1 261.2L370.7 261.4L370.4 261.6L370.2 261.8L370 262L369.8 262.3L369.6 262.5L369.4 262.9L369.2 263.3L369.2 263.6L369.1 263.9L369.2 264.4L369.2 264.7L369.4 265.1L369.5 265.4L369.8 265.7L370 266L370.1 266.2L370.3 266.3L370.7 266.6L370.9 266.7L371.3 266.9L371.7 267Z" fill="#ebfa14" fill-rule="evenodd"/>
<path d="M372.8 266.1L373.3 266.1L373.6 266.1L374 266L374.4 265.9L374.8 265.6L375.1 265.4L375.4 265.1L375.5 264.7L375.7 264.4L375.7 264.1L375.7 263.6L375.5 263.3L375.4 263L375.2 262.8L375 262.5L374.6 262.3L374.3 262.1L373.8 262L373.4 261.9L373.1 261.9L372.7 261.9L372.3 262L371.9 262.2L371.6 262.4L371.4 262.6L371.1 262.9L370.9 263.2L370.8 263.6L370.7 263.9L370.8 264.4L370.9 264.7L371.1 265.1L371.3 265.3L371.5 265.5L371.8 265.7L372.1 265.9L372.5 266L372.8 266.1Z" fill="#ff5500" fill-rule="evenodd"/>
<path d="M355 327l0 0M357.3 327l.02 0M359.7 327l.04 0M362 327l.05 0M364.3 327l.07 0M366.6 327l.09 0M369 327l.1 0M371.3 327l.12 0M373.6 327l.13 0M376 327l.15 0M378.3 327l.16 0M380.6 327l.17 0M382.9 327l.18 0M385.3 327l.18 0M387.6 327l.19 0M389.9 327l.19 0M392.3 327l.2 0M394.6 327l.2 0M396.9 327l.2 0M399.2 327l.2 0M401.6 327l.2 0M403.9 327l.2 0M406.2 327l.2 0M408.6 327l.2 0M410.9 327l.2 0M413.2 327l.19 0M415.5 327l.19 0M417.9 327l.19 0M420.2 327l.18 0M422.5 327l.18 0M424.9 327l.17 0M427.2 327l.17 0M429.5 327l.16 0M431.8 327l.16 0M434.2 327l.15 0M436.5 327l.15 0M438.8 327l.14 0M441.2 327l.14 0M443.5 327l.13 0M445.8 327l.13 0M448.1 327l.12 0M450.5 327l.12 0M452.8 327l.12 0M455.1 327l.11 0M457.4 327l.11 0M459.8 327l.1 0M462.1 327l.1 0M464.4 327l.1 0M466.8 327l.09 0M469.1 327l.09 0M471.4 327l.09 0M473.7 327l.08 0M476.1 327l.08 0M478.4 327l.08 0M480.7 327l.07 0M483.1 327l.07 0M485.4 327l.07 0M487.7 327l.07 0M490 327l.06 0M492.4 327l.06 0M494.7 327l.06 0M497 327l.06 0M499.4 327l.06 0M501.7 327l.05 0M355 325l0 .02M357.3 325l.02 .02M359.7 325l.04 .02M362 325l.05 .02M364.3 325l.07 .01M366.6 325l.09 .01M369 325l.1 .01M371.3 325l.12 .01M373.6 325l.13 .01M376 325l.15 .01M378.3 325l.16 .01M380.6 325l.17 .01M382.9 325l.18 .01M385.3 325l.18 .01M387.6 325l.19 0M389.9 325l.2 0M392.3 325l.2 0M394.6 325l.2 0M396.9 325l.2 0M399.2 325l.2 0M401.6 325l.2 0M403.9 325l.2 0M406.2 325l.2 0M408.6 325l.2 0M410.9 325l.2 0M413.2 325l.19 0M415.5 325l.19 0M417.9 325l.19 0M420.2 325l.18 0M422.5 325l.18 0M424.9 325l.17 0M427.2 325l.17 0M429.5 325l.16 0M431.8 325l.16 0M434.2 325l.15 0M436.5 325l.15 0M438.8 325l.14 0M441.2 325l.14 0M443.5 325l.13 0M445.8 325l.13 0M448.1 325l.12 0M450.5 325l.12 0M452.8 325l.12 0M455.1 325l.11 0M457.4 325l.11 0M459.8 325l.1 0M462.1 325l.1 0M464.4 325l.1 0M466.8 325l.09 0M469.1 325l.09 0M471.4 325l.09 0M473.7 325l.08 0M476.1 325l.08 0M478.4 325l.08 0M480.7 325l.07 0M483.1 325l.07 0M485.4 325l.07 0M487.7 325l.07 0M490 325l.06 0M492.4 325l.06 0M494.7 325l.06 0M497 325l.06 0M499.4 325l.06 0M501.7 325l.05 0M355 323l0 .03M357.3 323l.02 .03M359.7 323l.04 .03M362 323l.06 .03M364.3 323l.07 .03M366.6 323l.09 .03M369 323l.11 .03M371.3 323l.12 .02M373.6 323l.14 .02M376 323l.15 .02M378.3 323l.16 .02M380.6 323l.17 .02M382.9 323l.18 .01M385.3 323l.19 .01M387.6 323l.19 .01M389.9 323l.2 .01M392.3 323l.2 .01M394.6 323l.2 0M396.9 323l.21 0M399.2 323l.21 0M401.6 323l.21 0M403.9 323l.2 0M406.2 323l.2 0M408.6 323l.2 0M410.9 323l.2 -.01M413.2 323l.19 -.01M415.5 323l.19 -.01M417.9 323l.19 -.01M420.2 323l.18 -.01M422.5 323l.18 -.01M424.9 323l.17 -.01M427.2 323l.17 -.01M429.5 323l.16 -.01M431.8 323l.16 -.01M434.2 323l.15 -.01M436.5 323l.15 -.01M438.8 323l.14 -.01M441.2 323l.14 -.01M443.5 323l.13 -.01M445.8 323l.13 -.01M448.1 323l.12 -.01M450.5 323l.12 -.01M452.8 323l.12 -.01M455.1 323l.11 -.01M457.4 323l.11 -.01M459.8 323l.1 -.01M462.1 323l.1 -.01M464.4 323l.1 -.01M466.8 323l.09 -.01M469.1 323l.09 -.01M471.4 323l.09 -.01M473.7 323l.08 -.01M476.1 323l.08 -.01M478.4 323l.08 0M480.7 323l.07 0M483.1 323l.07 0M485.4 323l.07 0M487.7 323l.07 0M490 323l.06 0M492.4 323l.06 0M494.7 323l.06 0M497 323l.06 0M499.4 323l.06 0M501.7 323l.05 0M355 321l0 .05M357.3 321l.02 .05M359.7 321l.04 .05M362 321l.06 .05M364.3 321l.08 .04M366.6 321l.09 .04M369 321l.11 .04M371.3 321l.12 .04M373.6 321l.14 .03M376 321l.15 .03M378.3 321l.16 .03M380.6 321l.17 .02M382.9 321l.18 .02M385.3 321l.19 .02M387.6 321l.2 .01M389.9 321l.2 .01M392.3 321l.2 .01M394.6 321l.21 .01M396.9 321l.21 0M399.2 321l.21 0M401.6 321l.21 0M403.9 321l.21 0M406.2 321l.2 -.01M408.6 321l.2 -.01M410.9 321l.2 -.01M413.2 321l.19 -.01M415.5 321l.19 -.01M417.9 321l.19 -.01M420.2 321l.18 -.01M422.5 321l.18 -.01M424.9 321l.17 -.01M427.2 321l.17 -.01M429.5 321l.16 -.01M431.8 321l.16 -.01M434.2 321l.15 -.01M436.5 321l.15 -.01M438.8 321l.14 -.01M441.2 321l.14 -.01M443.5 321l.13 -.01M445.8 321l.13 -.01M448.1 321l.12 -.01M450.5 321l.12 -.01M452.8 321l.11 -.01M455.1 321l.11 -.01M457.4 321l.11 -.01M459.8 321l.1 -.01M462.1 321l.1 -.01M464.4 321l.1 -.01M466.8 321l.09 -.01M469.1 321l.09 -.01M471.4 321l.09 -.01M473.7 321l.08 -.01M476.1 321l.08 -.01M478.4 321l.08 -.01M480.7 321l.07 -.01M483.1 321l.07 -.01M485.4 321l.07 -.01M487.7 321l.07 -.01M490 321l.06 -.01M492.4 321l.06 -.01M494.7 321l.06 -.01M497 321l.06 -.01M499.4 321l.06 -.01M501.7 321l.05 0M355 319l0 .06M357.3 319l.02 .06M359.7 319l.04 .06M362 319l.06 .06M364.3 319l.08 .06M366.6 319l.1 .06M369 319l.11 .05M371.3 319l.13 .05M373.6 319l.14 .05M376 319l.16 .04M378.3 319l.17 .04M380.6 319l.18 .03M382.9 319l.19 .03M385.3 319l.19 .02M387.6 319l.2 .02M389.9 319l.2 .01M392.3 319l.21 .01M394.6 319l.21 .01M396.9 319l.21 0M399.2 319l.21 0M401.6 319l.21 0M403.9 319l.21 -.01M406.2 319l.21 -.01M408.6 319l.2 -.01M410.9 319l.2 -.01M413.2 319l.2 -.01M415.5 319l.19 -.01M417.9 319l.19 -.01M420.2 319l.18 -.02M422.5 319l.18 -.02M424.9 319l.17 -.02M427.2 319l.17 -.02M429.5 319l.16 -.02M431.8 319l.16 -.02M434.2 319l.15 -.02M436.5 319l.15 -.02M438.8 319l.14 -.02M441.2 319l.14 -.02M443.5 319l.13 -.02M445.8 319l.13 -.02M448.1 319l.12 -.02M450.5 319l.12 -.01M452.8 319l.11 -.01M455.1 319l.11 -.01M457.4 319l.11 -.01M459.8 319l.1 -.01M462.1 319l.1 -.01M464.4 319l.09 -.01M466.8 319l.09 -.01M469.1 319l.09 -.01M471.4 319l.08 -.01M473.7 319l.08 -.01M476.1 319l.08 -.01M478.4 319l.08 -.01M480.7 319l.07 -.01M483.1 319l.07 -.01M485.4 319l.07 -.01M487.7 319l.07 -.01M490 319l.06 -.01M492.4 319l.06 -.01M494.7 319l.06 -.01M497 319l.06 -.01M499.4 319l.05 -.01M501.7 319l.05 -.01M355 317l0 .08M357.3 317l.02 .08M359.7 317l.04 .08M362 317l.06 .08M364.3 317l.08 .08M366.6 317l.1 .07M369 317l.12 .07M371.3 317l.13 .06M373.6 317l.15 .06M376 317l.16 .05M378.3 317l.17 .05M380.6 317l.18 .04M382.9 317l.19 .03M385.3 317l.2 .03M387.6 317l.21 .02M389.9 317l.21 .02M392.3 317l.21 .01M394.6 317l.21 .01M396.9 317l.22 0M399.2 317l.22 0M401.6 317l.21 0M403.9 317l.21 -.01M406.2 317l.21 -.01M408.6 317l.21 -.01M410.9 317l.2 -.01M413.2 317l.2 -.02M415.5 317l.19 -.02M417.9 317l.19 -.02M420.2 317l.18 -.02M422.5 317l.18 -.02M424.9 317l.17 -.02M427.2 317l.17 -.02M429.5 317l.16 -.02M431.8 317l.16 -.02M434.2 317l.15 -.02M436.5 317l.15 -.02M438.8 317l.14 -.02M441.2 317l.14 -.02M443.5 317l.13 -.02M445.8 317l.13 -.02M448.1 317l.12 -.02M450.5 317l.12 -.02M452.8 317l.11 -.02M455.1 317l.11 -.02M457.4 317l.11 -.02M459.8 317l.1 -.02M462.1 317l.1 -.02M464.4 317l.09 -.02M466.8 317l.09 -.01M469.1 317l.09 -.01M471.4 317l.08 -.01M473.7 317l.08 -.01M476.1 317l.08 -.01M478.4 317l.08 -.01M480.7 317l.07 -.01M483.1 317l.07 -.01M485.4 317l.07 -.01M487.7 317l.07 -.01M490 317l.06 -.01M492.4 317l.06 -.01M494.7 317l.06 -.01M497 317l.06 -.01M499.4 317l.05 -.01M501.7 317l.05 -.01M355 315l0 .1M357.3 315l.02 .1M359.7 315l.04 .1M362 315l.06 .1M364.3 315l.09 .09M366.6 315l.1 .09M369 315l.12 .08M371.3 315l.14 .08M373.6 315l.15 .07M376 315l.17 .06M378.3 315l.18 .06M380.6 315l.19 .05M382.9 315l.2 .04M385.3 315l.21 .03M387.6 315l.21 .03M389.9 315l.22 .02M392.3 315l.22 .01M394.6 315l.22 .01M396.9 315l.22 0M399.2 315l.22 0M401.6 315l.22 -.01M403.9 315l.22 -.01M406.2 315l.21 -.01M408.6 315l.21 -.02M410.9 315l.2 -.02M413.2 315l.2 -.02M415.5 315l.19 -.02M417.9 315l.19 -.02M420.2 315l.18 -.02M422.5 315l.18 -.03M424.9 315l.17 -.03M427.2 315l.17 -.03M429.5 315l.16 -.03M431.8 315l.16 -.03M434.2 315l.15 -.03M436.5 315l.15 -.03M438.8 315l.14 -.03M441.2 315l.14 -.02M443.5 315l.13 -.02M445.8 315l.13 -.02M448.1 315l.12 -.02M450.5 315l.12 -.02M452.8 315l.11 -.02M455.1 315l.11 -.02M457.4 315l.1 -.02M459.8 315l.1 -.02M462.1 315l.1 -.02M464.4 315l.09 -.02M466.8 315l.09 -.02M469.1 315l.09 -.02M471.4 315l.08 -.02M473.7 315l.08 -.02M476.1 315l.08 -.02M478.4 315l.07 -.01M480.7 315l.07 -.01M483.1 315l.07 -.01M485.4 315l.07 -.01M487.7 315l.06 -.01M490 315l.06 -.01M492.4 315l.06 -.01M494.7 315l.06 -.01M497 315l.06 -.01M499.4 315l.05 -.01M501.7 315l.05 -.01M355 313l0 .12M357.3 313l.02 .12M359.7 313l.05 .12M362 313l.07 .11M364.3 313l.09 .11M366.6 313l.11 .1M369 313l.13 .1M371.3 313l.15 .09M373.6 313l.16 .08M376 313l.18 .07M378.3 313l.19 .07M380.6 313l.2 .06M382.9 313l.21 .05M385.3 313l.22 .04M387.6 313l.22 .03M389.9 313l.22 .02M392.3 313l.23 .02M394.6 313l.23 .01M396.9 313l.23 0M399.2 313l.23 0M401.6 313l.22 -.01M403.9 313l.22 -.01M406.2 313l.22 -.02M408.6 313l.21 -.02M410.9 313l.21 -.02M413.2 313l.2 -.02M415.5 313l.2 -.03M417.9 313l.19 -.03M420.2 313l.19 -.03M422.5 313l.18 -.03M424.9 313l.17 -.03M427.2 313l.17 -.03M429.5 313l.16 -.03M431.8 313l.16 -.03M434.2 313l.15 -.03M436.5 313l.15 -.03M438.8 313l.14 -.03M441.2 313l.14 -.03M443.5 313l.13 -.03M445.8 313l.13 -.03M448.1 313l.12 -.03M450.5 313l.12 -.03M452.8 313l.11 -.03M455.1 313l.11 -.02M457.4 313l.1 -.02M459.8 313l.1 -.02M462.1 313l.1 -.02M464.4 313l.09 -.02M466.8 313l.09 -.02M469.1 313l.09 -.02M471.4 313l.08 -.02M473.7 313l.08 -.02M476.1 313l.08 -.02M478.4 313l.07 -.02M480.7 313l.07 -.02M483.1 313l.07 -.02M485.4 313l.07 -.01M487.7 313l.06 -.01M490 313l.06 -.01M492.4 313l.06 -.01M494.7 313l.06 -.01M497 313l.06 -.01M499.4 313l.05 -.01M501.7 313l.05 -.01M355 311l0 .14M357.3 311l.03 .14M359.7 311l.05 .14M362 311l.07 .13M364.3 311l.1 .13M366.6 311l.12 .12M369 311l.14 .11M371.3 311l.16 .11M373.6 311l.17 .1M376 311l.19 .09M378.3 311l.2 .08M380.6 311l.21 .07M382.9 311l.22 .06M385.3 311l.23 .04M387.6 311l.23 .04M389.9 311l.23 .03M392.3 311l.24 .02M394.6 311l.24 .01M396.9 311l.23 0M399.2 311l.23 0M401.6 311l.23 -.01M403.9 311l.23 -.02M406.2 311l.22 -.02M408.6 311l.22 -.02M410.9 311l.21 -.03M413.2 311l.2 -.03M415.5 311l.2 -.03M417.9 311l.19 -.03M420.2 311l.19 -.03M422.5 311l.18 -.04M424.9 311l.17 -.04M427.2 311l.17 -.04M429.5 311l.16 -.04M431.8 311l.16 -.04M434.2 311l.15 -.04M436.5 311l.15 -.03M438.8 311l.14 -.03M441.2 311l.13 -.03M443.5 311l.13 -.03M445.8 311l.12 -.03M448.1 311l.12 -.03M450.5 311l.12 -.03M452.8 311l.11 -.03M455.1 311l.11 -.03M457.4 311l.1 -.03M459.8 311l.1 -.03M462.1 311l.1 -.03M464.4 311l.09 -.02M466.8 311l.09 -.02M469.1 311l.09 -.02M471.4 311l.08 -.02M473.7 311l.08 -.02M476.1 311l.08 -.02M478.4 311l.07 -.02M480.7 311l.07 -.02M483.1 311l.07 -.02M485.4 311l.07 -.02M487.7 311l.06 -.02M490 311l.06 -.02M492.4 311l.06 -.01M494.7 311l.06 -.01M497 311l.05 -.01M499.4 311l.05 -.01M501.7 311l.05 -.01M355 309l0 .16M357.3 309l.03 .16M359.7 309l.05 .16M362 309l.08 .15M364.3 309l.1 .15M366.6 309l.13 .14M369 309l.15 .13M371.3 309l.17 .12M373.6 309l.19 .11M376 309l.2 .1M378.3 309l.21 .09M380.6 309l.22 .07M382.9 309l.23 .06M385.3 309l.24 .05M387.6 309l.24 .04M389.9 309l.25 .03M392.3 309l.25 .02M394.6 309l.25 .01M396.9 309l.24 0M399.2 309l.24 -.01M401.6 309l.24 -.01M403.9 309l.23 -.02M406.2 309l.23 -.02M408.6 309l.22 -.03M410.9 309l.21 -.03M413.2 309l.21 -.03M415.5 309l.2 -.04M417.9 309l.19 -.04M420.2 309l.19 -.04M422.5 309l.18 -.04M424.9 309l.17 -.04M427.2 309l.17 -.04M429.5 309l.16 -.04M431.8 309l.16 -.04M434.2 309l.15 -.04M436.5 309l.14 -.04M438.8 309l.14 -.04M441.2 309l.13 -.04M443.5 309l.13 -.04M445.8 309l.12 -.04M448.1 309l.12 -.03M450.5 309l.11 -.03M452.8 309l.11 -.03M455.1 309l.11 -.03M457.4 309l.1 -.03M459.8 309l.1 -.03M462.1 309l.09 -.03M464.4 309l.09 -.03M466.8 309l.09 -.03M469.1 309l.08 -.03M471.4 309l.08 -.02M473.7 309l.08 -.02M476.1 309l.07 -.02M478.4 309l.07 -.02M480.7 309l.07 -.02M483.1 309l.07 -.02M485.4 309l.06 -.02M487.7 309l.06 -.02M490 309l.06 -.02M492.4 309l.06 -.02M494.7 309l.06 -.02M497 309l.05 -.02M499.4 309l.05 -.01M501.7 309l.05 -.01M355 307l0 .19M357.3 307l.03 .19M359.7 307l.06 .18M362 307l.09 .18M364.3 307l.11 .17M366.6 307l.14 .16M369 307l.16 .15M371.3 307l.18 .14M373.6 307l.2 .12M376 307l.22 .11M378.3 307l.23 .1M380.6 307l.24 .08M382.9 307l.25 .07M385.3 307l.25 .05M387.6 307l.26 .04M389.9 307l.26 .03M392.3 307l.26 .02M394.6 307l.26 .01M396.9 307l.25 0M399.2 307l.25 -.01M401.6 307l.24 -.02M403.9 307l.24 -.02M406.2 307l.23 -.03M408.6 307l.22 -.03M410.9 307l.22 -.04M413.2 307l.21 -.04M415.5 307l.2 -.04M417.9 307l.2 -.04M420.2 307l.19 -.05M422.5 307l.18 -.05M424.9 307l.18 -.05M427.2 307l.17 -.05M429.5 307l.16 -.05M431.8 307l.16 -.05M434.2 307l.15 -.05M436.5 307l.14 -.04M438.8 307l.14 -.04M441.2 307l.13 -.04M443.5 307l.13 -.04M445.8 307l.12 -.04M448.1 307l.12 -.04M450.5 307l.11 -.04M452.8 307l.11 -.04M455.1 307l.1 -.04M457.4 307l.1 -.03M459.8 307l.1 -.03M462.1 307l.09 -.03M464.4 307l.09 -.03M466.8 307l.09 -.03M469.1 307l.08 -.03M471.4 307l.08 -.03M473.7 307l.08 -.03M476.1 307l.07 -.02M478.4 307l.07 -.02M480.7 307l.07 -.02M483.1 307l.07 -.02M485.4 307l.06 -.02M487.7 307l.06 -.02M490 307l.06 -.02M492.4 307l.06 -.02M494.7 307l.06 -.02M497 307l.05 -.02M499.4 307l.05 -.02M501.7 307l.05 -.02M355 305l0 .21M357.3 305l.03 .21M359.7 305l.06 .21M362 305l.1 .2M364.3 305l.12 .19M366.6 305l.15 .18M369 305l.18 .17M371.3 305l.2 .15M373.6 305l.22 .14M376 305l.23 .12M378.3 305l.25 .11M380.6 305l.26 .09M382.9 305l.27 .07M385.3 305l.27 .06M387.6 305l.27 .04M389.9 305l.27 .03M392.3 305l.27 .02M394.6 305l.27 0M396.9 305l.26 -.01M399.2 305l.26 -.02M401.6 305l.25 -.02M403.9 305l.24 -.03M406.2 305l.24 -.04M408.6 305l.23 -.04M410.9 305l.22 -.04M413.2 305l.21 -.05M415.5 305l.21 -.05M417.9 305l.2 -.05M420.2 305l.19 -.05M422.5 305l.18 -.05M424.9 305l.18 -.05M427.2 305l.17 -.05M429.5 305l.16 -.05M431.8 305l.15 -.05M434.2 305l.15 -.05M436.5 305l.14 -.05M438.8 305l.14 -.05M441.2 305l.13 -.05M443.5 305l.13 -.05M445.8 305l.12 -.04M448.1 305l.12 -.04M450.5 305l.11 -.04M452.8 305l.11 -.04M455.1 305l.1 -.04M457.4 305l.1 -.04M459.8 305l.09 -.04M462.1 305l.09 -.03M464.4 305l.09 -.03M466.8 305l.08 -.03M469.1 305l.08 -.03M471.4 305l.08 -.03M473.7 305l.08 -.03M476.1 305l.07 -.03M478.4 305l.07 -.03M480.7 305l.07 -.02M483.1 305l.06 -.02M485.4 305l.06 -.02M487.7 305l.06 -.02M490 305l.06 -.02M492.4 305l.06 -.02M494.7 305l.05 -.02M497 305l.05 -.02M499.4 305l.05 -.02M501.7 305l.05 -.02M355 303.1l0 .24M357.3 303.1l.04 .24M359.7 303.1l.07 .24M362 303.1l.11 .23M364.3 303.1l.14 .22M366.6 303.1l.17 .21M369 303.1l.19 .19M371.3 303.1l.22 .17M373.6 303.1l.24 .15M376 303.1l.26 .14M378.3 303.1l.27 .12M380.6 303.1l.28 .1M382.9 303.1l.29 .08M385.3 303.1l.29 .06M387.6 303.1l.29 .04M389.9 303.1l.29 .03M392.3 303.1l.29 .01M394.6 303.1l.28 0M396.9 303.1l.28 -.01M399.2 303.1l.27 -.02M401.6 303.1l.26 -.03M403.9 303.1l.25 -.04M406.2 303.1l.24 -.04M408.6 303.1l.23 -.05M410.9 303.1l.23 -.05M413.2 303.1l.22 -.05M415.5 303.1l.21 -.06M417.9 303.1l.2 -.06M420.2 303.1l.19 -.06M422.5 303.1l.18 -.06M424.9 303.1l.18 -.06M427.2 303.1l.17 -.06M429.5 303.1l.16 -.06M431.8 303.1l.15 -.06M434.2 303.1l.15 -.06M436.5 303.1l.14 -.05M438.8 303.1l.14 -.05M441.2 303.1l.13 -.05M443.5 303.1l.12 -.05M445.8 303.1l.12 -.05M448.1 303.1l.11 -.05M450.5 303.1l.11 -.05M452.8 303.1l.11 -.04M455.1 303.1l.1 -.04M457.4 303.1l.1 -.04M459.8 303.1l.09 -.04M462.1 303.1l.09 -.04M464.4 303.1l.09 -.04M466.8 303.1l.08 -.03M469.1 303.1l.08 -.03M471.4 303.1l.08 -.03M473.7 303.1l.07 -.03M476.1 303.1l.07 -.03M478.4 303.1l.07 -.03M480.7 303.1l.07 -.03M483.1 303.1l.06 -.03M485.4 303.1l.06 -.02M487.7 303.1l.06 -.02M490 303.1l.06 -.02M492.4 303.1l.06 -.02M494.7 303.1l.05 -.02M497 303.1l.05 -.02M499.4 303.1l.05 -.02M501.7 303.1l.05 -.02M355 301.1l0 .28M357.3 301.1l.04 .27M359.7 301.1l.08 .27M362 301.1l.12 .26M364.3 301.1l.15 .25M366.6 301.1l.19 .23M369 301.1l.21 .21M371.3 301.1l.24 .19M373.6 301.1l.26 .17M376 301.1l.28 .15M378.3 301.1l.29 .13M380.6 301.1l.3 .1M382.9 301.1l.31 .08M385.3 301.1l.31 .06M387.6 301.1l.31 .04M389.9 301.1l.31 .02M392.3 301.1l.3 .01M394.6 301.1l.3 -.01M396.9 301.1l.29 -.02M399.2 301.1l.28 -.03M401.6 301.1l.27 -.04M403.9 301.1l.26 -.04M406.2 301.1l.25 -.05M408.6 301.1l.24 -.06M410.9 301.1l.23 -.06M413.2 301.1l.22 -.06M415.5 301.1l.21 -.06M417.9 301.1l.2 -.07M420.2 301.1l.19 -.07M422.5 301.1l.18 -.07M424.9 301.1l.17 -.07M427.2 301.1l.17 -.06M429.5 301.1l.16 -.06M431.8 301.1l.15 -.06M434.2 301.1l.15 -.06M436.5 301.1l.14 -.06M438.8 301.1l.13 -.06M441.2 301.1l.13 -.06M443.5 301.1l.12 -.05M445.8 301.1l.12 -.05M448.1 301.1l.11 -.05M450.5 301.1l.11 -.05M452.8 301.1l.1 -.05M455.1 301.1l.1 -.05M457.4 301.1l.1 -.04M459.8 301.1l.09 -.04M462.1 301.1l.09 -.04M464.4 301.1l.08 -.04M466.8 301.1l.08 -.04M469.1 301.1l.08 -.04M471.4 301.1l.08 -.03M473.7 301.1l.07 -.03M476.1 301.1l.07 -.03M478.4 301.1l.07 -.03M480.7 301.1l.06 -.03M483.1 301.1l.06 -.03M485.4 301.1l.06 -.03M487.7 301.1l.06 -.03M490 301.1l.06 -.02M492.4 301.1l.05 -.02M494.7 301.1l.05 -.02M497 301.1l.05 -.02M499.4 301.1l.05 -.02M501.7 301.1l.05 -.02M355 299.1l0 .31M357.3 299.1l.04 .31M359.7 299.1l.09 .3M362 299.1l.13 .29M364.3 299.1l.17 .28M366.6 299.1l.21 .26M369 299.1l.24 .24M371.3 299.1l.27 .21M373.6 299.1l.29 .19M376 299.1l.31 .16M378.3 299.1l.32 .14M380.6 299.1l.33 .11M382.9 299.1l.34 .08M385.3 299.1l.34 .06M387.6 299.1l.33 .04M389.9 299.1l.33 .02M392.3 299.1l.32 0M394.6 299.1l.31 -.01M396.9 299.1l.3 -.03M399.2 299.1l.29 -.04M401.6 299.1l.28 -.05M403.9 299.1l.27 -.05M406.2 299.1l.26 -.06M408.6 299.1l.24 -.07M410.9 299.1l.23 -.07M413.2 299.1l.22 -.07M415.5 299.1l.21 -.07M417.9 299.1l.2 -.07M420.2 299.1l.19 -.07M422.5 299.1l.18 -.07M424.9 299.1l.17 -.07M427.2 299.1l.17 -.07M429.5 299.1l.16 -.07M431.8 299.1l.15 -.07M434.2 299.1l.14 -.07M436.5 299.1l.14 -.07M438.8 299.1l.13 -.06M441.2 299.1l.13 -.06M443.5 299.1l.12 -.06M445.8 299.1l.11 -.06M448.1 299.1l.11 -.06M450.5 299.1l.11 -.05M452.8 299.1l.1 -.05M455.1 299.1l.1 -.05M457.4 299.1l.09 -.05M459.8 299.1l.09 -.05M462.1 299.1l.09 -.04M464.4 299.1l.08 -.04M466.8 299.1l.08 -.04M469.1 299.1l.08 -.04M471.4 299.1l.07 -.04M473.7 299.1l.07 -.04M476.1 299.1l.07 -.03M478.4 299.1l.07 -.03M480.7 299.1l.06 -.03M483.1 299.1l.06 -.03M485.4 299.1l.06 -.03M487.7 299.1l.06 -.03M490 299.1l.05 -.03M492.4 299.1l.05 -.03M494.7 299.1l.05 -.02M497 299.1l.05 -.02M499.4 299.1l.05 -.02M501.7 299.1l.05 -.02M355 297.1l0 .35M357.3 297.1l.05 .35M359.7 297.1l.1 .34M362 297.1l.15 .33M364.3 297.1l.19 .31M366.6 297.1l.23 .29M369 297.1l.27 .26M371.3 297.1l.3 .24M373.6 297.1l.32 .21M376 297.1l.34 .18M378.3 297.1l.36 .15M380.6 297.1l.36 .11M382.9 297.1l.37 .09M385.3 297.1l.36 .06M387.6 297.1l.36 .04M389.9 297.1l.35 .01M392.3 297.1l.34 -.01M394.6 297.1l.33 -.02M396.9 297.1l.32 -.04M399.2 297.1l.3 -.05M401.6 297.1l.29 -.06M403.9 297.1l.28 -.07M406.2 297.1l.26 -.07M408.6 297.1l.25 -.08M410.9 297.1l.24 -.08M413.2 297.1l.22 -.08M415.5 297.1l.21 -.08M417.9 297.1l.2 -.08M420.2 297.1l.19 -.08M422.5 297.1l.18 -.08M424.9 297.1l.17 -.08M427.2 297.1l.16 -.08M429.5 297.1l.16 -.08M431.8 297.1l.15 -.07M434.2 297.1l.14 -.07M436.5 297.1l.13 -.07M438.8 297.1l.13 -.07M441.2 297.1l.12 -.07M443.5 297.1l.12 -.06M445.8 297.1l.11 -.06M448.1 297.1l.11 -.06M450.5 297.1l.1 -.06M452.8 297.1l.1 -.05M455.1 297.1l.09 -.05M457.4 297.1l.09 -.05M459.8 297.1l.09 -.05M462.1 297.1l.08 -.05M464.4 297.1l.08 -.04M466.8 297.1l.08 -.04M469.1 297.1l.07 -.04M471.4 297.1l.07 -.04M473.7 297.1l.07 -.04M476.1 297.1l.07 -.04M478.4 297.1l.06 -.03M480.7 297.1l.06 -.03M483.1 297.1l.06 -.03M485.4 297.1l.06 -.03M487.7 297.1l.06 -.03M490 297.1l.05 -.03M492.4 297.1l.05 -.03M494.7 297.1l.05 -.03M497 297.1l.05 -.02M499.4 297.1l.05 -.02M501.7 297.1l.05 -.02M355 295.1l0 .4M357.3 295.1l.06 .4M359.7 295.1l.11 .39M362 295.1l.17 .37M364.3 295.1l.22 .35M366.6 295.1l.26 .32M369 295.1l.3 .29M371.3 295.1l.34 .26M373.6 295.1l.36 .23M376 295.1l.38 .19M378.3 295.1l.39 .15M380.6 295.1l.4 .12M382.9 295.1l.4 .09M385.3 295.1l.4 .06M387.6 295.1l.39 .03M389.9 295.1l.38 0M392.3 295.1l.36 -.02M394.6 295.1l.35 -.03M396.9 295.1l.33 -.05M399.2 295.1l.32 -.06M401.6 295.1l.3 -.07M403.9 295.1l.28 -.08M406.2 295.1l.27 -.08M408.6 295.1l.25 -.09M410.9 295.1l.24 -.09M413.2 295.1l.23 -.09M415.5 295.1l.21 -.09M417.9 295.1l.2 -.09M420.2 295.1l.19 -.09M422.5 295.1l.18 -.09M424.9 295.1l.17 -.09M427.2 295.1l.16 -.09M429.5 295.1l.15 -.08M431.8 295.1l.15 -.08M434.2 295.1l.14 -.08M436.5 295.1l.13 -.08M438.8 295.1l.13 -.07M441.2 295.1l.12 -.07M443.5 295.1l.11 -.07M445.8 295.1l.11 -.07M448.1 295.1l.1 -.06M450.5 295.1l.1 -.06M452.8 295.1l.1 -.06M455.1 295.1l.09 -.06M457.4 295.1l.09 -.05M459.8 295.1l.08 -.05M462.1 295.1l.08 -.05M464.4 295.1l.08 -.05M466.8 295.1l.08 -.05M469.1 295.1l.07 -.04M471.4 295.1l.07 -.04M473.7 295.1l.07 -.04M476.1 295.1l.06 -.04M478.4 295.1l.06 -.04M480.7 295.1l.06 -.03M483.1 295.1l.06 -.03M485.4 295.1l.06 -.03M487.7 295.1l.05 -.03M490 295.1l.05 -.03M492.4 295.1l.05 -.03M494.7 295.1l.05 -.03M497 295.1l.05 -.03M499.4 295.1l.05 -.02M501.7 295.1l.04 -.02M355 293.1l0 .45M357.3 293.1l.07 .45M359.7 293.1l.13 .44M362 293.1l.19 .42M364.3 293.1l.25 .39M366.6 293.1l.3 .36M369 293.1l.34 .33M371.3 293.1l.38 .29M373.6 293.1l.41 .25M376 293.1l.43 .2M378.3 293.1l.44 .16M380.6 293.1l.44 .12M382.9 293.1l.44 .08M385.3 293.1l.43 .05M387.6 293.1l.42 .02M389.9 293.1l.4 -.01M392.3 293.1l.39 -.03M394.6 293.1l.37 -.05M396.9 293.1l.35 -.06M399.2 293.1l.33 -.08M401.6 293.1l.31 -.09M403.9 293.1l.29 -.09M406.2 293.1l.27 -.1M408.6 293.1l.26 -.1M410.9 293.1l.24 -.1M413.2 293.1l.23 -.1M415.5 293.1l.21 -.1M417.9 293.1l.2 -.1M420.2 293.1l.19 -.1M422.5 293.1l.18 -.1M424.9 293.1l.17 -.1M427.2 293.1l.16 -.09M429.5 293.1l.15 -.09M431.8 293.1l.14 -.09M434.2 293.1l.14 -.08M436.5 293.1l.13 -.08M438.8 293.1l.12 -.08M441.2 293.1l.12 -.08M443.5 293.1l.11 -.07M445.8 293.1l.11 -.07M448.1 293.1l.1 -.07M450.5 293.1l.1 -.06M452.8 293.1l.09 -.06M455.1 293.1l.09 -.06M457.4 293.1l.09 -.06M459.8 293.1l.08 -.05M462.1 293.1l.08 -.05M464.4 293.1l.08 -.05M466.8 293.1l.07 -.05M469.1 293.1l.07 -.05M471.4 293.1l.07 -.04M473.7 293.1l.06 -.04M476.1 293.1l.06 -.04M478.4 293.1l.06 -.04M480.7 293.1l.06 -.04M483.1 293.1l.06 -.04M485.4 293.1l.05 -.03M487.7 293.1l.05 -.03M490 293.1l.05 -.03M492.4 293.1l.05 -.03M494.7 293.1l.05 -.03M497 293.1l.05 -.03M499.4 293.1l.04 -.03M501.7 293.1l.04 -.03M355 291.1l0 .51M357.3 291.1l.08 .51M359.7 291.1l.15 .5M362 291.1l.22 .47M364.3 291.1l.28 .44M366.6 291.1l.34 .41M369 291.1l.39 .36M371.3 291.1l.43 .32M373.6 291.1l.46 .27M376 291.1l.48 .22M378.3 291.1l.49 .17M380.6 291.1l.49 .12M382.9 291.1l.49 .08M385.3 291.1l.47 .04M387.6 291.1l.45 0M389.9 291.1l.43 -.03M392.3 291.1l.41 -.05M394.6 291.1l.39 -.07M396.9 291.1l.36 -.08M399.2 291.1l.34 -.09M401.6 291.1l.32 -.1M403.9 291.1l.3 -.11M406.2 291.1l.28 -.11M408.6 291.1l.26 -.12M410.9 291.1l.24 -.12M413.2 291.1l.23 -.12M415.5 291.1l.21 -.11M417.9 291.1l.2 -.11M420.2 291.1l.19 -.11M422.5 291.1l.17 -.11M424.9 291.1l.16 -.1M427.2 291.1l.16 -.1M429.5 291.1l.15 -.1M431.8 291.1l.14 -.09M434.2 291.1l.13 -.09M436.5 291.1l.13 -.09M438.8 291.1l.12 -.08M441.2 291.1l.11 -.08M443.5 291.1l.11 -.08M445.8 291.1l.1 -.07M448.1 291.1l.1 -.07M450.5 291.1l.09 -.07M452.8 291.1l.09 -.07M455.1 291.1l.09 -.06M457.4 291.1l.08 -.06M459.8 291.1l.08 -.06M462.1 291.1l.08 -.05M464.4 291.1l.07 -.05M466.8 291.1l.07 -.05M469.1 291.1l.07 -.05M471.4 291.1l.07 -.05M473.7 291.1l.06 -.04M476.1 291.1l.06 -.04M478.4 291.1l.06 -.04M480.7 291.1l.06 -.04M483.1 291.1l.05 -.04M485.4 291.1l.05 -.04M487.7 291.1l.05 -.03M490 291.1l.05 -.03M492.4 291.1l.05 -.03M494.7 291.1l.05 -.03M497 291.1l.04 -.03M499.4 291.1l.04 -.03M501.7 291.1l.04 -.03M355 289.1l0 .58M357.3 289.1l.09 .58M359.7 289.1l.17 .56M362 289.1l.25 .54M364.3 289.1l.33 .5M366.6 289.1l.39 .46M369 289.1l.45 .4M371.3 289.1l.49 .35M373.6 289.1l.53 .29M376 289.1l.55 .23M378.3 289.1l.55 .17M380.6 289.1l.55 .11M382.9 289.1l.54 .06M385.3 289.1l.52 .02M387.6 289.1l.49 -.02M389.9 289.1l.47 -.05M392.3 289.1l.44 -.07M394.6 289.1l.41 -.09M396.9 289.1l.38 -.11M399.2 289.1l.35 -.12M401.6 289.1l.33 -.12M403.9 289.1l.3 -.13M406.2 289.1l.28 -.13M408.6 289.1l.26 -.13M410.9 289.1l.24 -.13M413.2 289.1l.22 -.13M415.5 289.1l.21 -.13M417.9 289.1l.2 -.12M420.2 289.1l.18 -.12M422.5 289.1l.17 -.12M424.9 289.1l.16 -.11M427.2 289.1l.15 -.11M429.5 289.1l.14 -.1M431.8 289.1l.13 -.1M434.2 289.1l.13 -.1M436.5 289.1l.12 -.09M438.8 289.1l.11 -.09M441.2 289.1l.11 -.09M443.5 289.1l.1 -.08M445.8 289.1l.1 -.08M448.1 289.1l.09 -.07M450.5 289.1l.09 -.07M452.8 289.1l.09 -.07M455.1 289.1l.08 -.07M457.4 289.1l.08 -.06M459.8 289.1l.08 -.06M462.1 289.1l.07 -.06M464.4 289.1l.07 -.05M466.8 289.1l.07 -.05M469.1 289.1l.07 -.05M471.4 289.1l.06 -.05M473.7 289.1l.06 -.05M476.1 289.1l.06 -.04M478.4 289.1l.06 -.04M480.7 289.1l.05 -.04M483.1 289.1l.05 -.04M485.4 289.1l.05 -.04M487.7 289.1l.05 -.04M490 289.1l.05 -.03M492.4 289.1l.05 -.03M494.7 289.1l.04 -.03M497 289.1l.04 -.03M499.4 289.1l.04 -.03M501.7 289.1l.04 -.03M355 287.1l0 .66M357.3 287.1l.1 .66M359.7 287.1l.2 .64M362 287.1l.29 .61M364.3 287.1l.38 .57M366.6 287.1l.46 .51M369 287.1l.52 .45M371.3 287.1l.57 .38M373.6 287.1l.6 .31M376 287.1l.62 .24M378.3 287.1l.62 .17M380.6 287.1l.61 .1M382.9 287.1l.59 .05M385.3 287.1l.57 0M387.6 287.1l.53 -.04M389.9 287.1l.5 -.07M392.3 287.1l.46 -.1M394.6 287.1l.43 -.12M396.9 287.1l.39 -.13M399.2 287.1l.36 -.14M401.6 287.1l.33 -.15M403.9 287.1l.3 -.15M406.2 287.1l.28 -.15M408.6 287.1l.26 -.15M410.9 287.1l.24 -.15M413.2 287.1l.22 -.14M415.5 287.1l.2 -.14M417.9 287.1l.19 -.13M420.2 287.1l.18 -.13M422.5 287.1l.17 -.13M424.9 287.1l.16 -.12M427.2 287.1l.15 -.12M429.5 287.1l.14 -.11M431.8 287.1l.13 -.11M434.2 287.1l.12 -.1M436.5 287.1l.12 -.1M438.8 287.1l.11 -.09M441.2 287.1l.1 -.09M443.5 287.1l.1 -.09M445.8 287.1l.09 -.08M448.1 287.1l.09 -.08M450.5 287.1l.09 -.07M452.8 287.1l.08 -.07M455.1 287.1l.08 -.07M457.4 287.1l.08 -.07M459.8 287.1l.07 -.06M462.1 287.1l.07 -.06M464.4 287.1l.07 -.06M466.8 287.1l.06 -.05M469.1 287.1l.06 -.05M471.4 287.1l.06 -.05M473.7 287.1l.06 -.05M476.1 287.1l.06 -.05M478.4 287.1l.05 -.04M480.7 287.1l.05 -.04M483.1 287.1l.05 -.04M485.4 287.1l.05 -.04M487.7 287.1l.05 -.04M490 287.1l.05 -.04M492.4 287.1l.04 -.03M494.7 287.1l.04 -.03M497 287.1l.04 -.03M499.4 287.1l.04 -.03M501.7 287.1l.04 -.03M355 285.1l0 .76M357.3 285.1l.12 .75M359.7 285.1l.23 .73M362 285.1l.34 .69M364.3 285.1l.44 .64M366.6 285.1l.53 .58M369 285.1l.6 .5M371.3 285.1l.66 .42M373.6 285.1l.7 .33M376 285.1l.71 .25M378.3 285.1l.71 .16M380.6 285.1l.69 .09M382.9 285.1l.66 .02M385.3 285.1l.62 -.03M387.6 285.1l.58 -.08M389.9 285.1l.53 -.11M392.3 285.1l.49 -.13M394.6 285.1l.44 -.15M396.9 285.1l.4 -.16M399.2 285.1l.37 -.17M401.6 285.1l.33 -.17M403.9 285.1l.31 -.17M406.2 285.1l.28 -.17M408.6 285.1l.26 -.17M410.9 285.1l.23 -.16M413.2 285.1l.22 -.16M415.5 285.1l.2 -.15M417.9 285.1l.18 -.15M420.2 285.1l.17 -.14M422.5 285.1l.16 -.14M424.9 285.1l.15 -.13M427.2 285.1l.14 -.12M429.5 285.1l.13 -.12M431.8 285.1l.12 -.11M434.2 285.1l.12 -.11M436.5 285.1l.11 -.1M438.8 285.1l.1 -.1M441.2 285.1l.1 -.09M443.5 285.1l.09 -.09M445.8 285.1l.09 -.09M448.1 285.1l.09 -.08M450.5 285.1l.08 -.08M452.8 285.1l.08 -.07M455.1 285.1l.08 -.07M457.4 285.1l.07 -.07M459.8 285.1l.07 -.06M462.1 285.1l.07 -.06M464.4 285.1l.06 -.06M466.8 285.1l.06 -.06M469.1 285.1l.06 -.05M471.4 285.1l.06 -.05M473.7 285.1l.06 -.05M476.1 285.1l.05 -.05M478.4 285.1l.05 -.05M480.7 285.1l.05 -.04M483.1 285.1l.05 -.04M485.4 285.1l.05 -.04M487.7 285.1l.05 -.04M490 285.1l.04 -.04M492.4 285.1l.04 -.03M494.7 285.1l.04 -.03M497 285.1l.04 -.03M499.4 285.1l.04 -.03M501.7 285.1l.04 -.03M355 283.1l0 .86M357.3 283.1l.13 .86M359.7 283.1l.27 .83M362 283.1l.39 .79M364.3 283.1l.51 .73M366.6 283.1l.62 .66M369 283.1l.71 .56M371.3 283.1l.77 .46M373.6 283.1l.81 .36M376 283.1l.82 .25M378.3 283.1l.81 .15M380.6 283.1l.78 .06M382.9 283.1l.73 -.02M385.3 283.1l.68 -.07M387.6 283.1l.62 -.12M389.9 283.1l.56 -.15M392.3 283.1l.51 -.17M394.6 283.1l.46 -.19M396.9 283.1l.41 -.2M399.2 283.1l.37 -.2M401.6 283.1l.33 -.2M403.9 283.1l.3 -.2M406.2 283.1l.27 -.19M408.6 283.1l.25 -.19M410.9 283.1l.23 -.18M413.2 283.1l.21 -.17M415.5 283.1l.19 -.17M417.9 283.1l.18 -.16M420.2 283.1l.16 -.15M422.5 283.1l.15 -.14M424.9 283.1l.14 -.14M427.2 283.1l.13 -.13M429.5 283.1l.13 -.13M431.8 283.1l.12 -.12M434.2 283.1l.11 -.11M436.5 283.1l.1 -.11M438.8 283.1l.1 -.1M441.2 283.1l.09 -.1M443.5 283.1l.09 -.09M445.8 283.1l.09 -.09M448.1 283.1l.08 -.09M450.5 283.1l.08 -.08M452.8 283.1l.07 -.08M455.1 283.1l.07 -.07M457.4 283.1l.07 -.07M459.8 283.1l.07 -.07M462.1 283.1l.06 -.06M464.4 283.1l.06 -.06M466.8 283.1l.06 -.06M469.1 283.1l.06 -.06M471.4 283.1l.05 -.05M473.7 283.1l.05 -.05M476.1 283.1l.05 -.05M478.4 283.1l.05 -.05M480.7 283.1l.05 -.04M483.1 283.1l.05 -.04M485.4 283.1l.04 -.04M487.7 283.1l.04 -.04M490 283.1l.04 -.04M492.4 283.1l.04 -.04M494.7 283.1l.04 -.03M497 283.1l.04 -.03M499.4 283.1l.04 -.03M501.7 283.1l.04 -.03M355 281.1l0 .99M357.3 281.1l.15 .98M359.7 281.1l.31 .95M362 281.1l.46 .91M364.3 281.1l.6 .84M366.6 281.1l.73 .75M369 281.1l.83 .64M371.3 281.1l.91 .51M373.6 281.1l.95 .38M376 281.1l.96 .24M378.3 281.1l.93 .12M380.6 281.1l.88 .02M382.9 281.1l.82 -.07M385.3 281.1l.74 -.13M387.6 281.1l.67 -.18M389.9 281.1l.59 -.21M392.3 281.1l.53 -.22M394.6 281.1l.47 -.23M396.9 281.1l.42 -.24M399.2 281.1l.37 -.23M401.6 281.1l.33 -.23M403.9 281.1l.3 -.22M406.2 281.1l.27 -.21M408.6 281.1l.24 -.21M410.9 281.1l.22 -.2M413.2 281.1l.2 -.19M415.5 281.1l.18 -.18M417.9 281.1l.17 -.17M420.2 281.1l.16 -.16M422.5 281.1l.14 -.15M424.9 281.1l.13 -.15M427.2 281.1l.13 -.14M429.5 281.1l.12 -.13M431.8 281.1l.11 -.13M434.2 281.1l.1 -.12M436.5 281.1l.1 -.11M438.8 281.1l.09 -.11M441.2 281.1l.09 -.1M443.5 281.1l.08 -.1M445.8 281.1l.08 -.09M448.1 281.1l.08 -.09M450.5 281.1l.07 -.08M452.8 281.1l.07 -.08M455.1 281.1l.07 -.08M457.4 281.1l.06 -.07M459.8 281.1l.06 -.07M462.1 281.1l.06 -.07M464.4 281.1l.06 -.06M466.8 281.1l.06 -.06M469.1 281.1l.05 -.06M471.4 281.1l.05 -.05M473.7 281.1l.05 -.05M476.1 281.1l.05 -.05M478.4 281.1l.05 -.05M480.7 281.1l.05 -.05M483.1 281.1l.04 -.04M485.4 281.1l.04 -.04M487.7 281.1l.04 -.04M490 281.1l.04 -.04M492.4 281.1l.04 -.04M494.7 281.1l.04 -.04M497 281.1l.04 -.03M499.4 281.1l.04 -.03M501.7 281.1l.03 -.03M355 279.1l0 1.13M357.3 279.1l.18 1.12M359.7 279.1l.35 1.09M362 279.1l.53 1.04M364.3 279.1l.7 .97M366.6 279.1l.85 .86M369 279.1l.99 .73M371.3 279.1l1.08 .57M373.6 279.1l1.13 .4M376 279.1l1.13 .23M378.3 279.1l1.08 .08M380.6 279.1l1 -.05M382.9 279.1l.91 -.14M385.3 279.1l.8 -.21M387.6 279.1l.71 -.25M389.9 279.1l.62 -.27M392.3 279.1l.54 -.28M394.6 279.1l.47 -.28M396.9 279.1l.41 -.28M399.2 279.1l.36 -.27M401.6 279.1l.32 -.26M403.9 279.1l.28 -.25M406.2 279.1l.25 -.24M408.6 279.1l.23 -.23M410.9 279.1l.21 -.21M413.2 279.1l.19 -.2M415.5 279.1l.17 -.19M417.9 279.1l.16 -.18M420.2 279.1l.15 -.17M422.5 279.1l.13 -.16M424.9 279.1l.12 -.15M427.2 279.1l.12 -.15M429.5 279.1l.11 -.14M431.8 279.1l.1 -.13M434.2 279.1l.1 -.12M436.5 279.1l.09 -.12M438.8 279.1l.09 -.11M441.2 279.1l.08 -.11M443.5 279.1l.08 -.1M445.8 279.1l.07 -.1M448.1 279.1l.07 -.09M450.5 279.1l.07 -.09M452.8 279.1l.07 -.08M455.1 279.1l.06 -.08M457.4 279.1l.06 -.07M459.8 279.1l.06 -.07M462.1 279.1l.06 -.07M464.4 279.1l.05 -.06M466.8 279.1l.05 -.06M469.1 279.1l.05 -.06M471.4 279.1l.05 -.06M473.7 279.1l.05 -.05M476.1 279.1l.05 -.05M478.4 279.1l.04 -.05M480.7 279.1l.04 -.05M483.1 279.1l.04 -.05M485.4 279.1l.04 -.04M487.7 279.1l.04 -.04M490 279.1l.04 -.04M492.4 279.1l.04 -.04M494.7 279.1l.04 -.04M497 279.1l.03 -.03M499.4 279.1l.03 -.03M501.7 279.1l.03 -.03M355 277.1l0 1.29M357.3 277.1l.2 1.28M359.7 277.1l.4 1.25M362 277.1l.6 1.2M364.3 277.1l.81 1.12M366.6 277.1l1.01 1M369 277.1l1.18 .84M371.3 277.1l1.31 .64M373.6 277.1l1.36 .42M376 277.1l1.34 .2M378.3 277.1l1.26 0M380.6 277.1l1.14 -.14M382.9 277.1l1 -.24M385.3 277.1l.86 -.31M387.6 277.1l.74 -.34M389.9 277.1l.63 -.35M392.3 277.1l.54 -.35M394.6 277.1l.46 -.34M396.9 277.1l.4 -.33M399.2 277.1l.35 -.31M401.6 277.1l.3 -.3M403.9 277.1l.27 -.28M406.2 277.1l.24 -.26M408.6 277.1l.21 -.25M410.9 277.1l.19 -.23M413.2 277.1l.17 -.22M415.5 277.1l.16 -.2M417.9 277.1l.14 -.19M420.2 277.1l.13 -.18M422.5 277.1l.12 -.17M424.9 277.1l.11 -.16M427.2 277.1l.11 -.15M429.5 277.1l.1 -.14M431.8 277.1l.09 -.14M434.2 277.1l.09 -.13M436.5 277.1l.08 -.12M438.8 277.1l.08 -.12M441.2 277.1l.08 -.11M443.5 277.1l.07 -.1M445.8 277.1l.07 -.1M448.1 277.1l.07 -.09M450.5 277.1l.06 -.09M452.8 277.1l.06 -.08M455.1 277.1l.06 -.08M457.4 277.1l.06 -.08M459.8 277.1l.05 -.07M462.1 277.1l.05 -.07M464.4 277.1l.05 -.07M466.8 277.1l.05 -.06M469.1 277.1l.05 -.06M471.4 277.1l.05 -.06M473.7 277.1l.04 -.06M476.1 277.1l.04 -.05M478.4 277.1l.04 -.05M480.7 277.1l.04 -.05M483.1 277.1l.04 -.05M485.4 277.1l.04 -.04M487.7 277.1l.04 -.04M490 277.1l.04 -.04M492.4 277.1l.04 -.04M494.7 277.1l.03 -.04M497 277.1l.03 -.04M499.4 277.1l.03 -.03M501.7 277.1l.03 -.03M355 275.1l0 1.46M357.3 275.1l.21 1.46M378.3 275.1l1.48 -.11M380.6 275.1l1.29 -.28M382.9 275.1l1.09 -.39M385.3 275.1l.91 -.43M387.6 275.1l.75 -.45M389.9 275.1l.63 -.44M392.3 275.1l.52 -.43M394.6 275.1l.44 -.4M396.9 275.1l.38 -.38M399.2 275.1l.32 -.35M401.6 275.1l.28 -.33M403.9 275.1l.25 -.31M406.2 275.1l.22 -.29M408.6 275.1l.19 -.27M410.9 275.1l.17 -.25M413.2 275.1l.16 -.23M415.5 275.1l.14 -.22M417.9 275.1l.13 -.2M420.2 275.1l.12 -.19M422.5 275.1l.11 -.18M424.9 275.1l.1 -.17M427.2 275.1l.1 -.16M429.5 275.1l.09 -.15M431.8 275.1l.09 -.14M434.2 275.1l.08 -.13M436.5 275.1l.08 -.13M438.8 275.1l.07 -.12M441.2 275.1l.07 -.11M443.5 275.1l.07 -.11M445.8 275.1l.06 -.1M448.1 275.1l.06 -.1M450.5 275.1l.06 -.09M452.8 275.1l.06 -.09M455.1 275.1l.05 -.08M457.4 275.1l.05 -.08M459.8 275.1l.05 -.07M462.1 275.1l.05 -.07M464.4 275.1l.05 -.07M466.8 275.1l.05 -.06M469.1 275.1l.04 -.06M471.4 275.1l.04 -.06M473.7 275.1l.04 -.06M476.1 275.1l.04 -.05M478.4 275.1l.04 -.05M480.7 275.1l.04 -.05M483.1 275.1l.04 -.05M485.4 275.1l.04 -.05M487.7 275.1l.03 -.04M490 275.1l.03 -.04M492.4 275.1l.03 -.04M494.7 275.1l.03 -.04M497 275.1l.03 -.04M499.4 275.1l.03 -.03M501.7 275.1l.03 -.03M382.9 273.1l1.16 -.58M385.3 273.1l.92 -.6M387.6 273.1l.74 -.58M389.9 273.1l.6 -.55M392.3 273.1l.49 -.51M394.6 273.1l.41 -.47M396.9 273.1l.34 -.43M399.2 273.1l.29 -.39M401.6 273.1l.25 -.36M403.9 273.1l.22 -.33M406.2 273.1l.19 -.31M408.6 273.1l.17 -.28M410.9 273.1l.15 -.26M413.2 273.1l.14 -.24M415.5 273.1l.12 -.23M417.9 273.1l.11 -.21M420.2 273.1l.1 -.2M422.5 273.1l.1 -.19M424.9 273.1l.09 -.17M427.2 273.1l.08 -.16M429.5 273.1l.08 -.15M431.8 273.1l.08 -.14M434.2 273.1l.07 -.14M436.5 273.1l.07 -.13M438.8 273.1l.06 -.12M441.2 273.1l.06 -.11M443.5 273.1l.06 -.11M445.8 273.1l.06 -.1M448.1 273.1l.05 -.1M450.5 273.1l.05 -.09M452.8 273.1l.05 -.09M455.1 273.1l.05 -.08M457.4 273.1l.05 -.08M459.8 273.1l.05 -.08M462.1 273.1l.04 -.07M464.4 273.1l.04 -.07M466.8 273.1l.04 -.07M469.1 273.1l.04 -.06M471.4 273.1l.04 -.06M473.7 273.1l.04 -.06M476.1 273.1l.04 -.05M478.4 273.1l.04 -.05M480.7 273.1l.04 -.05M483.1 273.1l.03 -.05M485.4 273.1l.03 -.05M487.7 273.1l.03 -.04M490 273.1l.03 -.04M492.4 273.1l.03 -.04M494.7 273.1l.03 -.04M497 273.1l.03 -.04M499.4 273.1l.03 -.04M501.7 273.1l.03 -.03M382.9 271.1l1.18 -.84M385.3 271.1l.89 -.79M387.6 271.1l.68 -.72M389.9 271.1l.54 -.65M392.3 271.1l.43 -.59M394.6 271.1l.35 -.53M396.9 271.1l.29 -.48M399.2 271.1l.25 -.43M401.6 271.1l.21 -.39M403.9 271.1l.18 -.36M406.2 271.1l.16 -.33M408.6 271.1l.14 -.3M410.9 271.1l.13 -.28M413.2 271.1l.11 -.25M415.5 271.1l.1 -.24M417.9 271.1l.1 -.22M420.2 271.1l.09 -.2M422.5 271.1l.08 -.19M424.9 271.1l.08 -.18M427.2 271.1l.07 -.17M429.5 271.1l.07 -.16M431.8 271.1l.07 -.15M434.2 271.1l.06 -.14M436.5 271.1l.06 -.13M438.8 271.1l.06 -.12M441.2 271.1l.05 -.12M443.5 271.1l.05 -.11M445.8 271.1l.05 -.1M448.1 271.1l.05 -.1M450.5 271.1l.05 -.09M452.8 271.1l.05 -.09M455.1 271.1l.04 -.09M457.4 271.1l.04 -.08M459.8 271.1l.04 -.08M462.1 271.1l.04 -.07M464.4 271.1l.04 -.07M466.8 271.1l.04 -.07M469.1 271.1l.04 -.06M471.4 271.1l.04 -.06M473.7 271.1l.04 -.06M476.1 271.1l.03 -.06M478.4 271.1l.03 -.05M480.7 271.1l.03 -.05M483.1 271.1l.03 -.05M485.4 271.1l.03 -.05M487.7 271.1l.03 -.04M490 271.1l.03 -.04M492.4 271.1l.03 -.04M494.7 271.1l.03 -.04M497 271.1l.03 -.04M499.4 271.1l.03 -.04M501.7 271.1l.03 -.03M385.3 269.1l.77 -1M387.6 269.1l.57 -.87M389.9 269.1l.44 -.75M392.3 269.1l.34 -.66M394.6 269.1l.28 -.58M396.9 269.1l.23 -.52M399.2 269.1l.19 -.46M401.6 269.1l.16 -.41M403.9 269.1l.14 -.37M406.2 269.1l.12 -.34M408.6 269.1l.11 -.31M410.9 269.1l.1 -.29M413.2 269.1l.09 -.26M415.5 269.1l.08 -.24M417.9 269.1l.08 -.23M420.2 269.1l.07 -.21M422.5 269.1l.07 -.19M424.9 269.1l.06 -.18M427.2 269.1l.06 -.17M429.5 269.1l.06 -.16M431.8 269.1l.05 -.15M434.2 269.1l.05 -.14M436.5 269.1l.05 -.13M438.8 269.1l.05 -.13M441.2 269.1l.05 -.12M443.5 269.1l.05 -.11M445.8 269.1l.04 -.11M448.1 269.1l.04 -.1M450.5 269.1l.04 -.1M452.8 269.1l.04 -.09M455.1 269.1l.04 -.09M457.4 269.1l.04 -.08M459.8 269.1l.04 -.08M462.1 269.1l.04 -.07M464.4 269.1l.04 -.07M466.8 269.1l.03 -.07M469.1 269.1l.03 -.06M471.4 269.1l.03 -.06M473.7 269.1l.03 -.06M476.1 269.1l.03 -.06M478.4 269.1l.03 -.05M480.7 269.1l.03 -.05M483.1 269.1l.03 -.05M485.4 269.1l.03 -.05M487.7 269.1l.03 -.05M490 269.1l.03 -.04M492.4 269.1l.03 -.04M494.7 269.1l.03 -.04M497 269.1l.03 -.04M499.4 269.1l.03 -.04M501.7 269.1l.02 -.04M385.3 267.1l.55 -1.2M387.6 267.1l.39 -.99M389.9 267.1l.29 -.84M392.3 267.1l.23 -.72M394.6 267.1l.18 -.62M396.9 267.1l.15 -.55M399.2 267.1l.13 -.48M401.6 267.1l.11 -.43M403.9 267.1l.1 -.39M406.2 267.1l.09 -.35M408.6 267.1l.08 -.32M410.9 267.1l.07 -.29M413.2 267.1l.07 -.27M415.5 267.1l.06 -.25M417.9 267.1l.06 -.23M420.2 267.1l.05 -.21M422.5 267.1l.05 -.2M424.9 267.1l.05 -.18M427.2 267.1l.05 -.17M429.5 267.1l.05 -.16M431.8 267.1l.04 -.15M434.2 267.1l.04 -.14M436.5 267.1l.04 -.13M438.8 267.1l.04 -.13M441.2 267.1l.04 -.12M443.5 267.1l.04 -.11M445.8 267.1l.04 -.11M448.1 267.1l.04 -.1M450.5 267.1l.04 -.1M452.8 267.1l.03 -.09M455.1 267.1l.03 -.09M457.4 267.1l.03 -.08M459.8 267.1l.03 -.08M462.1 267.1l.03 -.08M464.4 267.1l.03 -.07M466.8 267.1l.03 -.07M469.1 267.1l.03 -.07M471.4 267.1l.03 -.06M473.7 267.1l.03 -.06M476.1 267.1l.03 -.06M478.4 267.1l.03 -.05M480.7 267.1l.03 -.05M483.1 267.1l.03 -.05M485.4 267.1l.03 -.05M487.7 267.1l.03 -.05M490 267.1l.03 -.04M492.4 267.1l.03 -.04M494.7 267.1l.02 -.04M497 267.1l.02 -.04M499.4 267.1l.02 -.04M501.7 267.1l.02 -.04M385.3 265.1l.22 -1.33M387.6 265.1l.16 -1.07M389.9 265.1l.12 -.88M392.3 265.1l.1 -.75M394.6 265.1l.08 -.64M396.9 265.1l.07 -.56M399.2 265.1l.06 -.5M401.6 265.1l.05 -.44M403.9 265.1l.05 -.4M406.2 265.1l.05 -.36M408.6 265.1l.04 -.32M410.9 265.1l.04 -.3M413.2 265.1l.04 -.27M415.5 265.1l.04 -.25M417.9 265.1l.04 -.23M420.2 265.1l.04 -.21M422.5 265.1l.03 -.2M424.9 265.1l.03 -.19M427.2 265.1l.03 -.17M429.5 265.1l.03 -.16M431.8 265.1l.03 -.15M434.2 265.1l.03 -.14M436.5 265.1l.03 -.14M438.8 265.1l.03 -.13M441.2 265.1l.03 -.12M443.5 265.1l.03 -.11M445.8 265.1l.03 -.11M448.1 265.1l.03 -.1M450.5 265.1l.03 -.1M452.8 265.1l.03 -.09M455.1 265.1l.03 -.09M457.4 265.1l.03 -.08M459.8 265.1l.03 -.08M462.1 265.1l.03 -.08M464.4 265.1l.03 -.07M466.8 265.1l.03 -.07M469.1 265.1l.03 -.07M471.4 265.1l.03 -.06M473.7 265.1l.03 -.06M476.1 265.1l.03 -.06M478.4 265.1l.03 -.05M480.7 265.1l.02 -.05M483.1 265.1l.02 -.05M485.4 265.1l.02 -.05M487.7 265.1l.02 -.05M490 265.1l.02 -.04M492.4 265.1l.02 -.04M494.7 265.1l.02 -.04M497 265.1l.02 -.04M499.4 265.1l.02 -.04M501.7 265.1l.02 -.04M385.3 263.1l-.15 -1.33M387.6 263.1l-.09 -1.07M389.9 263.1l-.06 -.89M392.3 263.1l-.04 -.75M394.6 263.1l-.03 -.64M396.9 263.1l-.02 -.56M399.2 263.1l-.01 -.5M401.6 263.1l0 -.44M403.9 263.1l0 -.39M406.2 263.1l0 -.36M408.6 263.1l.01 -.32M410.9 263.1l.01 -.3M413.2 263.1l.01 -.27M415.5 263.1l.01 -.25M417.9 263.1l.02 -.23M420.2 263.1l.02 -.21M422.5 263.1l.02 -.2M424.9 263.1l.02 -.19M427.2 263.1l.02 -.17M429.5 263.1l.02 -.16M431.8 263.1l.02 -.15M434.2 263.1l.02 -.14M436.5 263.1l.02 -.14M438.8 263.1l.02 -.13M441.2 263.1l.02 -.12M443.5 263.1l.02 -.11M445.8 263.1l.02 -.11M448.1 263.1l.02 -.1M450.5 263.1l.02 -.1M452.8 263.1l.02 -.09M455.1 263.1l.02 -.09M457.4 263.1l.02 -.08M459.8 263.1l.02 -.08M462.1 263.1l.02 -.08M464.4 263.1l.02 -.07M466.8 263.1l.02 -.07M469.1 263.1l.02 -.07M471.4 263.1l.02 -.06M473.7 263.1l.02 -.06M476.1 263.1l.02 -.06M478.4 263.1l.02 -.05M480.7 263.1l.02 -.05M483.1 263.1l.02 -.05M485.4 263.1l.02 -.05M487.7 263.1l.02 -.05M490 263.1l.02 -.04M492.4 263.1l.02 -.04M494.7 263.1l.02 -.04M497 263.1l.02 -.04M499.4 263.1l.02 -.04M501.7 263.1l.02 -.04M385.3 261.1l-.48 -1.22M387.6 261.1l-.33 -1M389.9 261.1l-.24 -.84M392.3 261.1l-.18 -.72M394.6 261.1l-.13 -.62M396.9 261.1l-.1 -.55M399.2 261.1l-.08 -.48M401.6 261.1l-.06 -.43M403.9 261.1l-.05 -.39M406.2 261.1l-.04 -.35M408.6 261.1l-.03 -.32M410.9 261.1l-.02 -.29M413.2 261.1l-.01 -.27M415.5 261.1l-.01 -.25M417.9 261.1l0 -.23M420.2 261.1l0 -.21M422.5 261.1l0 -.2M424.9 261.1l0 -.18M427.2 261.1l.01 -.17M429.5 261.1l.01 -.16M431.8 261.1l.01 -.15M434.2 261.1l.01 -.14M436.5 261.1l.01 -.13M438.8 261.1l.01 -.13M441.2 261.1l.02 -.12M443.5 261.1l.02 -.11M445.8 261.1l.02 -.11M448.1 261.1l.02 -.1M450.5 261.1l.02 -.1M452.8 261.1l.02 -.09M455.1 261.1l.02 -.09M457.4 261.1l.02 -.08M459.8 261.1l.02 -.08M462.1 261.1l.02 -.08M464.4 261.1l.02 -.07M466.8 261.1l.02 -.07M469.1 261.1l.02 -.07M471.4 261.1l.02 -.06M473.7 261.1l.02 -.06M476.1 261.1l.02 -.06M478.4 261.1l.02 -.06M480.7 261.1l.02 -.05M483.1 261.1l.02 -.05M485.4 261.1l.02 -.05M487.7 261.1l.02 -.05M490 261.1l.02 -.04M492.4 261.1l.02 -.04M494.7 261.1l.02 -.04M497 261.1l.02 -.04M499.4 261.1l.02 -.04M501.7 261.1l.02 -.04M385.3 259.1l-.72 -1.03M387.6 259.1l-.52 -.88M389.9 259.1l-.38 -.76M392.3 259.1l-.29 -.66M394.6 259.1l-.23 -.58M396.9 259.1l-.18 -.52M399.2 259.1l-.14 -.46M401.6 259.1l-.11 -.41M403.9 259.1l-.09 -.37M406.2 259.1l-.07 -.34M408.6 259.1l-.06 -.31M410.9 259.1l-.05 -.28M413.2 259.1l-.04 -.26M415.5 259.1l-.03 -.24M417.9 259.1l-.02 -.22M420.2 259.1l-.02 -.21M422.5 259.1l-.01 -.19M424.9 259.1l-.01 -.18M427.2 259.1l-.01 -.17M429.5 259.1l0 -.16M431.8 259.1l0 -.15M434.2 259.1l0 -.14M436.5 259.1l0 -.13M438.8 259.1l.01 -.13M441.2 259.1l.01 -.12M443.5 259.1l.01 -.11M445.8 259.1l.01 -.11M448.1 259.1l.01 -.1M450.5 259.1l.01 -.1M452.8 259.1l.01 -.09M455.1 259.1l.01 -.09M457.4 259.1l.01 -.08M459.8 259.1l.01 -.08M462.1 259.1l.02 -.08M464.4 259.1l.02 -.07M466.8 259.1l.02 -.07M469.1 259.1l.02 -.07M471.4 259.1l.02 -.06M473.7 259.1l.02 -.06M476.1 259.1l.02 -.06M478.4 259.1l.02 -.06M480.7 259.1l.02 -.05M483.1 259.1l.02 -.05M485.4 259.1l.02 -.05M487.7 259.1l.02 -.05M490 259.1l.02 -.04M492.4 259.1l.02 -.04M494.7 259.1l.02 -.04M497 259.1l.02 -.04M499.4 259.1l.02 -.04M501.7 259.1l.02 -.04M382.9 257.1l-1.14 -.87M385.3 257.1l-.85 -.81M387.6 257.1l-.64 -.74M389.9 257.1l-.49 -.66M392.3 257.1l-.38 -.59M394.6 257.1l-.3 -.53M396.9 257.1l-.24 -.48M399.2 257.1l-.2 -.43M401.6 257.1l-.16 -.39M403.9 257.1l-.13 -.35M406.2 257.1l-.11 -.32M408.6 257.1l-.09 -.3M410.9 257.1l-.08 -.27M413.2 257.1l-.06 -.25M415.5 257.1l-.05 -.23M417.9 257.1l-.04 -.22M420.2 257.1l-.04 -.2M422.5 257.1l-.03 -.19M424.9 257.1l-.02 -.18M427.2 257.1l-.02 -.17M429.5 257.1l-.01 -.16M431.8 257.1l-.01 -.15M434.2 257.1l-.01 -.14M436.5 257.1l0 -.13M438.8 257.1l0 -.12M441.2 257.1l0 -.12M443.5 257.1l0 -.11M445.8 257.1l0 -.11M448.1 257.1l.01 -.1M450.5 257.1l.01 -.1M452.8 257.1l.01 -.09M455.1 257.1l.01 -.09M457.4 257.1l.01 -.08M459.8 257.1l.01 -.08M462.1 257.1l.01 -.07M464.4 257.1l.01 -.07M466.8 257.1l.01 -.07M469.1 257.1l.01 -.07M471.4 257.1l.01 -.06M473.7 257.1l.01 -.06M476.1 257.1l.01 -.06M478.4 257.1l.01 -.05M480.7 257.1l.01 -.05M483.1 257.1l.01 -.05M485.4 257.1l.01 -.05M487.7 257.1l.01 -.05M490 257.1l.01 -.04M492.4 257.1l.01 -.04M494.7 257.1l.01 -.04M497 257.1l.01 -.04M499.4 257.1l.01 -.04M501.7 257.1l.01 -.04M382.9 255.2l-1.14 -.6M385.3 255.2l-.89 -.61M387.6 255.2l-.7 -.59M389.9 255.2l-.56 -.55M392.3 255.2l-.45 -.51M394.6 255.2l-.36 -.47M396.9 255.2l-.29 -.43M399.2 255.2l-.24 -.39M401.6 255.2l-.2 -.36M403.9 255.2l-.17 -.33M406.2 255.2l-.14 -.3M408.6 255.2l-.12 -.28M410.9 255.2l-.1 -.26M413.2 255.2l-.09 -.24M415.5 255.2l-.07 -.23M417.9 255.2l-.06 -.21M420.2 255.2l-.05 -.2M422.5 255.2l-.04 -.18M424.9 255.2l-.04 -.17M427.2 255.2l-.03 -.16M429.5 255.2l-.03 -.15M431.8 255.2l-.02 -.14M434.2 255.2l-.02 -.14M436.5 255.2l-.01 -.13M438.8 255.2l-.01 -.12M441.2 255.2l-.01 -.12M443.5 255.2l0 -.11M445.8 255.2l0 -.1M448.1 255.2l0 -.1M450.5 255.2l0 -.09M452.8 255.2l0 -.09M455.1 255.2l0 -.09M457.4 255.2l.01 -.08M459.8 255.2l.01 -.08M462.1 255.2l.01 -.07M464.4 255.2l.01 -.07M466.8 255.2l.01 -.07M469.1 255.2l.01 -.06M471.4 255.2l.01 -.06M473.7 255.2l.01 -.06M476.1 255.2l.01 -.06M478.4 255.2l.01 -.05M480.7 255.2l.01 -.05M483.1 255.2l.01 -.05M485.4 255.2l.01 -.05M487.7 255.2l.01 -.05M490 255.2l.01 -.04M492.4 255.2l.01 -.04M494.7 255.2l.01 -.04M497 255.2l.01 -.04M499.4 255.2l.01 -.04M501.7 255.2l.01 -.04M355 253.2l0 1.5M378.3 253.2l-1.49 -.12M380.6 253.2l-1.28 -.3M382.9 253.2l-1.07 -.4M385.3 253.2l-.88 -.44M387.6 253.2l-.72 -.46M389.9 253.2l-.59 -.45M392.3 253.2l-.48 -.43M394.6 253.2l-.4 -.4M396.9 253.2l-.33 -.38M399.2 253.2l-.28 -.35M401.6 253.2l-.23 -.33M403.9 253.2l-.2 -.3M406.2 253.2l-.17 -.28M408.6 253.2l-.14 -.26M410.9 253.2l-.12 -.25M413.2 253.2l-.1 -.23M415.5 253.2l-.09 -.21M417.9 253.2l-.08 -.2M420.2 253.2l-.07 -.19M422.5 253.2l-.06 -.18M424.9 253.2l-.05 -.17M427.2 253.2l-.04 -.16M429.5 253.2l-.04 -.15M431.8 253.2l-.03 -.14M434.2 253.2l-.03 -.13M436.5 253.2l-.02 -.13M438.8 253.2l-.02 -.12M441.2 253.2l-.01 -.11M443.5 253.2l-.01 -.11M445.8 253.2l-.01 -.1M448.1 253.2l-.01 -.1M450.5 253.2l0 -.09M452.8 253.2l0 -.09M455.1 253.2l0 -.08M457.4 253.2l0 -.08M459.8 253.2l0 -.08M462.1 253.2l0 -.07M464.4 253.2l0 -.07M466.8 253.2l.01 -.07M469.1 253.2l.01 -.06M471.4 253.2l.01 -.06M473.7 253.2l.01 -.06M476.1 253.2l.01 -.06M478.4 253.2l.01 -.05M480.7 253.2l.01 -.05M483.1 253.2l.01 -.05M485.4 253.2l.01 -.05M487.7 253.2l.01 -.05M490 253.2l.01 -.04M492.4 253.2l.01 -.04M494.7 253.2l.01 -.04M497 253.2l.01 -.04M499.4 253.2l.01 -.04M501.7 253.2l.01 -.04M355 251.2l0 1.32M357.3 251.2l-.2 1.32M359.7 251.2l-.4 1.29M362 251.2l-.6 1.24M364.3 251.2l-.81 1.16M366.6 251.2l-1.01 1.04M369 251.2l-1.19 .87M371.3 251.2l-1.32 .66M373.6 251.2l-1.38 .43M376 251.2l-1.35 .2M378.3 251.2l-1.26 0M380.6 251.2l-1.13 -.15M382.9 251.2l-.98 -.25M385.3 251.2l-.84 -.31M387.6 251.2l-.71 -.34M389.9 251.2l-.6 -.35M392.3 251.2l-.5 -.35M394.6 251.2l-.42 -.34M396.9 251.2l-.36 -.33M399.2 251.2l-.3 -.31M401.6 251.2l-.26 -.29M403.9 251.2l-.22 -.28M406.2 251.2l-.19 -.26M408.6 251.2l-.16 -.24M410.9 251.2l-.14 -.23M413.2 251.2l-.12 -.21M415.5 251.2l-.11 -.2M417.9 251.2l-.09 -.19M420.2 251.2l-.08 -.18M422.5 251.2l-.07 -.17M424.9 251.2l-.06 -.16M427.2 251.2l-.05 -.15M429.5 251.2l-.05 -.14M431.8 251.2l-.04 -.14M434.2 251.2l-.03 -.13M436.5 251.2l-.03 -.12M438.8 251.2l-.02 -.12M441.2 251.2l-.02 -.11M443.5 251.2l-.02 -.1M445.8 251.2l-.01 -.1M448.1 251.2l-.01 -.09M450.5 251.2l-.01 -.09M452.8 251.2l-.01 -.09M455.1 251.2l-.01 -.08M457.4 251.2l0 -.08M459.8 251.2l0 -.08M462.1 251.2l0 -.07M464.4 251.2l0 -.07M466.8 251.2l0 -.07M469.1 251.2l0 -.06M471.4 251.2l0 -.06M473.7 251.2l0 -.06M476.1 251.2l.01 -.06M478.4 251.2l.01 -.05M480.7 251.2l.01 -.05M483.1 251.2l.01 -.05M485.4 251.2l.01 -.05M487.7 251.2l.01 -.05M490 251.2l.01 -.04M492.4 251.2l.01 -.04M494.7 251.2l.01 -.04M497 251.2l.01 -.04M499.4 251.2l.01 -.04M501.7 251.2l.01 -.04M355 249.2l0 1.17M357.3 249.2l-.18 1.16M359.7 249.2l-.35 1.13M362 249.2l-.53 1.08M364.3 249.2l-.7 1M366.6 249.2l-.86 .89M369 249.2l-.99 .76M371.3 249.2l-1.09 .59M373.6 249.2l-1.14 .41M376 249.2l-1.13 .24M378.3 249.2l-1.08 .08M380.6 249.2l-.99 -.04M382.9 249.2l-.89 -.14M385.3 249.2l-.78 -.21M387.6 249.2l-.68 -.25M389.9 249.2l-.58 -.27M392.3 249.2l-.5 -.28M394.6 249.2l-.43 -.28M396.9 249.2l-.37 -.28M399.2 249.2l-.32 -.27M401.6 249.2l-.27 -.26M403.9 249.2l-.24 -.25M406.2 249.2l-.21 -.23M408.6 249.2l-.18 -.22M410.9 249.2l-.16 -.21M413.2 249.2l-.14 -.2M415.5 249.2l-.12 -.19M417.9 249.2l-.1 -.18M420.2 249.2l-.09 -.17M422.5 249.2l-.08 -.16M424.9 249.2l-.07 -.15M427.2 249.2l-.06 -.14M429.5 249.2l-.05 -.14M431.8 249.2l-.05 -.13M434.2 249.2l-.04 -.12M436.5 249.2l-.04 -.12M438.8 249.2l-.03 -.11M441.2 249.2l-.03 -.11M443.5 249.2l-.02 -.1M445.8 249.2l-.02 -.1M448.1 249.2l-.02 -.09M450.5 249.2l-.01 -.09M452.8 249.2l-.01 -.08M455.1 249.2l-.01 -.08M457.4 249.2l-.01 -.08M459.8 249.2l-.01 -.07M462.1 249.2l0 -.07M464.4 249.2l0 -.07M466.8 249.2l0 -.07M469.1 249.2l0 -.06M471.4 249.2l0 -.06M473.7 249.2l0 -.06M476.1 249.2l0 -.06M478.4 249.2l0 -.05M480.7 249.2l0 -.05M483.1 249.2l.01 -.05M485.4 249.2l.01 -.05M487.7 249.2l.01 -.05M490 249.2l.01 -.04M492.4 249.2l.01 -.04M494.7 249.2l.01 -.04M497 249.2l.01 -.04M499.4 249.2l.01 -.04M501.7 249.2l.01 -.04M355 247.2l0 1.02M357.3 247.2l-.15 1.02M359.7 247.2l-.31 .99M362 247.2l-.46 .94M364.3 247.2l-.6 .87M366.6 247.2l-.73 .78M369 247.2l-.83 .67M371.3 247.2l-.91 .54M373.6 247.2l-.95 .4M376 247.2l-.96 .26M378.3 247.2l-.93 .13M380.6 247.2l-.87 .03M382.9 247.2l-.8 -.06M385.3 247.2l-.72 -.13M387.6 247.2l-.64 -.17M389.9 247.2l-.56 -.2M392.3 247.2l-.49 -.22M394.6 247.2l-.43 -.23M396.9 247.2l-.37 -.23M399.2 247.2l-.33 -.23M401.6 247.2l-.28 -.22M403.9 247.2l-.25 -.22M406.2 247.2l-.22 -.21M408.6 247.2l-.19 -.2M410.9 247.2l-.17 -.19M413.2 247.2l-.15 -.18M415.5 247.2l-.13 -.17M417.9 247.2l-.11 -.17M420.2 247.2l-.1 -.16M422.5 247.2l-.09 -.15M424.9 247.2l-.08 -.14M427.2 247.2l-.07 -.14M429.5 247.2l-.06 -.13M431.8 247.2l-.05 -.12M434.2 247.2l-.05 -.12M436.5 247.2l-.04 -.11M438.8 247.2l-.04 -.11M441.2 247.2l-.03 -.1M443.5 247.2l-.03 -.1M445.8 247.2l-.03 -.09M448.1 247.2l-.02 -.09M450.5 247.2l-.02 -.09M452.8 247.2l-.02 -.08M455.1 247.2l-.01 -.08M457.4 247.2l-.01 -.08M459.8 247.2l-.01 -.07M462.1 247.2l-.01 -.07M464.4 247.2l-.01 -.07M466.8 247.2l0 -.06M469.1 247.2l0 -.06M471.4 247.2l0 -.06M473.7 247.2l0 -.06M476.1 247.2l0 -.05M478.4 247.2l0 -.05M480.7 247.2l0 -.05M483.1 247.2l0 -.05M485.4 247.2l0 -.05M487.7 247.2l0 -.04M490 247.2l0 -.04M492.4 247.2l.01 -.04M494.7 247.2l.01 -.04M497 247.2l.01 -.04M499.4 247.2l.01 -.04M501.7 247.2l.01 -.04M355 245.2l0 .9M357.3 245.2l-.13 .89M359.7 245.2l-.27 .87M362 245.2l-.39 .83M364.3 245.2l-.51 .77M366.6 245.2l-.62 .69M369 245.2l-.71 .59M371.3 245.2l-.77 .49M373.6 245.2l-.81 .38M376 245.2l-.82 .27M378.3 245.2l-.8 .16M380.6 245.2l-.76 .07M382.9 245.2l-.71 0M385.3 245.2l-.65 -.07M387.6 245.2l-.59 -.11M389.9 245.2l-.53 -.14M392.3 245.2l-.47 -.17M394.6 245.2l-.42 -.18M396.9 245.2l-.37 -.19M399.2 245.2l-.33 -.19M401.6 245.2l-.29 -.19M403.9 245.2l-.25 -.19M406.2 245.2l-.22 -.19M408.6 245.2l-.2 -.18M410.9 245.2l-.18 -.17M413.2 245.2l-.16 -.17M415.5 245.2l-.14 -.16M417.9 245.2l-.12 -.15M420.2 245.2l-.11 -.15M422.5 245.2l-.1 -.14M424.9 245.2l-.09 -.14M427.2 245.2l-.08 -.13M429.5 245.2l-.07 -.12M431.8 245.2l-.06 -.12M434.2 245.2l-.05 -.11M436.5 245.2l-.05 -.11M438.8 245.2l-.04 -.1M441.2 245.2l-.04 -.1M443.5 245.2l-.03 -.1M445.8 245.2l-.03 -.09M448.1 245.2l-.03 -.09M450.5 245.2l-.02 -.08M452.8 245.2l-.02 -.08M455.1 245.2l-.02 -.08M457.4 245.2l-.02 -.07M459.8 245.2l-.01 -.07M462.1 245.2l-.01 -.07M464.4 245.2l-.01 -.07M466.8 245.2l-.01 -.06M469.1 245.2l-.01 -.06M471.4 245.2l0 -.06M473.7 245.2l0 -.06M476.1 245.2l0 -.05M478.4 245.2l0 -.05M480.7 245.2l0 -.05M483.1 245.2l0 -.05M485.4 245.2l0 -.05M487.7 245.2l0 -.04M490 245.2l0 -.04M492.4 245.2l0 -.04M494.7 245.2l0 -.04M497 245.2l0 -.04M499.4 245.2l0 -.04M501.7 245.2l.01 -.04M355 243.2l0 .79M357.3 243.2l-.12 .79M359.7 243.2l-.23 .76M362 243.2l-.34 .73M364.3 243.2l-.44 .68M366.6 243.2l-.53 .61M369 243.2l-.6 .53M371.3 243.2l-.65 .45M373.6 243.2l-.69 .36M376 243.2l-.7 .27M378.3 243.2l-.7 .18M380.6 243.2l-.67 .1M382.9 243.2l-.64 .04M385.3 243.2l-.59 -.02M387.6 243.2l-.55 -.06M389.9 243.2l-.5 -.1M392.3 243.2l-.45 -.12M394.6 243.2l-.4 -.14M396.9 243.2l-.36 -.15M399.2 243.2l-.32 -.16M401.6 243.2l-.29 -.16M403.9 243.2l-.26 -.16M406.2 243.2l-.23 -.16M408.6 243.2l-.2 -.16M410.9 243.2l-.18 -.16M413.2 243.2l-.16 -.15M415.5 243.2l-.15 -.15M417.9 243.2l-.13 -.14M420.2 243.2l-.12 -.14M422.5 243.2l-.1 -.13M424.9 243.2l-.09 -.13M427.2 243.2l-.08 -.12M429.5 243.2l-.07 -.12M431.8 243.2l-.07 -.11M434.2 243.2l-.06 -.11M436.5 243.2l-.05 -.1M438.8 243.2l-.05 -.1M441.2 243.2l-.04 -.1M443.5 243.2l-.04 -.09M445.8 243.2l-.03 -.09M448.1 243.2l-.03 -.08M450.5 243.2l-.03 -.08M452.8 243.2l-.02 -.08M455.1 243.2l-.02 -.07M457.4 243.2l-.02 -.07M459.8 243.2l-.02 -.07M462.1 243.2l-.01 -.07M464.4 243.2l-.01 -.06M466.8 243.2l-.01 -.06M469.1 243.2l-.01 -.06M471.4 243.2l-.01 -.06M473.7 243.2l-.01 -.05M476.1 243.2l0 -.05M478.4 243.2l0 -.05M480.7 243.2l0 -.05M483.1 243.2l0 -.05M485.4 243.2l0 -.05M487.7 243.2l0 -.04M490 243.2l0 -.04M492.4 243.2l0 -.04M494.7 243.2l0 -.04M497 243.2l0 -.04M499.4 243.2l0 -.04M501.7 243.2l0 -.04M355 241.2l0 .7M357.3 241.2l-.1 .7M359.7 241.2l-.2 .68M362 241.2l-.29 .64M364.3 241.2l-.37 .6M366.6 241.2l-.45 .55M369 241.2l-.51 .48M371.3 241.2l-.56 .41M373.6 241.2l-.59 .34M376 241.2l-.61 .26M378.3 241.2l-.61 .19M380.6 241.2l-.59 .12M382.9 241.2l-.57 .07M385.3 241.2l-.54 .02M387.6 241.2l-.5 -.03M389.9 241.2l-.46 -.06M392.3 241.2l-.42 -.09M394.6 241.2l-.39 -.11M396.9 241.2l-.35 -.12M399.2 241.2l-.31 -.13M401.6 241.2l-.28 -.14M403.9 241.2l-.26 -.14M406.2 241.2l-.23 -.14M408.6 241.2l-.21 -.14M410.9 241.2l-.19 -.14M413.2 241.2l-.17 -.14M415.5 241.2l-.15 -.13M417.9 241.2l-.13 -.13M420.2 241.2l-.12 -.13M422.5 241.2l-.11 -.12M424.9 241.2l-.1 -.12M427.2 241.2l-.09 -.11M429.5 241.2l-.08 -.11M431.8 241.2l-.07 -.11M434.2 241.2l-.06 -.1M436.5 241.2l-.06 -.1M438.8 241.2l-.05 -.09M441.2 241.2l-.05 -.09M443.5 241.2l-.04 -.09M445.8 241.2l-.04 -.08M448.1 241.2l-.03 -.08M450.5 241.2l-.03 -.08M452.8 241.2l-.03 -.08M455.1 241.2l-.02 -.07M457.4 241.2l-.02 -.07M459.8 241.2l-.02 -.07M462.1 241.2l-.02 -.06M464.4 241.2l-.01 -.06M466.8 241.2l-.01 -.06M469.1 241.2l-.01 -.06M471.4 241.2l-.01 -.06M473.7 241.2l-.01 -.05M476.1 241.2l-.01 -.05M478.4 241.2l-.01 -.05M480.7 241.2l0 -.05M483.1 241.2l0 -.05M485.4 241.2l0 -.04M487.7 241.2l0 -.04M490 241.2l0 -.04M492.4 241.2l0 -.04M494.7 241.2l0 -.04M497 241.2l0 -.04M499.4 241.2l0 -.04M501.7 241.2l0 -.03M355 239.2l0 .62M357.3 239.2l-.09 .62M359.7 239.2l-.17 .6M362 239.2l-.25 .57M364.3 239.2l-.32 .54M366.6 239.2l-.39 .49M369 239.2l-.44 .44M371.3 239.2l-.48 .38M373.6 239.2l-.51 .32M376 239.2l-.53 .25M378.3 239.2l-.53 .19M380.6 239.2l-.53 .14M382.9 239.2l-.51 .09M385.3 239.2l-.49 .04M387.6 239.2l-.46 0M389.9 239.2l-.43 -.03M392.3 239.2l-.4 -.06M394.6 239.2l-.36 -.08M396.9 239.2l-.33 -.09M399.2 239.2l-.3 -.1M401.6 239.2l-.28 -.11M403.9 239.2l-.25 -.12M406.2 239.2l-.23 -.12M408.6 239.2l-.21 -.12M410.9 239.2l-.19 -.12M413.2 239.2l-.17 -.12M415.5 239.2l-.15 -.12M417.9 239.2l-.14 -.12M420.2 239.2l-.13 -.12M422.5 239.2l-.11 -.11M424.9 239.2l-.1 -.11M427.2 239.2l-.09 -.11M429.5 239.2l-.08 -.1M431.8 239.2l-.08 -.1M434.2 239.2l-.07 -.1M436.5 239.2l-.06 -.09M438.8 239.2l-.06 -.09M441.2 239.2l-.05 -.09M443.5 239.2l-.05 -.08M445.8 239.2l-.04 -.08M448.1 239.2l-.04 -.08M450.5 239.2l-.03 -.07M452.8 239.2l-.03 -.07M455.1 239.2l-.03 -.07M457.4 239.2l-.02 -.07M459.8 239.2l-.02 -.06M462.1 239.2l-.02 -.06M464.4 239.2l-.02 -.06M466.8 239.2l-.02 -.06M469.1 239.2l-.01 -.06M471.4 239.2l-.01 -.05M473.7 239.2l-.01 -.05M476.1 239.2l-.01 -.05M478.4 239.2l-.01 -.05M480.7 239.2l-.01 -.05M483.1 239.2l-.01 -.05M485.4 239.2l0 -.04M487.7 239.2l0 -.04M490 239.2l0 -.04M492.4 239.2l0 -.04M494.7 239.2l0 -.04M497 239.2l0 -.04M499.4 239.2l0 -.04M501.7 239.2l0 -.03M355 237.2l0 .55M357.3 237.2l-.07 .55M359.7 237.2l-.15 .54M362 237.2l-.21 .51M364.3 237.2l-.28 .48M366.6 237.2l-.33 .44M369 237.2l-.38 .4M371.3 237.2l-.42 .35M373.6 237.2l-.44 .3M376 237.2l-.46 .25M378.3 237.2l-.47 .19M380.6 237.2l-.47 .14M382.9 237.2l-.46 .1M385.3 237.2l-.44 .06M387.6 237.2l-.42 .02M389.9 237.2l-.4 -.01M392.3 237.2l-.37 -.03M394.6 237.2l-.34 -.05M396.9 237.2l-.32 -.07M399.2 237.2l-.29 -.08M401.6 237.2l-.27 -.09M403.9 237.2l-.25 -.1M406.2 237.2l-.22 -.1M408.6 237.2l-.2 -.1M410.9 237.2l-.19 -.11M413.2 237.2l-.17 -.11M415.5 237.2l-.15 -.11M417.9 237.2l-.14 -.11M420.2 237.2l-.13 -.1M422.5 237.2l-.12 -.1M424.9 237.2l-.11 -.1M427.2 237.2l-.1 -.1M429.5 237.2l-.09 -.1M431.8 237.2l-.08 -.09M434.2 237.2l-.07 -.09M436.5 237.2l-.07 -.09M438.8 237.2l-.06 -.08M441.2 237.2l-.05 -.08M443.5 237.2l-.05 -.08M445.8 237.2l-.05 -.08M448.1 237.2l-.04 -.07M450.5 237.2l-.04 -.07M452.8 237.2l-.03 -.07M455.1 237.2l-.03 -.07M457.4 237.2l-.03 -.06M459.8 237.2l-.02 -.06M462.1 237.2l-.02 -.06M464.4 237.2l-.02 -.06M466.8 237.2l-.02 -.06M469.1 237.2l-.02 -.05M471.4 237.2l-.01 -.05M473.7 237.2l-.01 -.05M476.1 237.2l-.01 -.05M478.4 237.2l-.01 -.05M480.7 237.2l-.01 -.05M483.1 237.2l-.01 -.04M485.4 237.2l-.01 -.04M487.7 237.2l0 -.04M490 237.2l0 -.04M492.4 237.2l0 -.04M494.7 237.2l0 -.04M497 237.2l0 -.04M499.4 237.2l0 -.04M501.7 237.2l0 -.03M355 235.2l0 .5M357.3 235.2l-.06 .49M359.7 235.2l-.13 .48M362 235.2l-.18 .46M364.3 235.2l-.24 .43M366.6 235.2l-.29 .4M369 235.2l-.33 .36M371.3 235.2l-.36 .32M373.6 235.2l-.39 .28M376 235.2l-.41 .24M378.3 235.2l-.41 .19M380.6 235.2l-.41 .15M382.9 235.2l-.41 .11M385.3 235.2l-.4 .07M387.6 235.2l-.38 .04M389.9 235.2l-.36 .01M392.3 235.2l-.34 -.01M394.6 235.2l-.32 -.03M396.9 235.2l-.3 -.05M399.2 235.2l-.28 -.06M401.6 235.2l-.26 -.07M403.9 235.2l-.24 -.08M406.2 235.2l-.22 -.09M408.6 235.2l-.2 -.09M410.9 235.2l-.18 -.09M413.2 235.2l-.17 -.09M415.5 235.2l-.15 -.09M417.9 235.2l-.14 -.09M420.2 235.2l-.13 -.09M422.5 235.2l-.12 -.09M424.9 235.2l-.11 -.09M427.2 235.2l-.1 -.09M429.5 235.2l-.09 -.09M431.8 235.2l-.08 -.09M434.2 235.2l-.08 -.08M436.5 235.2l-.07 -.08M438.8 235.2l-.06 -.08M441.2 235.2l-.06 -.08M443.5 235.2l-.05 -.08M445.8 235.2l-.05 -.07M448.1 235.2l-.04 -.07M450.5 235.2l-.04 -.07M452.8 235.2l-.04 -.07M455.1 235.2l-.03 -.06M457.4 235.2l-.03 -.06M459.8 235.2l-.03 -.06M462.1 235.2l-.02 -.06M464.4 235.2l-.02 -.06M466.8 235.2l-.02 -.05M469.1 235.2l-.02 -.05M471.4 235.2l-.02 -.05M473.7 235.2l-.01 -.05M476.1 235.2l-.01 -.05M478.4 235.2l-.01 -.05M480.7 235.2l-.01 -.04M483.1 235.2l-.01 -.04M485.4 235.2l-.01 -.04M487.7 235.2l-.01 -.04M490 235.2l-.01 -.04M492.4 235.2l0 -.04M494.7 235.2l0 -.04M497 235.2l0 -.04M499.4 235.2l0 -.03M501.7 235.2l0 -.03M355 233.2l0 .44M357.3 233.2l-.06 .44M359.7 233.2l-.11 .43M362 233.2l-.16 .41M364.3 233.2l-.21 .39M366.6 233.2l-.25 .37M369 233.2l-.29 .33M371.3 233.2l-.32 .3M373.6 233.2l-.34 .26M376 233.2l-.36 .22M378.3 233.2l-.37 .19M380.6 233.2l-.37 .15M382.9 233.2l-.37 .11M385.3 233.2l-.36 .08M387.6 233.2l-.35 .05M389.9 233.2l-.34 .03M392.3 233.2l-.32 .01M394.6 233.2l-.3 -.01M396.9 233.2l-.28 -.03M399.2 233.2l-.26 -.04M401.6 233.2l-.25 -.05M403.9 233.2l-.23 -.06M406.2 233.2l-.21 -.07M408.6 233.2l-.2 -.08M410.9 233.2l-.18 -.08M413.2 233.2l-.17 -.08M415.5 233.2l-.15 -.08M417.9 233.2l-.14 -.08M420.2 233.2l-.13 -.08M422.5 233.2l-.12 -.08M424.9 233.2l-.11 -.08M427.2 233.2l-.1 -.08M429.5 233.2l-.09 -.08M431.8 233.2l-.08 -.08M434.2 233.2l-.08 -.08M436.5 233.2l-.07 -.08M438.8 233.2l-.07 -.08M441.2 233.2l-.06 -.07M443.5 233.2l-.05 -.07M445.8 233.2l-.05 -.07M448.1 233.2l-.05 -.07M450.5 233.2l-.04 -.07M452.8 233.2l-.04 -.06M455.1 233.2l-.04 -.06M457.4 233.2l-.03 -.06M459.8 233.2l-.03 -.06M462.1 233.2l-.03 -.06M464.4 233.2l-.02 -.05M466.8 233.2l-.02 -.05M469.1 233.2l-.02 -.05M471.4 233.2l-.02 -.05M473.7 233.2l-.02 -.05M476.1 233.2l-.01 -.05M478.4 233.2l-.01 -.05M480.7 233.2l-.01 -.04M483.1 233.2l-.01 -.04M485.4 233.2l-.01 -.04M487.7 233.2l-.01 -.04M490 233.2l-.01 -.04M492.4 233.2l-.01 -.04M494.7 233.2l-.01 -.04M497 233.2l0 -.04M499.4 233.2l0 -.03M501.7 233.2l0 -.03M355 231.2l0 .4M357.3 231.2l-.05 .4M359.7 231.2l-.09 .39M362 231.2l-.14 .38M364.3 231.2l-.18 .36M366.6 231.2l-.22 .33M369 231.2l-.25 .31M371.3 231.2l-.28 .28M373.6 231.2l-.3 .25M376 231.2l-.32 .21M378.3 231.2l-.33 .18M380.6 231.2l-.33 .15M382.9 231.2l-.33 .12M385.3 231.2l-.33 .09M387.6 231.2l-.32 .06M389.9 231.2l-.31 .04M392.3 231.2l-.3 .02M394.6 231.2l-.28 0M396.9 231.2l-.27 -.02M399.2 231.2l-.25 -.03M401.6 231.2l-.24 -.04M403.9 231.2l-.22 -.05M406.2 231.2l-.2 -.06M408.6 231.2l-.19 -.06M410.9 231.2l-.18 -.07M413.2 231.2l-.16 -.07M415.5 231.2l-.15 -.07M417.9 231.2l-.14 -.07M420.2 231.2l-.13 -.08M422.5 231.2l-.12 -.08M424.9 231.2l-.11 -.08M427.2 231.2l-.1 -.08M429.5 231.2l-.09 -.08M431.8 231.2l-.09 -.07M434.2 231.2l-.08 -.07M436.5 231.2l-.07 -.07M438.8 231.2l-.07 -.07M441.2 231.2l-.06 -.07M443.5 231.2l-.06 -.07M445.8 231.2l-.05 -.07M448.1 231.2l-.05 -.06M450.5 231.2l-.04 -.06M452.8 231.2l-.04 -.06M455.1 231.2l-.04 -.06M457.4 231.2l-.03 -.06M459.8 231.2l-.03 -.06M462.1 231.2l-.03 -.05M464.4 231.2l-.03 -.05M466.8 231.2l-.02 -.05M469.1 231.2l-.02 -.05M471.4 231.2l-.02 -.05M473.7 231.2l-.02 -.05M476.1 231.2l-.02 -.05M478.4 231.2l-.01 -.04M480.7 231.2l-.01 -.04M483.1 231.2l-.01 -.04M485.4 231.2l-.01 -.04M487.7 231.2l-.01 -.04M490 231.2l-.01 -.04M492.4 231.2l-.01 -.04M494.7 231.2l-.01 -.04M497 231.2l-.01 -.03M499.4 231.2l0 -.03M501.7 231.2l0 -.03M355 229.2l0 .36M357.3 229.2l-.04 .36M359.7 229.2l-.08 .35M362 229.2l-.12 .34M364.3 229.2l-.16 .32M366.6 229.2l-.19 .3M369 229.2l-.22 .28M371.3 229.2l-.25 .26M373.6 229.2l-.27 .23M376 229.2l-.28 .2M378.3 229.2l-.29 .17M380.6 229.2l-.3 .15M382.9 229.2l-.3 .12M385.3 229.2l-.3 .09M387.6 229.2l-.29 .07M389.9 229.2l-.28 .05M392.3 229.2l-.27 .03M394.6 229.2l-.26 .01M396.9 229.2l-.25 0M399.2 229.2l-.24 -.02M401.6 229.2l-.22 -.03M403.9 229.2l-.21 -.04M406.2 229.2l-.2 -.04M408.6 229.2l-.18 -.05M410.9 229.2l-.17 -.06M413.2 229.2l-.16 -.06M415.5 229.2l-.15 -.06M417.9 229.2l-.14 -.07M420.2 229.2l-.13 -.07M422.5 229.2l-.12 -.07M424.9 229.2l-.11 -.07M427.2 229.2l-.1 -.07M429.5 229.2l-.09 -.07M431.8 229.2l-.09 -.07M434.2 229.2l-.08 -.07M436.5 229.2l-.07 -.07M438.8 229.2l-.07 -.07M441.2 229.2l-.06 -.06M443.5 229.2l-.06 -.06M445.8 229.2l-.05 -.06M448.1 229.2l-.05 -.06M450.5 229.2l-.05 -.06M452.8 229.2l-.04 -.06M455.1 229.2l-.04 -.06M457.4 229.2l-.04 -.05M459.8 229.2l-.03 -.05M462.1 229.2l-.03 -.05M464.4 229.2l-.03 -.05M466.8 229.2l-.03 -.05M469.1 229.2l-.02 -.05M471.4 229.2l-.02 -.05M473.7 229.2l-.02 -.05M476.1 229.2l-.02 -.04M478.4 229.2l-.02 -.04M480.7 229.2l-.01 -.04M483.1 229.2l-.01 -.04M485.4 229.2l-.01 -.04M487.7 229.2l-.01 -.04M490 229.2l-.01 -.04M492.4 229.2l-.01 -.04M494.7 229.2l-.01 -.03M497 229.2l-.01 -.03M499.4 229.2l-.01 -.03M501.7 229.2l-.01 -.03M355 227.2l0 .33M357.3 227.2l-.04 .33M359.7 227.2l-.07 .32M362 227.2l-.11 .31M364.3 227.2l-.14 .3M366.6 227.2l-.17 .28M369 227.2l-.19 .26M371.3 227.2l-.22 .24M373.6 227.2l-.24 .22M376 227.2l-.25 .19M378.3 227.2l-.26 .17M380.6 227.2l-.27 .14M382.9 227.2l-.27 .12M385.3 227.2l-.27 .1M387.6 227.2l-.27 .07M389.9 227.2l-.26 .05M392.3 227.2l-.25 .04M394.6 227.2l-.24 .02M396.9 227.2l-.23 .01M399.2 227.2l-.22 -.01M401.6 227.2l-.21 -.02M403.9 227.2l-.2 -.03M406.2 227.2l-.19 -.03M408.6 227.2l-.18 -.04M410.9 227.2l-.17 -.05M413.2 227.2l-.16 -.05M415.5 227.2l-.15 -.05M417.9 227.2l-.14 -.06M420.2 227.2l-.13 -.06M422.5 227.2l-.12 -.06M424.9 227.2l-.11 -.06M427.2 227.2l-.1 -.06M429.5 227.2l-.09 -.06M431.8 227.2l-.09 -.06M434.2 227.2l-.08 -.06M436.5 227.2l-.08 -.06M438.8 227.2l-.07 -.06M441.2 227.2l-.06 -.06M443.5 227.2l-.06 -.06M445.8 227.2l-.06 -.06M448.1 227.2l-.05 -.06M450.5 227.2l-.05 -.06M452.8 227.2l-.04 -.05M455.1 227.2l-.04 -.05M457.4 227.2l-.04 -.05M459.8 227.2l-.03 -.05M462.1 227.2l-.03 -.05M464.4 227.2l-.03 -.05M466.8 227.2l-.03 -.05M469.1 227.2l-.02 -.05M471.4 227.2l-.02 -.04M473.7 227.2l-.02 -.04M476.1 227.2l-.02 -.04M478.4 227.2l-.02 -.04M480.7 227.2l-.02 -.04M483.1 227.2l-.01 -.04M485.4 227.2l-.01 -.04M487.7 227.2l-.01 -.04M490 227.2l-.01 -.04M492.4 227.2l-.01 -.03M494.7 227.2l-.01 -.03M497 227.2l-.01 -.03M499.4 227.2l-.01 -.03M501.7 227.2l-.01 -.03M355 225.2l0 .3M357.3 225.2l-.03 .3M359.7 225.2l-.06 .29M362 225.2l-.09 .28M364.3 225.2l-.12 .27M366.6 225.2l-.15 .26M369 225.2l-.17 .24M371.3 225.2l-.19 .22M373.6 225.2l-.21 .2M376 225.2l-.22 .18M378.3 225.2l-.23 .16M380.6 225.2l-.24 .14M382.9 225.2l-.24 .12M385.3 225.2l-.24 .1M387.6 225.2l-.24 .08M389.9 225.2l-.24 .06M392.3 225.2l-.23 .04M394.6 225.2l-.23 .03M396.9 225.2l-.22 .01M399.2 225.2l-.21 0M401.6 225.2l-.2 -.01M403.9 225.2l-.19 -.02M406.2 225.2l-.18 -.03M408.6 225.2l-.17 -.03M410.9 225.2l-.16 -.04M413.2 225.2l-.15 -.04M415.5 225.2l-.14 -.05M417.9 225.2l-.13 -.05M420.2 225.2l-.12 -.05M422.5 225.2l-.12 -.05M424.9 225.2l-.11 -.06M427.2 225.2l-.1 -.06M429.5 225.2l-.09 -.06M431.8 225.2l-.09 -.06M434.2 225.2l-.08 -.06M436.5 225.2l-.08 -.06M438.8 225.2l-.07 -.06M441.2 225.2l-.07 -.06M443.5 225.2l-.06 -.06M445.8 225.2l-.06 -.05M448.1 225.2l-.05 -.05M450.5 225.2l-.05 -.05M452.8 225.2l-.05 -.05M455.1 225.2l-.04 -.05M457.4 225.2l-.04 -.05M459.8 225.2l-.04 -.05M462.1 225.2l-.03 -.05M464.4 225.2l-.03 -.05M466.8 225.2l-.03 -.05M469.1 225.2l-.03 -.04M471.4 225.2l-.02 -.04M473.7 225.2l-.02 -.04M476.1 225.2l-.02 -.04M478.4 225.2l-.02 -.04M480.7 225.2l-.02 -.04M483.1 225.2l-.02 -.04M485.4 225.2l-.01 -.04M487.7 225.2l-.01 -.04M490 225.2l-.01 -.03M492.4 225.2l-.01 -.03M494.7 225.2l-.01 -.03M497 225.2l-.01 -.03M499.4 225.2l-.01 -.03M501.7 225.2l-.01 -.03M355 223.2l0 .27M357.3 223.2l-.03 .27M359.7 223.2l-.06 .27M362 223.2l-.08 .26M364.3 223.2l-.11 .25M366.6 223.2l-.13 .24M369 223.2l-.15 .22M371.3 223.2l-.17 .21M373.6 223.2l-.19 .19M376 223.2l-.2 .17M378.3 223.2l-.21 .15M380.6 223.2l-.22 .13M382.9 223.2l-.22 .11M385.3 223.2l-.22 .1M387.6 223.2l-.22 .08M389.9 223.2l-.22 .06M392.3 223.2l-.22 .05M394.6 223.2l-.21 .03M396.9 223.2l-.2 .02M399.2 223.2l-.2 .01M401.6 223.2l-.19 0M403.9 223.2l-.18 -.01M406.2 223.2l-.17 -.02M408.6 223.2l-.16 -.02M410.9 223.2l-.15 -.03M413.2 223.2l-.15 -.03M415.5 223.2l-.14 -.04M417.9 223.2l-.13 -.04M420.2 223.2l-.12 -.04M422.5 223.2l-.11 -.05M424.9 223.2l-.11 -.05M427.2 223.2l-.1 -.05M429.5 223.2l-.09 -.05M431.8 223.2l-.09 -.05M434.2 223.2l-.08 -.05M436.5 223.2l-.08 -.05M438.8 223.2l-.07 -.05M441.2 223.2l-.07 -.05M443.5 223.2l-.06 -.05M445.8 223.2l-.06 -.05M448.1 223.2l-.05 -.05M450.5 223.2l-.05 -.05M452.8 223.2l-.05 -.05M455.1 223.2l-.04 -.05M457.4 223.2l-.04 -.05M459.8 223.2l-.04 -.05M462.1 223.2l-.03 -.05M464.4 223.2l-.03 -.04M466.8 223.2l-.03 -.04M469.1 223.2l-.03 -.04M471.4 223.2l-.03 -.04M473.7 223.2l-.02 -.04M476.1 223.2l-.02 -.04M478.4 223.2l-.02 -.04M480.7 223.2l-.02 -.04M483.1 223.2l-.02 -.04M485.4 223.2l-.02 -.04M487.7 223.2l-.01 -.03M490 223.2l-.01 -.03M492.4 223.2l-.01 -.03M494.7 223.2l-.01 -.03M497 223.2l-.01 -.03M499.4 223.2l-.01 -.03M501.7 223.2l-.01 -.03M355 221.2l0 .25M357.3 221.2l-.03 .25M359.7 221.2l-.05 .24M362 221.2l-.07 .24M364.3 221.2l-.1 .23M366.6 221.2l-.12 .22M369 221.2l-.14 .21M371.3 221.2l-.15 .19M373.6 221.2l-.17 .18M376 221.2l-.18 .16M378.3 221.2l-.19 .15M380.6 221.2l-.2 .13M382.9 221.2l-.2 .11M385.3 221.2l-.2 .1M387.6 221.2l-.2 .08M389.9 221.2l-.2 .07M392.3 221.2l-.2 .05M394.6 221.2l-.2 .04M396.9 221.2l-.19 .03M399.2 221.2l-.18 .02M401.6 221.2l-.18 .01M403.9 221.2l-.17 0M406.2 221.2l-.16 -.01M408.6 221.2l-.16 -.02M410.9 221.2l-.15 -.02M413.2 221.2l-.14 -.03M415.5 221.2l-.13 -.03M417.9 221.2l-.13 -.04M420.2 221.2l-.12 -.04M422.5 221.2l-.11 -.04M424.9 221.2l-.1 -.04M427.2 221.2l-.1 -.04M429.5 221.2l-.09 -.05M431.8 221.2l-.09 -.05M434.2 221.2l-.08 -.05M436.5 221.2l-.08 -.05M438.8 221.2l-.07 -.05M441.2 221.2l-.07 -.05M443.5 221.2l-.06 -.05M445.8 221.2l-.06 -.05M448.1 221.2l-.05 -.05M450.5 221.2l-.05 -.05M452.8 221.2l-.05 -.05M455.1 221.2l-.04 -.05M457.4 221.2l-.04 -.04M459.8 221.2l-.04 -.04M462.1 221.2l-.04 -.04M464.4 221.2l-.03 -.04M466.8 221.2l-.03 -.04M469.1 221.2l-.03 -.04M471.4 221.2l-.03 -.04M473.7 221.2l-.02 -.04M476.1 221.2l-.02 -.04M478.4 221.2l-.02 -.04M480.7 221.2l-.02 -.04M483.1 221.2l-.02 -.04M485.4 221.2l-.02 -.03M487.7 221.2l-.02 -.03M490 221.2l-.01 -.03M492.4 221.2l-.01 -.03M494.7 221.2l-.01 -.03M497 221.2l-.01 -.03M499.4 221.2l-.01 -.03M501.7 221.2l-.01 -.03M355 219.2l0 .23M357.3 219.2l-.02 .23M359.7 219.2l-.04 .22M362 219.2l-.07 .22M364.3 219.2l-.09 .21M366.6 219.2l-.1 .2M369 219.2l-.12 .19M371.3 219.2l-.14 .18M373.6 219.2l-.15 .17M376 219.2l-.16 .15M378.3 219.2l-.17 .14M380.6 219.2l-.18 .12M382.9 219.2l-.18 .11M385.3 219.2l-.19 .09M387.6 219.2l-.19 .08M389.9 219.2l-.19 .07M392.3 219.2l-.18 .05M394.6 219.2l-.18 .04M396.9 219.2l-.18 .03M399.2 219.2l-.17 .02M401.6 219.2l-.17 .01M403.9 219.2l-.16 0M406.2 219.2l-.15 0M408.6 219.2l-.15 -.01M410.9 219.2l-.14 -.02M413.2 219.2l-.13 -.02M415.5 219.2l-.13 -.03M417.9 219.2l-.12 -.03M420.2 219.2l-.11 -.03M422.5 219.2l-.11 -.04M424.9 219.2l-.1 -.04M427.2 219.2l-.1 -.04M429.5 219.2l-.09 -.04M431.8 219.2l-.09 -.04M434.2 219.2l-.08 -.04M436.5 219.2l-.08 -.04M438.8 219.2l-.07 -.04M441.2 219.2l-.07 -.04M443.5 219.2l-.06 -.04M445.8 219.2l-.06 -.04M448.1 219.2l-.05 -.04M450.5 219.2l-.05 -.04M452.8 219.2l-.05 -.04M455.1 219.2l-.04 -.04M457.4 219.2l-.04 -.04M459.8 219.2l-.04 -.04M462.1 219.2l-.04 -.04M464.4 219.2l-.03 -.04M466.8 219.2l-.03 -.04M469.1 219.2l-.03 -.04M471.4 219.2l-.03 -.04M473.7 219.2l-.03 -.04M476.1 219.2l-.02 -.04M478.4 219.2l-.02 -.04M480.7 219.2l-.02 -.03M483.1 219.2l-.02 -.03M485.4 219.2l-.02 -.03M487.7 219.2l-.02 -.03M490 219.2l-.02 -.03M492.4 219.2l-.01 -.03M494.7 219.2l-.01 -.03M497 219.2l-.01 -.03M499.4 219.2l-.01 -.03M501.7 219.2l-.01 -.03M355 217.2l0 .21M357.3 217.2l-.02 .21M359.7 217.2l-.04 .21M362 217.2l-.06 .2M364.3 217.2l-.08 .2M366.6 217.2l-.09 .19M369 217.2l-.11 .18M371.3 217.2l-.12 .17M373.6 217.2l-.14 .16M376 217.2l-.15 .14M378.3 217.2l-.15 .13M380.6 217.2l-.16 .12M382.9 217.2l-.17 .11M385.3 217.2l-.17 .09M387.6 217.2l-.17 .08M389.9 217.2l-.17 .07M392.3 217.2l-.17 .06M394.6 217.2l-.17 .04M396.9 217.2l-.17 .03M399.2 217.2l-.16 .02M401.6 217.2l-.16 .02M403.9 217.2l-.15 .01M406.2 217.2l-.15 0M408.6 217.2l-.14 -.01M410.9 217.2l-.14 -.01M413.2 217.2l-.13 -.02M415.5 217.2l-.12 -.02M417.9 217.2l-.12 -.02M420.2 217.2l-.11 -.03M422.5 217.2l-.11 -.03M424.9 217.2l-.1 -.03M427.2 217.2l-.09 -.03M429.5 217.2l-.09 -.04M431.8 217.2l-.08 -.04M434.2 217.2l-.08 -.04M436.5 217.2l-.07 -.04M438.8 217.2l-.07 -.04M441.2 217.2l-.07 -.04M443.5 217.2l-.06 -.04M445.8 217.2l-.06 -.04M448.1 217.2l-.05 -.04M450.5 217.2l-.05 -.04M452.8 217.2l-.05 -.04M455.1 217.2l-.05 -.04M457.4 217.2l-.04 -.04M459.8 217.2l-.04 -.04M462.1 217.2l-.04 -.04M464.4 217.2l-.03 -.04M466.8 217.2l-.03 -.04M469.1 217.2l-.03 -.04M471.4 217.2l-.03 -.04M473.7 217.2l-.03 -.04M476.1 217.2l-.02 -.03M478.4 217.2l-.02 -.03M480.7 217.2l-.02 -.03M483.1 217.2l-.02 -.03M485.4 217.2l-.02 -.03M487.7 217.2l-.02 -.03M490 217.2l-.02 -.03M492.4 217.2l-.01 -.03M494.7 217.2l-.01 -.03M497 217.2l-.01 -.03M499.4 217.2l-.01 -.03M501.7 217.2l-.01 -.03M355 215.2l0 .19M357.3 215.2l-.02 .19M359.7 215.2l-.04 .19M362 215.2l-.05 .19M364.3 215.2l-.07 .18M366.6 215.2l-.08 .17M369 215.2l-.1 .17M371.3 215.2l-.11 .16M373.6 215.2l-.12 .15M376 215.2l-.13 .14M378.3 215.2l-.14 .12M380.6 215.2l-.15 .11M382.9 215.2l-.15 .1M385.3 215.2l-.16 .09M387.6 215.2l-.16 .08M389.9 215.2l-.16 .07M392.3 215.2l-.16 .06M394.6 215.2l-.16 .05M396.9 215.2l-.15 .04M399.2 215.2l-.15 .03M401.6 215.2l-.15 .02M403.9 215.2l-.14 .01M406.2 215.2l-.14 .01M408.6 215.2l-.13 0M410.9 215.2l-.13 -.01M413.2 215.2l-.12 -.01M415.5 215.2l-.12 -.02M417.9 215.2l-.11 -.02M420.2 215.2l-.11 -.02M422.5 215.2l-.1 -.03M424.9 215.2l-.1 -.03M427.2 215.2l-.09 -.03M429.5 215.2l-.09 -.03M431.8 215.2l-.08 -.03M434.2 215.2l-.08 -.03M436.5 215.2l-.07 -.04M438.8 215.2l-.07 -.04M441.2 215.2l-.07 -.04M443.5 215.2l-.06 -.04M445.8 215.2l-.06 -.04M448.1 215.2l-.05 -.04M450.5 215.2l-.05 -.04M452.8 215.2l-.05 -.04M455.1 215.2l-.05 -.04M457.4 215.2l-.04 -.04M459.8 215.2l-.04 -.04M462.1 215.2l-.04 -.04M464.4 215.2l-.04 -.04M466.8 215.2l-.03 -.04M469.1 215.2l-.03 -.04M471.4 215.2l-.03 -.03M473.7 215.2l-.03 -.03M476.1 215.2l-.03 -.03M478.4 215.2l-.02 -.03M480.7 215.2l-.02 -.03M483.1 215.2l-.02 -.03M485.4 215.2l-.02 -.03M487.7 215.2l-.02 -.03M490 215.2l-.02 -.03M492.4 215.2l-.02 -.03M494.7 215.2l-.01 -.03M497 215.2l-.01 -.03M499.4 215.2l-.01 -.03M501.7 215.2l-.01 -.03M355 213.2l0 .18M357.3 213.2l-.02 .18M359.7 213.2l-.03 .18M362 213.2l-.05 .17M364.3 213.2l-.06 .17M366.6 213.2l-.08 .16M369 213.2l-.09 .16M371.3 213.2l-.1 .15M373.6 213.2l-.11 .14M376 213.2l-.12 .13M378.3 213.2l-.13 .12M380.6 213.2l-.13 .11M382.9 213.2l-.14 .1M385.3 213.2l-.14 .09M387.6 213.2l-.15 .08M389.9 213.2l-.15 .07M392.3 213.2l-.15 .06M394.6 213.2l-.15 .05M396.9 213.2l-.14 .04M399.2 213.2l-.14 .03M401.6 213.2l-.14 .02M403.9 213.2l-.14 .02M406.2 213.2l-.13 .01M408.6 213.2l-.13 0M410.9 213.2l-.12 0M413.2 213.2l-.12 -.01M415.5 213.2l-.11 -.01M417.9 213.2l-.11 -.02M420.2 213.2l-.1 -.02M422.5 213.2l-.1 -.02M424.9 213.2l-.09 -.02M427.2 213.2l-.09 -.03M429.5 213.2l-.09 -.03M431.8 213.2l-.08 -.03M434.2 213.2l-.08 -.03M436.5 213.2l-.07 -.03M438.8 213.2l-.07 -.03M441.2 213.2l-.06 -.03M443.5 213.2l-.06 -.03M445.8 213.2l-.06 -.03M448.1 213.2l-.05 -.04M450.5 213.2l-.05 -.04M452.8 213.2l-.05 -.04M455.1 213.2l-.05 -.04M457.4 213.2l-.04 -.04M459.8 213.2l-.04 -.03M462.1 213.2l-.04 -.03M464.4 213.2l-.04 -.03M466.8 213.2l-.03 -.03M469.1 213.2l-.03 -.03M471.4 213.2l-.03 -.03M473.7 213.2l-.03 -.03M476.1 213.2l-.03 -.03M478.4 213.2l-.02 -.03M480.7 213.2l-.02 -.03M483.1 213.2l-.02 -.03M485.4 213.2l-.02 -.03M487.7 213.2l-.02 -.03M490 213.2l-.02 -.03M492.4 213.2l-.02 -.03M494.7 213.2l-.02 -.03M497 213.2l-.01 -.03M499.4 213.2l-.01 -.03M501.7 213.2l-.01 -.03M355 211.2l0 .17M357.3 211.2l-.01 .17M359.7 211.2l-.03 .16M362 211.2l-.04 .16M364.3 211.2l-.06 .16M366.6 211.2l-.07 .15M369 211.2l-.08 .15M371.3 211.2l-.09 .14M373.6 211.2l-.1 .13M376 211.2l-.11 .12M378.3 211.2l-.12 .11M380.6 211.2l-.12 .1M382.9 211.2l-.13 .09M385.3 211.2l-.13 .08M387.6 211.2l-.13 .08M389.9 211.2l-.14 .07M392.3 211.2l-.14 .06M394.6 211.2l-.14 .05M396.9 211.2l-.13 .04M399.2 211.2l-.13 .03M401.6 211.2l-.13 .03M403.9 211.2l-.13 .02M406.2 211.2l-.12 .01M408.6 211.2l-.12 .01M410.9 211.2l-.12 0M413.2 211.2l-.11 0M415.5 211.2l-.11 -.01M417.9 211.2l-.1 -.01M420.2 211.2l-.1 -.01M422.5 211.2l-.1 -.02M424.9 211.2l-.09 -.02M427.2 211.2l-.09 -.02M429.5 211.2l-.08 -.02M431.8 211.2l-.08 -.03M434.2 211.2l-.08 -.03M436.5 211.2l-.07 -.03M438.8 211.2l-.07 -.03M441.2 211.2l-.06 -.03M443.5 211.2l-.06 -.03M445.8 211.2l-.06 -.03M448.1 211.2l-.05 -.03M450.5 211.2l-.05 -.03M452.8 211.2l-.05 -.03M455.1 211.2l-.05 -.03M457.4 211.2l-.04 -.03M459.8 211.2l-.04 -.03M462.1 211.2l-.04 -.03M464.4 211.2l-.04 -.03M466.8 211.2l-.03 -.03M469.1 211.2l-.03 -.03M471.4 211.2l-.03 -.03M473.7 211.2l-.03 -.03M476.1 211.2l-.03 -.03M478.4 211.2l-.02 -.03M480.7 211.2l-.02 -.03M483.1 211.2l-.02 -.03M485.4 211.2l-.02 -.03M487.7 211.2l-.02 -.03M490 211.2l-.02 -.03M492.4 211.2l-.02 -.03M494.7 211.2l-.02 -.03M497 211.2l-.01 -.03M499.4 211.2l-.01 -.03M501.7 211.2l-.01 -.03M355 209.2l0 .16M357.3 209.2l-.01 .15M359.7 209.2l-.03 .15M362 209.2l-.04 .15M364.3 209.2l-.05 .15M366.6 209.2l-.06 .14M369 209.2l-.07 .14M371.3 209.2l-.08 .13M373.6 209.2l-.09 .12M376 209.2l-.1 .12M378.3 209.2l-.11 .11M380.6 209.2l-.11 .1M382.9 209.2l-.12 .09M385.3 209.2l-.12 .08M387.6 209.2l-.12 .07M389.9 209.2l-.13 .07M392.3 209.2l-.13 .06M394.6 209.2l-.13 .05M396.9 209.2l-.13 .04M399.2 209.2l-.12 .03M401.6 209.2l-.12 .03M403.9 209.2l-.12 .02M406.2 209.2l-.12 .02M408.6 209.2l-.11 .01M410.9 209.2l-.11 0M413.2 209.2l-.11 0M415.5 209.2l-.1 0M417.9 209.2l-.1 -.01M420.2 209.2l-.1 -.01M422.5 209.2l-.09 -.01M424.9 209.2l-.09 -.02M427.2 209.2l-.08 -.02M429.5 209.2l-.08 -.02M431.8 209.2l-.08 -.02M434.2 209.2l-.07 -.02M436.5 209.2l-.07 -.03M438.8 209.2l-.07 -.03M441.2 209.2l-.06 -.03M443.5 209.2l-.06 -.03M445.8 209.2l-.06 -.03M448.1 209.2l-.05 -.03M450.5 209.2l-.05 -.03M452.8 209.2l-.05 -.03M455.1 209.2l-.05 -.03M457.4 209.2l-.04 -.03M459.8 209.2l-.04 -.03M462.1 209.2l-.04 -.03M464.4 209.2l-.04 -.03M466.8 209.2l-.03 -.03M469.1 209.2l-.03 -.03M471.4 209.2l-.03 -.03M473.7 209.2l-.03 -.03M476.1 209.2l-.03 -.03M478.4 209.2l-.03 -.03M480.7 209.2l-.02 -.03M483.1 209.2l-.02 -.03M485.4 209.2l-.02 -.03M487.7 209.2l-.02 -.03M490 209.2l-.02 -.03M492.4 209.2l-.02 -.03M494.7 209.2l-.02 -.03M497 209.2l-.02 -.03M499.4 209.2l-.01 -.02M501.7 209.2l-.01 -.02M355 207.3l0 .14M357.3 207.3l-.01 .14M359.7 207.3l-.02 .14M362 207.3l-.03 .14M364.3 207.3l-.05 .14M366.6 207.3l-.06 .13M369 207.3l-.07 .13M371.3 207.3l-.08 .12M373.6 207.3l-.08 .12M376 207.3l-.09 .11M378.3 207.3l-.1 .1M380.6 207.3l-.1 .09M382.9 207.3l-.11 .09M385.3 207.3l-.11 .08M387.6 207.3l-.11 .07M389.9 207.3l-.12 .06M392.3 207.3l-.12 .06M394.6 207.3l-.12 .05M396.9 207.3l-.12 .04M399.2 207.3l-.12 .04M401.6 207.3l-.12 .03M403.9 207.3l-.11 .02M406.2 207.3l-.11 .02M408.6 207.3l-.11 .01M410.9 207.3l-.11 .01M413.2 207.3l-.1 0M415.5 207.3l-.1 0M417.9 207.3l-.1 0M420.2 207.3l-.09 -.01M422.5 207.3l-.09 -.01M424.9 207.3l-.09 -.01M427.2 207.3l-.08 -.02M429.5 207.3l-.08 -.02M431.8 207.3l-.08 -.02M434.2 207.3l-.07 -.02M436.5 207.3l-.07 -.02M438.8 207.3l-.07 -.02M441.2 207.3l-.06 -.03M443.5 207.3l-.06 -.03M445.8 207.3l-.06 -.03M448.1 207.3l-.05 -.03M450.5 207.3l-.05 -.03M452.8 207.3l-.05 -.03M455.1 207.3l-.05 -.03M457.4 207.3l-.04 -.03M459.8 207.3l-.04 -.03M462.1 207.3l-.04 -.03M464.4 207.3l-.04 -.03M466.8 207.3l-.03 -.03M469.1 207.3l-.03 -.03M471.4 207.3l-.03 -.03M473.7 207.3l-.03 -.03M476.1 207.3l-.03 -.03M478.4 207.3l-.03 -.03M480.7 207.3l-.02 -.03M483.1 207.3l-.02 -.03M485.4 207.3l-.02 -.03M487.7 207.3l-.02 -.03M490 207.3l-.02 -.03M492.4 207.3l-.02 -.03M494.7 207.3l-.02 -.02M497 207.3l-.02 -.02M499.4 207.3l-.01 -.02M501.7 207.3l-.01 -.02M355 205.3l0 .13M357.3 205.3l-.01 .13M359.7 205.3l-.02 .13M362 205.3l-.03 .13M364.3 205.3l-.04 .13M366.6 205.3l-.05 .12M369 205.3l-.06 .12M371.3 205.3l-.07 .11M373.6 205.3l-.08 .11M376 205.3l-.08 .1M378.3 205.3l-.09 .1M380.6 205.3l-.09 .09M382.9 205.3l-.1 .08M385.3 205.3l-.1 .08M387.6 205.3l-.11 .07M389.9 205.3l-.11 .06M392.3 205.3l-.11 .06M394.6 205.3l-.11 .05M396.9 205.3l-.11 .04M399.2 205.3l-.11 .04M401.6 205.3l-.11 .03M403.9 205.3l-.11 .02M406.2 205.3l-.11 .02M408.6 205.3l-.1 .01M410.9 205.3l-.1 .01M413.2 205.3l-.1 .01M415.5 205.3l-.1 0M417.9 205.3l-.09 0M420.2 205.3l-.09 -.01M422.5 205.3l-.09 -.01M424.9 205.3l-.08 -.01M427.2 205.3l-.08 -.01M429.5 205.3l-.08 -.02M431.8 205.3l-.07 -.02M434.2 205.3l-.07 -.02M436.5 205.3l-.07 -.02M438.8 205.3l-.06 -.02M441.2 205.3l-.06 -.02M443.5 205.3l-.06 -.02M445.8 205.3l-.06 -.02M448.1 205.3l-.05 -.03M450.5 205.3l-.05 -.03M452.8 205.3l-.05 -.03M455.1 205.3l-.05 -.03M457.4 205.3l-.04 -.03M459.8 205.3l-.04 -.03M462.1 205.3l-.04 -.03M464.4 205.3l-.04 -.03M466.8 205.3l-.03 -.03M469.1 205.3l-.03 -.03M471.4 205.3l-.03 -.03M473.7 205.3l-.03 -.03M476.1 205.3l-.03 -.03M478.4 205.3l-.03 -.03M480.7 205.3l-.02 -.03M483.1 205.3l-.02 -.03M485.4 205.3l-.02 -.03M487.7 205.3l-.02 -.02M490 205.3l-.02 -.02M492.4 205.3l-.02 -.02M494.7 205.3l-.02 -.02M497 205.3l-.02 -.02M499.4 205.3l-.02 -.02M501.7 205.3l-.01 -.02M355 203.3l0 .13M357.3 203.3l-.01 .13M359.7 203.3l-.02 .12M362 203.3l-.03 .12M364.3 203.3l-.04 .12M366.6 203.3l-.05 .12M369 203.3l-.06 .11M371.3 203.3l-.06 .11M373.6 203.3l-.07 .1M376 203.3l-.08 .1M378.3 203.3l-.08 .09M380.6 203.3l-.09 .09M382.9 203.3l-.09 .08M385.3 203.3l-.09 .07M387.6 203.3l-.1 .07M389.9 203.3l-.1 .06M392.3 203.3l-.1 .05M394.6 203.3l-.1 .05M396.9 203.3l-.1 .04M399.2 203.3l-.1 .04M401.6 203.3l-.1 .03M403.9 203.3l-.1 .03M406.2 203.3l-.1 .02M408.6 203.3l-.1 .02M410.9 203.3l-.1 .01M413.2 203.3l-.09 .01M415.5 203.3l-.09 0M417.9 203.3l-.09 0M420.2 203.3l-.09 0M422.5 203.3l-.08 -.01M424.9 203.3l-.08 -.01M427.2 203.3l-.08 -.01M429.5 203.3l-.07 -.01M431.8 203.3l-.07 -.01M434.2 203.3l-.07 -.02M436.5 203.3l-.07 -.02M438.8 203.3l-.06 -.02M441.2 203.3l-.06 -.02M443.5 203.3l-.06 -.02M445.8 203.3l-.05 -.02M448.1 203.3l-.05 -.02M450.5 203.3l-.05 -.02M452.8 203.3l-.05 -.02M455.1 203.3l-.04 -.02M457.4 203.3l-.04 -.02M459.8 203.3l-.04 -.03M462.1 203.3l-.04 -.03M464.4 203.3l-.04 -.03M466.8 203.3l-.03 -.03M469.1 203.3l-.03 -.03M471.4 203.3l-.03 -.03M473.7 203.3l-.03 -.03M476.1 203.3l-.03 -.03M478.4 203.3l-.03 -.02M480.7 203.3l-.02 -.02M483.1 203.3l-.02 -.02M485.4 203.3l-.02 -.02M487.7 203.3l-.02 -.02M490 203.3l-.02 -.02M492.4 203.3l-.02 -.02M494.7 203.3l-.02 -.02M497 203.3l-.02 -.02M499.4 203.3l-.02 -.02M501.7 203.3l-.01 -.02M355 201.3l0 .12M357.3 201.3l-.01 .12M359.7 201.3l-.02 .12M362 201.3l-.03 .11M364.3 201.3l-.03 .11M366.6 201.3l-.04 .11M369 201.3l-.05 .11M371.3 201.3l-.06 .1M373.6 201.3l-.06 .1M376 201.3l-.07 .09M378.3 201.3l-.08 .09M380.6 201.3l-.08 .08M382.9 201.3l-.08 .08M385.3 201.3l-.09 .07M387.6 201.3l-.09 .07M389.9 201.3l-.09 .06M392.3 201.3l-.09 .05M394.6 201.3l-.1 .05M396.9 201.3l-.1 .04M399.2 201.3l-.1 .04M401.6 201.3l-.1 .03M403.9 201.3l-.09 .03M406.2 201.3l-.09 .02M408.6 201.3l-.09 .02M410.9 201.3l-.09 .01M413.2 201.3l-.09 .01M415.5 201.3l-.09 .01M417.9 201.3l-.08 0M420.2 201.3l-.08 0M422.5 201.3l-.08 0M424.9 201.3l-.08 -.01M427.2 201.3l-.07 -.01M429.5 201.3l-.07 -.01M431.8 201.3l-.07 -.01M434.2 201.3l-.07 -.01M436.5 201.3l-.06 -.02M438.8 201.3l-.06 -.02M441.2 201.3l-.06 -.02M443.5 201.3l-.06 -.02M445.8 201.3l-.05 -.02M448.1 201.3l-.05 -.02M450.5 201.3l-.05 -.02M452.8 201.3l-.05 -.02M455.1 201.3l-.04 -.02M457.4 201.3l-.04 -.02M459.8 201.3l-.04 -.02M462.1 201.3l-.04 -.02M464.4 201.3l-.04 -.02M466.8 201.3l-.03 -.02M469.1 201.3l-.03 -.02M471.4 201.3l-.03 -.02M473.7 201.3l-.03 -.02M476.1 201.3l-.03 -.02M478.4 201.3l-.03 -.02M480.7 201.3l-.03 -.02M483.1 201.3l-.02 -.02M485.4 201.3l-.02 -.02M487.7 201.3l-.02 -.02M490 201.3l-.02 -.02M492.4 201.3l-.02 -.02M494.7 201.3l-.02 -.02M497 201.3l-.02 -.02M499.4 201.3l-.02 -.02M501.7 201.3l-.02 -.02" fill="none" stroke="#000" stroke-opacity="0.8" stroke-width="0.38" stroke-linecap="round"/>
<path d="M359.7 275.1L360.1 276.5L359.7 276.1M360.1 276.5L360.2 276M362 275.1L362.7 276.5L362.2 276.1M362.7 276.5L362.6 275.9M364.3 275.1L365.2 276.4L364.7 276.1M365.2 276.4L365.1 275.8M366.6 275.1L367.8 276.3L367.2 276.1M367.8 276.3L367.6 275.7M369 275.1L370.4 276.1L369.7 276M370.4 276.1L370.1 275.5M371.3 275.1L372.9 275.8L372.2 275.8M372.9 275.8L372.5 275.3M373.6 275.1L375.3 275.5L374.6 275.7M375.3 275.5L374.8 275.1M376 275.1L377.6 275.2L377 275.5M377.6 275.2L377 274.9M355 273.1L355 274.8L354.7 274.2M355 274.8L355.3 274.2M357.3 273.1L357.5 274.8L357.2 274.2M357.5 274.8L357.7 274.1M359.7 273.1L360.1 274.8L359.7 274.3M360.1 274.8L360.2 274.1M362 273.1L362.7 274.7L362.2 274.3M362.7 274.7L362.7 274.1M364.3 273.1L365.3 274.7L364.7 274.3M365.3 274.7L365.2 274M366.6 273.1L368 274.6L367.3 274.3M368 274.6L367.8 273.8M369 273.1L370.7 274.3L369.9 274.2M370.7 274.3L370.3 273.6M371.3 273.1L373.3 274L372.5 274M373.3 274L372.7 273.4M373.6 273.1L375.7 273.5L374.9 273.7M375.7 273.5L375.1 273.1M376 273.1L378 273.1L377.3 273.4M378 273.1L377.3 272.8M378.3 273.1L380 272.8L379.5 273.2M380 272.8L379.4 272.6M380.6 273.1L382.1 272.6L381.6 273M382.1 272.6L381.5 272.6M355 271.1L355 273L354.7 272.3M355 273L355.3 272.3M357.3 271.1L357.5 273L357.2 272.3M357.5 273L357.8 272.3M359.7 271.1L360.1 273L359.7 272.4M360.1 273L360.2 272.3M362 271.1L362.7 273L362.2 272.5M362.7 273L362.8 272.2M364.3 271.1L365.4 273L364.7 272.5M365.4 273L365.3 272.2M366.6 271.1L368.2 272.9L367.4 272.6M368.2 272.9L367.9 272.1M369 271.1L371.1 272.7L370.1 272.5M371.1 272.7L370.6 271.8M371.3 271.1L373.9 272.2L372.8 272.3M373.9 272.2L373.2 271.4M373.6 271.1L376.4 271.5L375.4 271.8M376.4 271.5L375.5 270.9M376 271.1L378.5 270.9L377.6 271.4M378.5 270.9L377.6 270.6M378.3 271.1L380.3 270.5L379.7 271M380.3 270.5L379.5 270.4M380.6 271.1L382.2 270.3L381.8 270.8M382.2 270.3L381.5 270.3M355 269.1L355 271.1L354.7 270.4M355 271.1L355.3 270.4M357.3 269.1L357.5 271.1L357.1 270.5M357.5 271.1L357.8 270.4M359.7 269.1L360 271.2L359.6 270.5M360 271.2L360.2 270.4M362 269.1L362.6 271.3L362.1 270.6M362.6 271.3L362.8 270.4M364.3 269.1L365.4 271.4L364.6 270.8M365.4 271.4L365.4 270.4M366.6 269.1L368.3 271.5L367.3 270.9M368.3 271.5L368.1 270.4M378.3 269.1L380.6 267.9L380 268.7M380.6 267.9L379.6 267.9M380.6 269.1L382.2 267.8L381.8 268.5M382.2 267.8L381.4 268M382.9 269.1L384 268L383.8 268.5M384 268L383.5 268.2M355 267.1L355 269.3L354.7 268.5M355 269.3L355.3 268.5M357.3 267.1L357.5 269.3L357.1 268.6M357.5 269.3L357.8 268.5M359.7 267.1L359.9 269.4L359.5 268.6M359.9 269.4L360.2 268.5M362 267.1L362.5 269.5L361.9 268.8M362.5 269.5L362.7 268.6M364.3 267.1L365.1 269.8L364.4 269M365.1 269.8L365.3 268.7M380.6 267.1L381.9 265.3L381.8 266.1M381.9 265.3L381.2 265.7M382.9 267.1L383.8 265.6L383.7 266.3M383.8 265.6L383.2 266M355 265.1L355 267.3L354.6 266.6M355 267.3L355.4 266.6M357.3 265.1L357.4 267.4L357 266.6M357.4 267.4L357.7 266.6M359.7 265.1L359.8 267.5L359.4 266.7M359.8 267.5L360.1 266.6M362 265.1L362.2 267.7L361.7 266.8M362.2 267.7L362.5 266.8M364.3 265.1L364.7 268.1L364.1 267.1M364.7 268.1L365 267M380.6 265.1L381.2 262.8L381.4 263.7M381.2 262.8L380.6 263.5M382.9 265.1L383.3 263.4L383.4 264.1M383.3 263.4L382.9 264M355 263.1L355 265.3L354.6 264.6M355 265.3L355.4 264.6M357.3 263.1L357.3 265.4L356.9 264.6M357.3 265.4L357.7 264.6M359.7 263.1L359.6 265.5L359.2 264.7M359.6 265.5L360 264.7M362 263.1L361.8 265.7L361.5 264.8M361.8 265.7L362.3 264.8M364.3 263.1L364.1 266.1L363.7 265M364.1 266.1L364.6 265.1M380.6 263.1L380.2 260.8L380.7 261.5M380.2 260.8L380 261.7M382.9 263.1L382.7 261.4L383.1 262M382.7 261.4L382.5 262.1M355 261.1L355 263.3L354.7 262.5M355 263.3L355.3 262.5M357.3 261.1L357.2 263.3L356.9 262.5M357.2 263.3L357.6 262.6M359.7 261.1L359.4 263.4L359.1 262.6M359.4 263.4L359.9 262.7M362 261.1L361.5 263.6L361.3 262.7M361.5 263.6L362.1 262.8M364.3 261.1L363.6 263.9L363.4 262.8M363.6 263.9L364.3 263M380.6 261.1L379.4 259.2L380.1 259.7M379.4 259.2L379.5 260.1M382.9 261.1L382.2 259.6L382.7 260M382.2 259.6L382.2 260.3M355 259.1L355 261.2L354.7 260.5M355 261.2L355.3 260.5M357.3 259.1L357.2 261.2L356.9 260.4M357.2 261.2L357.5 260.5M359.7 259.1L359.3 261.2L359.1 260.5M359.3 261.2L359.7 260.6M362 259.1L361.3 261.3L361.2 260.5M361.3 261.3L361.9 260.7M364.3 259.1L363.3 261.5L363.3 260.5M363.3 261.5L364 260.8M366.6 259.1L365 261.6L365.2 260.5M365 261.6L366 261M378.3 259.1L375.9 257.8L377 257.9M375.9 257.8L376.5 258.6M380.6 259.1L379.1 257.8L379.8 258M379.1 257.8L379.4 258.5M382.9 259.1L381.9 258L382.5 258.2M381.9 258L382.1 258.5M355 257.1L355 259L354.7 258.4M355 259L355.3 258.4M357.3 257.1L357.1 259L356.9 258.3M357.1 259L357.5 258.4M359.7 257.1L359.2 259L359.1 258.3M359.2 259L359.7 258.5M362 257.1L361.3 259.1L361.2 258.3M361.3 259.1L361.8 258.5M364.3 257.1L363.2 259.1L363.3 258.2M363.2 259.1L363.9 258.6M366.6 257.1L365.1 259L365.3 258.1M365.1 259L365.9 258.6M369 257.1L366.8 258.8L367.3 257.9M366.8 258.8L367.8 258.6M371.3 257.1L368.6 258.3L369.4 257.5M368.6 258.3L369.8 258.3M373.6 257.1L370.8 257.6L371.7 257M370.8 257.6L371.8 257.9M376 257.1L373.3 256.9L374.3 256.5M373.3 256.9L374.2 257.4M378.3 257.1L376.2 256.4L377 256.4M376.2 256.4L376.8 257M380.6 257.1L379.1 256.3L379.7 256.3M379.1 256.3L379.5 256.8M355 255.2L355 256.8L354.7 256.2M355 256.8L355.3 256.2M357.3 255.2L357.1 256.8L356.9 256.2M357.1 256.8L357.5 256.3M359.7 255.2L359.2 256.8L359.1 256.2M359.2 256.8L359.6 256.3M362 255.2L361.3 256.8L361.3 256.1M361.3 256.8L361.8 256.4M364.3 255.2L363.3 256.8L363.4 256M363.3 256.8L363.9 256.4M366.6 255.2L365.3 256.7L365.5 255.9M365.3 256.7L366 256.4M369 255.2L367.2 256.4L367.6 255.7M367.2 256.4L368 256.3M371.3 255.2L369.2 256.1L369.8 255.4M369.2 256.1L370.1 256.1M373.6 255.2L371.5 255.6L372.2 255.1M371.5 255.6L372.3 255.8M376 255.2L373.9 255.1L374.6 254.8M373.9 255.1L374.6 255.5M378.3 255.2L376.5 254.8L377.2 254.7M376.5 254.8L377.1 255.2M380.6 255.2L379.2 254.6L379.8 254.6M379.2 254.6L379.6 255M357.3 253.2L357.1 254.7L357 254.1M357.1 254.7L357.4 254.2M359.7 253.2L359.2 254.6L359.1 254M359.2 254.6L359.6 254.2M362 253.2L361.3 254.6L361.3 254M361.3 254.6L361.8 254.2M364.3 253.2L363.4 254.5L363.5 253.9M363.4 254.5L363.9 254.2M366.6 253.2L365.4 254.4L365.7 253.8M365.4 254.4L366.1 254.2M369 253.2L367.5 254.2L367.9 253.6M367.5 254.2L368.2 254.1M371.3 253.2L369.7 253.9L370.1 253.4M369.7 253.9L370.4 253.9M373.6 253.2L371.9 253.6L372.5 253.2M371.9 253.6L372.6 253.7M376 253.2L374.3 253.3L374.9 253M374.3 253.3L374.9 253.5" fill="none" stroke="#000" stroke-opacity="0.85" stroke-width="0.4" stroke-linecap="round"/>
<path d="M369 269.1L371.5 271.4L370.2 271M371.5 271.4L370.9 270.2M371.3 269.1L374.8 270.7L373.3 270.7M374.8 270.7L373.8 269.6M373.6 269.1L377.6 269.5L376.1 270M377.6 269.5L376.2 268.7M376 269.1L379.3 268.3L378.2 269.1M379.3 268.3L378 268.1M366.6 267.1L368.1 270.1L367.1 269.3M368.1 270.1L368 268.9M378.3 267.1L380.6 264.9L380.2 266M380.6 264.9L379.4 265.3M366.6 261.1L365.3 264.3L365.3 263M365.3 264.3L366.3 263.4M378.3 261.1L376.1 258.7L377.2 259.2M376.1 258.7L376.4 259.9M369 259.1L366.4 261.5L367 260.3M366.4 261.5L367.7 261.1M376 259.1L372.5 258.3L373.9 258M372.5 258.3L373.6 259.1" fill="none" stroke="#000" stroke-opacity="1" stroke-width="0.5" stroke-linecap="round"/>
</g></g>
<rect x="506.2" y="201" width="8" height="126" fill="url(#jet)"/>
<g font-size="6.8" fill="#3c3c3c">
<text x="516.8" y="330.2">0</text>
<text x="516.8" y="305">5</text>
<text x="516.8" y="279.8">10</text>
<text x="516.8" y="254.6">15</text>
<text x="516.8" y="229.4">20</text>
<text x="516.8" y="204.2">25</text>
<text transform="translate(533.7 264) rotate(-90)" text-anchor="middle">Velocity (m/s)</text>
</g>
<g font-size="7.3" fill="#3c3c3c">
<text x="355" y="338.1" text-anchor="middle">0</text>
<text x="352" y="330.2" text-anchor="end">0</text>
<text x="393.8" y="338.1" text-anchor="middle">50</text>
<text x="352" y="296.9" text-anchor="end">50</text>
<text x="432.6" y="338.1" text-anchor="middle">100</text>
<text x="352" y="263.7" text-anchor="end">100</text>
<text x="471.4" y="338.1" text-anchor="middle">150</text>
<text x="352" y="230.4" text-anchor="end">150</text>
</g>
<g font-size="8.5" fill="#3c3c3c" text-anchor="middle">
<text x="429.1" y="349.3">X position [m]</text>
<text transform="translate(334.5 263.5) rotate(-90)">Y position [m]</text>
</g>
<g class="cap" font-size="9.4" fill="#111" stroke="#111" stroke-width="0.2">
<text x="5.4" y="172.3" textLength="9.8" lengthAdjust="spacingAndGlyphs" class="b">(a)</text>
<text x="19.3" y="172.3" textLength="33.7" lengthAdjust="spacingAndGlyphs">Medium</text>
<text x="58" y="172.3" textLength="34.1" lengthAdjust="spacingAndGlyphs">airplane;</text>
<text x="97.2" y="172.3" textLength="5" lengthAdjust="spacingAndGlyphs">Γ</text>
<text x="103.1" y="174.1" textLength="3.1" lengthAdjust="spacingAndGlyphs" class="sub">0</text>
<text x="111.2" y="172.3" textLength="5.9" lengthAdjust="spacingAndGlyphs" class="eq">=</text>
<text x="121.7" y="172.3" textLength="13.7" lengthAdjust="spacingAndGlyphs">250</text>
<text x="139.9" y="172.3" textLength="6.6" lengthAdjust="spacingAndGlyphs">m</text>
<text x="147.2" y="168.9" textLength="3.2" lengthAdjust="spacingAndGlyphs" class="sup">2</text>
<text x="151.9" y="172.3" textLength="9.8" lengthAdjust="spacingAndGlyphs">/s;</text>
<text x="166.4" y="172.3" textLength="6.8" lengthAdjust="spacingAndGlyphs" class="i">U</text>
<text x="173.7" y="174.1" textLength="5.3" lengthAdjust="spacingAndGlyphs" class="sub">∞</text>
<text x="184.3" y="172.3" textLength="5.5" lengthAdjust="spacingAndGlyphs" class="eq">=</text>
<text x="194.8" y="172.3" textLength="4.2" lengthAdjust="spacingAndGlyphs">0</text>
<text x="202.7" y="172.3" textLength="19.5" lengthAdjust="spacingAndGlyphs">m/s;</text>
<text x="5.4" y="184.9" textLength="4.7" lengthAdjust="spacingAndGlyphs" class="i">h</text>
<text x="10.1" y="186.7" textLength="3.3" lengthAdjust="spacingAndGlyphs" class="sub">0</text>
<text x="17.4" y="184.9" textLength="6.3" lengthAdjust="spacingAndGlyphs" class="eq">=</text>
<text x="27.2" y="184.9" textLength="9" lengthAdjust="spacingAndGlyphs">45</text>
<text x="39.6" y="184.9" textLength="9.5" lengthAdjust="spacingAndGlyphs">m;</text>
<text x="52.4" y="184.9" textLength="4.7" lengthAdjust="spacingAndGlyphs" class="i">B</text>
<text x="60.6" y="184.9" textLength="6.3" lengthAdjust="spacingAndGlyphs" class="eq">=</text>
<text x="70.9" y="184.9" textLength="15.5" lengthAdjust="spacingAndGlyphs">34.1</text>
<text x="89.9" y="184.9" textLength="9.9" lengthAdjust="spacingAndGlyphs">m.</text>
<text x="329.2" y="170.3" textLength="11.1" lengthAdjust="spacingAndGlyphs" class="b">(b)</text>
<text x="344.8" y="170.3" textLength="26.2" lengthAdjust="spacingAndGlyphs">Heavy</text>
<text x="375.8" y="170.3" textLength="35.5" lengthAdjust="spacingAndGlyphs">airplane;</text>
<text x="416.7" y="170.3" textLength="4.8" lengthAdjust="spacingAndGlyphs">Γ</text>
<text x="422.4" y="172.1" textLength="3.3" lengthAdjust="spacingAndGlyphs" class="sub">0</text>
<text x="430.9" y="170.3" textLength="5.6" lengthAdjust="spacingAndGlyphs" class="eq">=</text>
<text x="442.6" y="170.3" textLength="13.5" lengthAdjust="spacingAndGlyphs">417</text>
<text x="460.6" y="170.3" textLength="6.9" lengthAdjust="spacingAndGlyphs">m</text>
<text x="468.3" y="166.9" textLength="3.2" lengthAdjust="spacingAndGlyphs" class="sup">2</text>
<text x="473.2" y="170.3" textLength="10.1" lengthAdjust="spacingAndGlyphs">/s;</text>
<text x="488.6" y="170.3" textLength="6.4" lengthAdjust="spacingAndGlyphs" class="i">U</text>
<text x="495.5" y="172.1" textLength="5.3" lengthAdjust="spacingAndGlyphs" class="sub">∞</text>
<text x="506.4" y="170.3" textLength="5.9" lengthAdjust="spacingAndGlyphs" class="eq">=</text>
<text x="518.8" y="170.3" textLength="4" lengthAdjust="spacingAndGlyphs">0</text>
<text x="527.2" y="170.3" textLength="18.9" lengthAdjust="spacingAndGlyphs">m/s;</text>
<text x="329.3" y="183" textLength="4.7" lengthAdjust="spacingAndGlyphs" class="i">h</text>
<text x="334" y="184.8" textLength="3.3" lengthAdjust="spacingAndGlyphs" class="sub">0</text>
<text x="341.3" y="183" textLength="6.3" lengthAdjust="spacingAndGlyphs" class="eq">=</text>
<text x="351.1" y="183" textLength="9" lengthAdjust="spacingAndGlyphs">45</text>
<text x="363.5" y="183" textLength="9.5" lengthAdjust="spacingAndGlyphs">m;</text>
<text x="376.3" y="183" textLength="4.7" lengthAdjust="spacingAndGlyphs" class="i">B</text>
<text x="384.5" y="183" textLength="6.3" lengthAdjust="spacingAndGlyphs" class="eq">=</text>
<text x="394.8" y="183" textLength="15.5" lengthAdjust="spacingAndGlyphs">57.3</text>
<text x="413.8" y="183" textLength="9.9" lengthAdjust="spacingAndGlyphs">m.</text>
<text x="5.4" y="366.5" textLength="9.5" lengthAdjust="spacingAndGlyphs" class="b">(c)</text>
<text x="19.2" y="366.5" textLength="27" lengthAdjust="spacingAndGlyphs">Heavy</text>
<text x="50.2" y="366.5" textLength="34.9" lengthAdjust="spacingAndGlyphs">airplane;</text>
<text x="90.4" y="366.5" textLength="4.5" lengthAdjust="spacingAndGlyphs">Γ</text>
<text x="95.9" y="368.3" textLength="3.5" lengthAdjust="spacingAndGlyphs" class="sub">0</text>
<text x="104.9" y="366.5" textLength="6" lengthAdjust="spacingAndGlyphs" class="eq">=</text>
<text x="117.4" y="366.5" textLength="13.5" lengthAdjust="spacingAndGlyphs">458</text>
<text x="134.9" y="366.5" textLength="7" lengthAdjust="spacingAndGlyphs">m</text>
<text x="142.9" y="363.1" textLength="3.5" lengthAdjust="spacingAndGlyphs" class="sup">2</text>
<text x="147.9" y="366.5" textLength="10.5" lengthAdjust="spacingAndGlyphs">/s;</text>
<text x="163.9" y="366.5" textLength="6.5" lengthAdjust="spacingAndGlyphs" class="i">U</text>
<text x="170.9" y="368.3" textLength="5" lengthAdjust="spacingAndGlyphs" class="sub">∞</text>
<text x="182.4" y="366.5" textLength="6.1" lengthAdjust="spacingAndGlyphs" class="eq">=</text>
<text x="194.1" y="366.5" textLength="4.3" lengthAdjust="spacingAndGlyphs">0</text>
<text x="202.6" y="366.5" textLength="19.8" lengthAdjust="spacingAndGlyphs">m/s;</text>
<text x="5.4" y="379.2" textLength="4.7" lengthAdjust="spacingAndGlyphs" class="i">h</text>
<text x="10.1" y="381" textLength="3.3" lengthAdjust="spacingAndGlyphs" class="sub">0</text>
<text x="17.4" y="379.2" textLength="6.3" lengthAdjust="spacingAndGlyphs" class="eq">=</text>
<text x="27.2" y="379.2" textLength="20" lengthAdjust="spacingAndGlyphs">47.35</text>
<text x="50.6" y="379.2" textLength="9.5" lengthAdjust="spacingAndGlyphs">m;</text>
<text x="63.4" y="379.2" textLength="4.7" lengthAdjust="spacingAndGlyphs" class="i">B</text>
<text x="71.6" y="379.2" textLength="6.3" lengthAdjust="spacingAndGlyphs" class="eq">=</text>
<text x="81.9" y="379.2" textLength="15.5" lengthAdjust="spacingAndGlyphs">60.3</text>
<text x="100.9" y="379.2" textLength="9.9" lengthAdjust="spacingAndGlyphs">m.</text>
<text x="326.6" y="366.5" textLength="10.8" lengthAdjust="spacingAndGlyphs" class="b">(d)</text>
<text x="342" y="366.5" textLength="26.8" lengthAdjust="spacingAndGlyphs">Heavy</text>
<text x="373.3" y="366.5" textLength="35.2" lengthAdjust="spacingAndGlyphs">airplane;</text>
<text x="413.7" y="366.5" textLength="4.8" lengthAdjust="spacingAndGlyphs">Γ</text>
<text x="419.5" y="368.3" textLength="3.2" lengthAdjust="spacingAndGlyphs" class="sub">0</text>
<text x="427.8" y="366.5" textLength="6" lengthAdjust="spacingAndGlyphs" class="eq">=</text>
<text x="439.8" y="366.5" textLength="13.5" lengthAdjust="spacingAndGlyphs">458</text>
<text x="457.6" y="366.5" textLength="7" lengthAdjust="spacingAndGlyphs">m</text>
<text x="465.4" y="363.1" textLength="3.3" lengthAdjust="spacingAndGlyphs" class="sup">2</text>
<text x="470.2" y="366.5" textLength="10.3" lengthAdjust="spacingAndGlyphs">/s;</text>
<text x="485.7" y="366.5" textLength="6.5" lengthAdjust="spacingAndGlyphs" class="i">U</text>
<text x="492.7" y="368.3" textLength="5.6" lengthAdjust="spacingAndGlyphs" class="sub">∞</text>
<text x="504" y="366.5" textLength="6" lengthAdjust="spacingAndGlyphs" class="eq">=</text>
<text x="516.2" y="366.5" textLength="4" lengthAdjust="spacingAndGlyphs">0</text>
<text x="524.5" y="366.5" textLength="19.7" lengthAdjust="spacingAndGlyphs">m/s;</text>
<text x="326.6" y="379.2" textLength="4.7" lengthAdjust="spacingAndGlyphs" class="i">h</text>
<text x="331.3" y="381" textLength="3.3" lengthAdjust="spacingAndGlyphs" class="sub">0</text>
<text x="338.6" y="379.2" textLength="6.3" lengthAdjust="spacingAndGlyphs" class="eq">=</text>
<text x="348.4" y="379.2" textLength="15.5" lengthAdjust="spacingAndGlyphs">94.7</text>
<text x="367.3" y="379.2" textLength="9.5" lengthAdjust="spacingAndGlyphs">m;</text>
<text x="380.1" y="379.2" textLength="4.7" lengthAdjust="spacingAndGlyphs" class="i">B</text>
<text x="388.3" y="379.2" textLength="6.3" lengthAdjust="spacingAndGlyphs" class="eq">=</text>
<text x="398.6" y="379.2" textLength="15.5" lengthAdjust="spacingAndGlyphs">60.3</text>
<text x="417.6" y="379.2" textLength="9.9" lengthAdjust="spacingAndGlyphs">m.</text>
</g>
</svg>
</body></html>
